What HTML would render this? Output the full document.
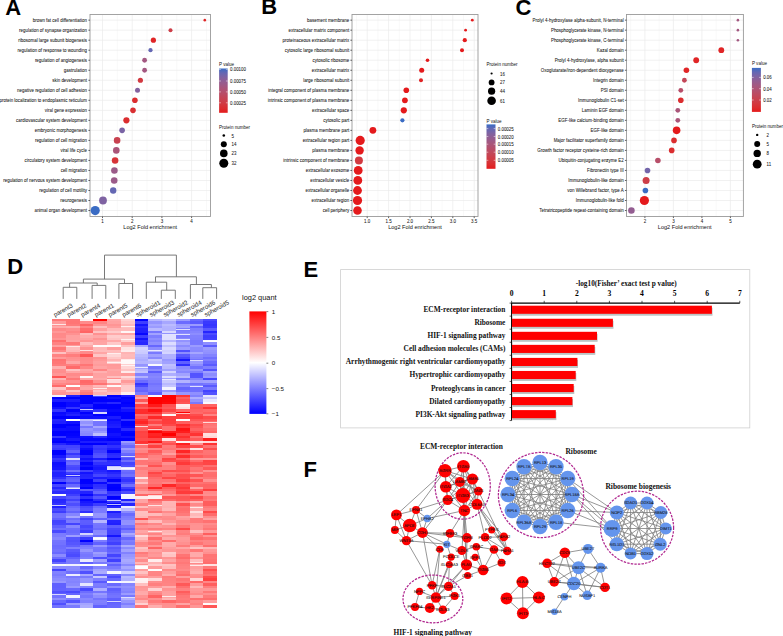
<!DOCTYPE html><html><head><meta charset="utf-8"><style>html,body{margin:0;padding:0;background:#fff;}svg{display:block;}</style></head><body>
<svg width="783" height="636" viewBox="0 0 783 636" font-family="Liberation Sans, sans-serif">
<defs>
<linearGradient id="gp" x1="0" y1="1" x2="0" y2="0"><stop offset="0.0" stop-color="#e41a1c"/><stop offset="0.1" stop-color="#db2d2f"/><stop offset="0.2" stop-color="#d23940"/><stop offset="0.3" stop-color="#c84250"/><stop offset="0.4" stop-color="#bd4a60"/><stop offset="0.5" stop-color="#b15171"/><stop offset="0.6" stop-color="#a35881"/><stop offset="0.7" stop-color="#935d91"/><stop offset="0.8" stop-color="#7f63a2"/><stop offset="0.9" stop-color="#6467b3"/><stop offset="1.0" stop-color="#3a6cc4"/></linearGradient>
<linearGradient id="gq" x1="0" y1="0" x2="0" y2="1"><stop offset="0" stop-color="#ff0000"/><stop offset="0.5" stop-color="#ffffff"/><stop offset="1" stop-color="#0000ff"/></linearGradient>
</defs>
<text x="5.2" y="14.6" font-size="22" font-weight="bold" fill="#000">A</text>
<line x1="117.35" y1="14.5" x2="117.35" y2="216.5" stroke="#f2f2f2" stroke-width="0.5"/>
<line x1="147.05" y1="14.5" x2="147.05" y2="216.5" stroke="#f2f2f2" stroke-width="0.5"/>
<line x1="176.75" y1="14.5" x2="176.75" y2="216.5" stroke="#f2f2f2" stroke-width="0.5"/>
<line x1="206.45" y1="14.5" x2="206.45" y2="216.5" stroke="#f2f2f2" stroke-width="0.5"/>
<line x1="90" y1="20.15" x2="210.5" y2="20.15" stroke="#ebebeb" stroke-width="0.7"/>
<line x1="90" y1="30.17" x2="210.5" y2="30.17" stroke="#ebebeb" stroke-width="0.7"/>
<line x1="90" y1="40.19" x2="210.5" y2="40.19" stroke="#ebebeb" stroke-width="0.7"/>
<line x1="90" y1="50.21" x2="210.5" y2="50.21" stroke="#ebebeb" stroke-width="0.7"/>
<line x1="90" y1="60.23" x2="210.5" y2="60.23" stroke="#ebebeb" stroke-width="0.7"/>
<line x1="90" y1="70.25" x2="210.5" y2="70.25" stroke="#ebebeb" stroke-width="0.7"/>
<line x1="90" y1="80.27" x2="210.5" y2="80.27" stroke="#ebebeb" stroke-width="0.7"/>
<line x1="90" y1="90.29" x2="210.5" y2="90.29" stroke="#ebebeb" stroke-width="0.7"/>
<line x1="90" y1="100.31" x2="210.5" y2="100.31" stroke="#ebebeb" stroke-width="0.7"/>
<line x1="90" y1="110.33" x2="210.5" y2="110.33" stroke="#ebebeb" stroke-width="0.7"/>
<line x1="90" y1="120.35" x2="210.5" y2="120.35" stroke="#ebebeb" stroke-width="0.7"/>
<line x1="90" y1="130.37" x2="210.5" y2="130.37" stroke="#ebebeb" stroke-width="0.7"/>
<line x1="90" y1="140.39" x2="210.5" y2="140.39" stroke="#ebebeb" stroke-width="0.7"/>
<line x1="90" y1="150.41" x2="210.5" y2="150.41" stroke="#ebebeb" stroke-width="0.7"/>
<line x1="90" y1="160.43" x2="210.5" y2="160.43" stroke="#ebebeb" stroke-width="0.7"/>
<line x1="90" y1="170.45" x2="210.5" y2="170.45" stroke="#ebebeb" stroke-width="0.7"/>
<line x1="90" y1="180.47" x2="210.5" y2="180.47" stroke="#ebebeb" stroke-width="0.7"/>
<line x1="90" y1="190.49" x2="210.5" y2="190.49" stroke="#ebebeb" stroke-width="0.7"/>
<line x1="90" y1="200.51" x2="210.5" y2="200.51" stroke="#ebebeb" stroke-width="0.7"/>
<line x1="90" y1="210.53" x2="210.5" y2="210.53" stroke="#ebebeb" stroke-width="0.7"/>
<line x1="102.5" y1="14.5" x2="102.5" y2="216.5" stroke="#ebebeb" stroke-width="0.7"/>
<line x1="132.2" y1="14.5" x2="132.2" y2="216.5" stroke="#ebebeb" stroke-width="0.7"/>
<line x1="161.9" y1="14.5" x2="161.9" y2="216.5" stroke="#ebebeb" stroke-width="0.7"/>
<line x1="191.6" y1="14.5" x2="191.6" y2="216.5" stroke="#ebebeb" stroke-width="0.7"/>
<rect x="90" y="14.5" width="120.5" height="202" fill="none" stroke="#9a9a9a" stroke-width="0.9"/>
<line x1="88.4" y1="20.15" x2="90" y2="20.15" stroke="#444" stroke-width="0.85"/>
<text x="86.9" y="22" font-size="4.46" text-anchor="end" fill="#151515" stroke="#151515" stroke-width="0.05">brown fat cell differentiation</text>
<line x1="88.4" y1="30.17" x2="90" y2="30.17" stroke="#444" stroke-width="0.85"/>
<text x="86.9" y="32.02" font-size="4.46" text-anchor="end" fill="#151515" stroke="#151515" stroke-width="0.05">regulation of synapse organization</text>
<line x1="88.4" y1="40.19" x2="90" y2="40.19" stroke="#444" stroke-width="0.85"/>
<text x="86.9" y="42.04" font-size="4.46" text-anchor="end" fill="#151515" stroke="#151515" stroke-width="0.05">ribosomal large subunit biogenesis</text>
<line x1="88.4" y1="50.21" x2="90" y2="50.21" stroke="#444" stroke-width="0.85"/>
<text x="86.9" y="52.06" font-size="4.46" text-anchor="end" fill="#151515" stroke="#151515" stroke-width="0.05">regulation of response to wounding</text>
<line x1="88.4" y1="60.23" x2="90" y2="60.23" stroke="#444" stroke-width="0.85"/>
<text x="86.9" y="62.08" font-size="4.46" text-anchor="end" fill="#151515" stroke="#151515" stroke-width="0.05">regulation of angiogenesis</text>
<line x1="88.4" y1="70.25" x2="90" y2="70.25" stroke="#444" stroke-width="0.85"/>
<text x="86.9" y="72.1" font-size="4.46" text-anchor="end" fill="#151515" stroke="#151515" stroke-width="0.05">gastrulation</text>
<line x1="88.4" y1="80.27" x2="90" y2="80.27" stroke="#444" stroke-width="0.85"/>
<text x="86.9" y="82.12" font-size="4.46" text-anchor="end" fill="#151515" stroke="#151515" stroke-width="0.05">skin development</text>
<line x1="88.4" y1="90.29" x2="90" y2="90.29" stroke="#444" stroke-width="0.85"/>
<text x="86.9" y="92.14" font-size="4.46" text-anchor="end" fill="#151515" stroke="#151515" stroke-width="0.05">negative regulation of cell adhesion</text>
<line x1="88.4" y1="100.31" x2="90" y2="100.31" stroke="#444" stroke-width="0.85"/>
<text x="86.9" y="102.16" font-size="4.46" text-anchor="end" fill="#151515" stroke="#151515" stroke-width="0.05">protein localization to endoplasmic reticulum</text>
<line x1="88.4" y1="110.33" x2="90" y2="110.33" stroke="#444" stroke-width="0.85"/>
<text x="86.9" y="112.18" font-size="4.46" text-anchor="end" fill="#151515" stroke="#151515" stroke-width="0.05">viral gene expression</text>
<line x1="88.4" y1="120.35" x2="90" y2="120.35" stroke="#444" stroke-width="0.85"/>
<text x="86.9" y="122.2" font-size="4.46" text-anchor="end" fill="#151515" stroke="#151515" stroke-width="0.05">cardiovascular system development</text>
<line x1="88.4" y1="130.37" x2="90" y2="130.37" stroke="#444" stroke-width="0.85"/>
<text x="86.9" y="132.22" font-size="4.46" text-anchor="end" fill="#151515" stroke="#151515" stroke-width="0.05">embryonic morphogenesis</text>
<line x1="88.4" y1="140.39" x2="90" y2="140.39" stroke="#444" stroke-width="0.85"/>
<text x="86.9" y="142.24" font-size="4.46" text-anchor="end" fill="#151515" stroke="#151515" stroke-width="0.05">regulation of cell migration</text>
<line x1="88.4" y1="150.41" x2="90" y2="150.41" stroke="#444" stroke-width="0.85"/>
<text x="86.9" y="152.26" font-size="4.46" text-anchor="end" fill="#151515" stroke="#151515" stroke-width="0.05">viral life cycle</text>
<line x1="88.4" y1="160.43" x2="90" y2="160.43" stroke="#444" stroke-width="0.85"/>
<text x="86.9" y="162.28" font-size="4.46" text-anchor="end" fill="#151515" stroke="#151515" stroke-width="0.05">circulatory system development</text>
<line x1="88.4" y1="170.45" x2="90" y2="170.45" stroke="#444" stroke-width="0.85"/>
<text x="86.9" y="172.3" font-size="4.46" text-anchor="end" fill="#151515" stroke="#151515" stroke-width="0.05">cell migration</text>
<line x1="88.4" y1="180.47" x2="90" y2="180.47" stroke="#444" stroke-width="0.85"/>
<text x="86.9" y="182.32" font-size="4.46" text-anchor="end" fill="#151515" stroke="#151515" stroke-width="0.05">regulation of nervous system development</text>
<line x1="88.4" y1="190.49" x2="90" y2="190.49" stroke="#444" stroke-width="0.85"/>
<text x="86.9" y="192.34" font-size="4.46" text-anchor="end" fill="#151515" stroke="#151515" stroke-width="0.05">regulation of cell motility</text>
<line x1="88.4" y1="200.51" x2="90" y2="200.51" stroke="#444" stroke-width="0.85"/>
<text x="86.9" y="202.36" font-size="4.46" text-anchor="end" fill="#151515" stroke="#151515" stroke-width="0.05">neurogenesis</text>
<line x1="88.4" y1="210.53" x2="90" y2="210.53" stroke="#444" stroke-width="0.85"/>
<text x="86.9" y="212.38" font-size="4.46" text-anchor="end" fill="#151515" stroke="#151515" stroke-width="0.05">animal organ development</text>
<line x1="102.5" y1="216.5" x2="102.5" y2="218.1" stroke="#444" stroke-width="0.85"/>
<text x="102.5" y="222.6" font-size="4.46" text-anchor="middle" fill="#151515" stroke="#151515" stroke-width="0.05">1</text>
<line x1="132.2" y1="216.5" x2="132.2" y2="218.1" stroke="#444" stroke-width="0.85"/>
<text x="132.2" y="222.6" font-size="4.46" text-anchor="middle" fill="#151515" stroke="#151515" stroke-width="0.05">2</text>
<line x1="161.9" y1="216.5" x2="161.9" y2="218.1" stroke="#444" stroke-width="0.85"/>
<text x="161.9" y="222.6" font-size="4.46" text-anchor="middle" fill="#151515" stroke="#151515" stroke-width="0.05">3</text>
<line x1="191.6" y1="216.5" x2="191.6" y2="218.1" stroke="#444" stroke-width="0.85"/>
<text x="191.6" y="222.6" font-size="4.46" text-anchor="middle" fill="#151515" stroke="#151515" stroke-width="0.05">4</text>
<text x="150.2" y="229.2" font-size="5.55" text-anchor="middle" fill="#111">Log2 Fold enrichment</text>
<circle cx="204.8" cy="20.15" r="1.3" fill="#e02526"/>
<circle cx="170.5" cy="30.17" r="2" fill="#cd3e48"/>
<circle cx="153.4" cy="40.19" r="2.6" fill="#e02526"/>
<circle cx="150.5" cy="50.21" r="2.1" fill="#6467b3"/>
<circle cx="144.6" cy="60.23" r="2.4" fill="#a35881"/>
<circle cx="144.6" cy="70.25" r="2.4" fill="#a35881"/>
<circle cx="140.4" cy="80.27" r="2.6" fill="#d23940"/>
<circle cx="137.5" cy="90.29" r="2.5" fill="#83629f"/>
<circle cx="134.9" cy="100.31" r="2.8" fill="#db2d2f"/>
<circle cx="133" cy="110.33" r="2.8" fill="#d92f32"/>
<circle cx="126.4" cy="120.35" r="3.1" fill="#db2d2f"/>
<circle cx="122.1" cy="130.37" r="2.8" fill="#7a64a5"/>
<circle cx="117.1" cy="140.39" r="3.3" fill="#c84250"/>
<circle cx="116.3" cy="150.41" r="3.3" fill="#aa5579"/>
<circle cx="115.1" cy="160.43" r="3.3" fill="#d73338"/>
<circle cx="114.4" cy="170.45" r="3.3" fill="#9b5b89"/>
<circle cx="114.2" cy="180.47" r="3.3" fill="#9b5b89"/>
<circle cx="113.2" cy="190.49" r="3.2" fill="#6467b3"/>
<circle cx="103" cy="200.51" r="3.9" fill="#7f63a2"/>
<circle cx="95.2" cy="210.53" r="4.6" fill="#3a6cc4"/>
<text x="219" y="66.4" font-size="4.55" fill="#111">P value</text>
<rect x="219.1" y="68.5" width="8.6" height="44.3" fill="url(#gp)"/>
<line x1="219.1" y1="69.4" x2="220.9" y2="69.4" stroke="#fff" stroke-width="0.5"/>
<line x1="225.9" y1="69.4" x2="227.7" y2="69.4" stroke="#fff" stroke-width="0.5"/>
<text x="230" y="71.4" font-size="4.42" fill="#151515" stroke="#151515" stroke-width="0.05">0.00100</text>
<line x1="219.1" y1="81" x2="220.9" y2="81" stroke="#fff" stroke-width="0.5"/>
<line x1="225.9" y1="81" x2="227.7" y2="81" stroke="#fff" stroke-width="0.5"/>
<text x="230" y="83" font-size="4.42" fill="#151515" stroke="#151515" stroke-width="0.05">0.00075</text>
<line x1="219.1" y1="91.9" x2="220.9" y2="91.9" stroke="#fff" stroke-width="0.5"/>
<line x1="225.9" y1="91.9" x2="227.7" y2="91.9" stroke="#fff" stroke-width="0.5"/>
<text x="230" y="93.9" font-size="4.42" fill="#151515" stroke="#151515" stroke-width="0.05">0.00050</text>
<line x1="219.1" y1="102.8" x2="220.9" y2="102.8" stroke="#fff" stroke-width="0.5"/>
<line x1="225.9" y1="102.8" x2="227.7" y2="102.8" stroke="#fff" stroke-width="0.5"/>
<text x="230" y="104.8" font-size="4.42" fill="#151515" stroke="#151515" stroke-width="0.05">0.00025</text>
<text x="219" y="129" font-size="4.55" fill="#111">Protein number</text>
<circle cx="223.8" cy="135.5" r="1.3" fill="#000"/>
<text x="231.5" y="137.5" font-size="4.42" fill="#151515" stroke="#151515" stroke-width="0.05">5</text>
<circle cx="223.8" cy="144.3" r="3" fill="#000"/>
<text x="231.5" y="146.3" font-size="4.42" fill="#151515" stroke="#151515" stroke-width="0.05">14</text>
<circle cx="223.8" cy="153.4" r="3.8" fill="#000"/>
<text x="231.5" y="155.4" font-size="4.42" fill="#151515" stroke="#151515" stroke-width="0.05">23</text>
<circle cx="223.8" cy="163.2" r="4.5" fill="#000"/>
<text x="231.5" y="165.2" font-size="4.42" fill="#151515" stroke="#151515" stroke-width="0.05">32</text>
<text x="261.2" y="14.4" font-size="22" font-weight="bold" fill="#000">B</text>
<line x1="356.5" y1="14.5" x2="356.5" y2="216.5" stroke="#f2f2f2" stroke-width="0.5"/>
<line x1="377.9" y1="14.5" x2="377.9" y2="216.5" stroke="#f2f2f2" stroke-width="0.5"/>
<line x1="399.3" y1="14.5" x2="399.3" y2="216.5" stroke="#f2f2f2" stroke-width="0.5"/>
<line x1="420.7" y1="14.5" x2="420.7" y2="216.5" stroke="#f2f2f2" stroke-width="0.5"/>
<line x1="442.1" y1="14.5" x2="442.1" y2="216.5" stroke="#f2f2f2" stroke-width="0.5"/>
<line x1="463.5" y1="14.5" x2="463.5" y2="216.5" stroke="#f2f2f2" stroke-width="0.5"/>
<line x1="352" y1="20.15" x2="478" y2="20.15" stroke="#ebebeb" stroke-width="0.7"/>
<line x1="352" y1="30.17" x2="478" y2="30.17" stroke="#ebebeb" stroke-width="0.7"/>
<line x1="352" y1="40.19" x2="478" y2="40.19" stroke="#ebebeb" stroke-width="0.7"/>
<line x1="352" y1="50.21" x2="478" y2="50.21" stroke="#ebebeb" stroke-width="0.7"/>
<line x1="352" y1="60.23" x2="478" y2="60.23" stroke="#ebebeb" stroke-width="0.7"/>
<line x1="352" y1="70.25" x2="478" y2="70.25" stroke="#ebebeb" stroke-width="0.7"/>
<line x1="352" y1="80.27" x2="478" y2="80.27" stroke="#ebebeb" stroke-width="0.7"/>
<line x1="352" y1="90.29" x2="478" y2="90.29" stroke="#ebebeb" stroke-width="0.7"/>
<line x1="352" y1="100.31" x2="478" y2="100.31" stroke="#ebebeb" stroke-width="0.7"/>
<line x1="352" y1="110.33" x2="478" y2="110.33" stroke="#ebebeb" stroke-width="0.7"/>
<line x1="352" y1="120.35" x2="478" y2="120.35" stroke="#ebebeb" stroke-width="0.7"/>
<line x1="352" y1="130.37" x2="478" y2="130.37" stroke="#ebebeb" stroke-width="0.7"/>
<line x1="352" y1="140.39" x2="478" y2="140.39" stroke="#ebebeb" stroke-width="0.7"/>
<line x1="352" y1="150.41" x2="478" y2="150.41" stroke="#ebebeb" stroke-width="0.7"/>
<line x1="352" y1="160.43" x2="478" y2="160.43" stroke="#ebebeb" stroke-width="0.7"/>
<line x1="352" y1="170.45" x2="478" y2="170.45" stroke="#ebebeb" stroke-width="0.7"/>
<line x1="352" y1="180.47" x2="478" y2="180.47" stroke="#ebebeb" stroke-width="0.7"/>
<line x1="352" y1="190.49" x2="478" y2="190.49" stroke="#ebebeb" stroke-width="0.7"/>
<line x1="352" y1="200.51" x2="478" y2="200.51" stroke="#ebebeb" stroke-width="0.7"/>
<line x1="352" y1="210.53" x2="478" y2="210.53" stroke="#ebebeb" stroke-width="0.7"/>
<line x1="367.2" y1="14.5" x2="367.2" y2="216.5" stroke="#ebebeb" stroke-width="0.7"/>
<line x1="388.6" y1="14.5" x2="388.6" y2="216.5" stroke="#ebebeb" stroke-width="0.7"/>
<line x1="410" y1="14.5" x2="410" y2="216.5" stroke="#ebebeb" stroke-width="0.7"/>
<line x1="431.4" y1="14.5" x2="431.4" y2="216.5" stroke="#ebebeb" stroke-width="0.7"/>
<line x1="452.8" y1="14.5" x2="452.8" y2="216.5" stroke="#ebebeb" stroke-width="0.7"/>
<line x1="474.2" y1="14.5" x2="474.2" y2="216.5" stroke="#ebebeb" stroke-width="0.7"/>
<rect x="352" y="14.5" width="126" height="202" fill="none" stroke="#9a9a9a" stroke-width="0.9"/>
<line x1="350.4" y1="20.15" x2="352" y2="20.15" stroke="#444" stroke-width="0.85"/>
<text x="349.2" y="22" font-size="4.46" text-anchor="end" fill="#151515" stroke="#151515" stroke-width="0.05">basement membrane</text>
<line x1="350.4" y1="30.17" x2="352" y2="30.17" stroke="#444" stroke-width="0.85"/>
<text x="349.2" y="32.02" font-size="4.46" text-anchor="end" fill="#151515" stroke="#151515" stroke-width="0.05">extracellular matrix component</text>
<line x1="350.4" y1="40.19" x2="352" y2="40.19" stroke="#444" stroke-width="0.85"/>
<text x="349.2" y="42.04" font-size="4.46" text-anchor="end" fill="#151515" stroke="#151515" stroke-width="0.05">proteinaceous extracellular matrix</text>
<line x1="350.4" y1="50.21" x2="352" y2="50.21" stroke="#444" stroke-width="0.85"/>
<text x="349.2" y="52.06" font-size="4.46" text-anchor="end" fill="#151515" stroke="#151515" stroke-width="0.05">cytosolic large ribosomal subunit</text>
<line x1="350.4" y1="60.23" x2="352" y2="60.23" stroke="#444" stroke-width="0.85"/>
<text x="349.2" y="62.08" font-size="4.46" text-anchor="end" fill="#151515" stroke="#151515" stroke-width="0.05">cytosolic ribosome</text>
<line x1="350.4" y1="70.25" x2="352" y2="70.25" stroke="#444" stroke-width="0.85"/>
<text x="349.2" y="72.1" font-size="4.46" text-anchor="end" fill="#151515" stroke="#151515" stroke-width="0.05">extracellular matrix</text>
<line x1="350.4" y1="80.27" x2="352" y2="80.27" stroke="#444" stroke-width="0.85"/>
<text x="349.2" y="82.12" font-size="4.46" text-anchor="end" fill="#151515" stroke="#151515" stroke-width="0.05">large ribosomal subunit</text>
<line x1="350.4" y1="90.29" x2="352" y2="90.29" stroke="#444" stroke-width="0.85"/>
<text x="349.2" y="92.14" font-size="4.46" text-anchor="end" fill="#151515" stroke="#151515" stroke-width="0.05">integral component of plasma membrane</text>
<line x1="350.4" y1="100.31" x2="352" y2="100.31" stroke="#444" stroke-width="0.85"/>
<text x="349.2" y="102.16" font-size="4.46" text-anchor="end" fill="#151515" stroke="#151515" stroke-width="0.05">intrinsic component of plasma membrane</text>
<line x1="350.4" y1="110.33" x2="352" y2="110.33" stroke="#444" stroke-width="0.85"/>
<text x="349.2" y="112.18" font-size="4.46" text-anchor="end" fill="#151515" stroke="#151515" stroke-width="0.05">extracellular space</text>
<line x1="350.4" y1="120.35" x2="352" y2="120.35" stroke="#444" stroke-width="0.85"/>
<text x="349.2" y="122.2" font-size="4.46" text-anchor="end" fill="#151515" stroke="#151515" stroke-width="0.05">cytosolic part</text>
<line x1="350.4" y1="130.37" x2="352" y2="130.37" stroke="#444" stroke-width="0.85"/>
<text x="349.2" y="132.22" font-size="4.46" text-anchor="end" fill="#151515" stroke="#151515" stroke-width="0.05">plasma membrane part</text>
<line x1="350.4" y1="140.39" x2="352" y2="140.39" stroke="#444" stroke-width="0.85"/>
<text x="349.2" y="142.24" font-size="4.46" text-anchor="end" fill="#151515" stroke="#151515" stroke-width="0.05">extracellular region part</text>
<line x1="350.4" y1="150.41" x2="352" y2="150.41" stroke="#444" stroke-width="0.85"/>
<text x="349.2" y="152.26" font-size="4.46" text-anchor="end" fill="#151515" stroke="#151515" stroke-width="0.05">plasma membrane</text>
<line x1="350.4" y1="160.43" x2="352" y2="160.43" stroke="#444" stroke-width="0.85"/>
<text x="349.2" y="162.28" font-size="4.46" text-anchor="end" fill="#151515" stroke="#151515" stroke-width="0.05">intrinsic component of membrane</text>
<line x1="350.4" y1="170.45" x2="352" y2="170.45" stroke="#444" stroke-width="0.85"/>
<text x="349.2" y="172.3" font-size="4.46" text-anchor="end" fill="#151515" stroke="#151515" stroke-width="0.05">extracellular exosome</text>
<line x1="350.4" y1="180.47" x2="352" y2="180.47" stroke="#444" stroke-width="0.85"/>
<text x="349.2" y="182.32" font-size="4.46" text-anchor="end" fill="#151515" stroke="#151515" stroke-width="0.05">extracellular vesicle</text>
<line x1="350.4" y1="190.49" x2="352" y2="190.49" stroke="#444" stroke-width="0.85"/>
<text x="349.2" y="192.34" font-size="4.46" text-anchor="end" fill="#151515" stroke="#151515" stroke-width="0.05">extracellular organelle</text>
<line x1="350.4" y1="200.51" x2="352" y2="200.51" stroke="#444" stroke-width="0.85"/>
<text x="349.2" y="202.36" font-size="4.46" text-anchor="end" fill="#151515" stroke="#151515" stroke-width="0.05">extracellular region</text>
<line x1="350.4" y1="210.53" x2="352" y2="210.53" stroke="#444" stroke-width="0.85"/>
<text x="349.2" y="212.38" font-size="4.46" text-anchor="end" fill="#151515" stroke="#151515" stroke-width="0.05">cell periphery</text>
<line x1="367.2" y1="216.5" x2="367.2" y2="218.1" stroke="#444" stroke-width="0.85"/>
<text x="367.2" y="222.6" font-size="4.46" text-anchor="middle" fill="#151515" stroke="#151515" stroke-width="0.05">1.0</text>
<line x1="388.6" y1="216.5" x2="388.6" y2="218.1" stroke="#444" stroke-width="0.85"/>
<text x="388.6" y="222.6" font-size="4.46" text-anchor="middle" fill="#151515" stroke="#151515" stroke-width="0.05">1.5</text>
<line x1="410" y1="216.5" x2="410" y2="218.1" stroke="#444" stroke-width="0.85"/>
<text x="410" y="222.6" font-size="4.46" text-anchor="middle" fill="#151515" stroke="#151515" stroke-width="0.05">2.0</text>
<line x1="431.4" y1="216.5" x2="431.4" y2="218.1" stroke="#444" stroke-width="0.85"/>
<text x="431.4" y="222.6" font-size="4.46" text-anchor="middle" fill="#151515" stroke="#151515" stroke-width="0.05">2.5</text>
<line x1="452.8" y1="216.5" x2="452.8" y2="218.1" stroke="#444" stroke-width="0.85"/>
<text x="452.8" y="222.6" font-size="4.46" text-anchor="middle" fill="#151515" stroke="#151515" stroke-width="0.05">3.0</text>
<line x1="474.2" y1="216.5" x2="474.2" y2="218.1" stroke="#444" stroke-width="0.85"/>
<text x="474.2" y="222.6" font-size="4.46" text-anchor="middle" fill="#151515" stroke="#151515" stroke-width="0.05">3.5</text>
<text x="415" y="229.2" font-size="5.55" text-anchor="middle" fill="#111">Log2 Fold enrichment</text>
<circle cx="472.3" cy="20.15" r="1.4" fill="#e41a1c"/>
<circle cx="465.6" cy="30.17" r="1.4" fill="#e41a1c"/>
<circle cx="464.8" cy="40.19" r="2.1" fill="#e41a1c"/>
<circle cx="462" cy="50.21" r="2" fill="#e41a1c"/>
<circle cx="427.5" cy="60.23" r="1.8" fill="#e41a1c"/>
<circle cx="421.7" cy="70.25" r="2.5" fill="#e41a1c"/>
<circle cx="421" cy="80.27" r="2" fill="#e02526"/>
<circle cx="406.3" cy="90.29" r="2.8" fill="#e41a1c"/>
<circle cx="404.9" cy="100.31" r="2.9" fill="#e41a1c"/>
<circle cx="403.8" cy="110.33" r="3.1" fill="#e41a1c"/>
<circle cx="402.4" cy="120.35" r="2.1" fill="#3a6cc4"/>
<circle cx="372.9" cy="130.37" r="3.4" fill="#e41a1c"/>
<circle cx="360.2" cy="140.39" r="4.6" fill="#e41a1c"/>
<circle cx="359.6" cy="150.41" r="4.2" fill="#e41a1c"/>
<circle cx="358.9" cy="160.43" r="4" fill="#d23940"/>
<circle cx="358.2" cy="170.45" r="4.4" fill="#e41a1c"/>
<circle cx="357.8" cy="180.47" r="4.4" fill="#e41a1c"/>
<circle cx="357.5" cy="190.49" r="4.4" fill="#e41a1c"/>
<circle cx="357.5" cy="200.51" r="4.6" fill="#e41a1c"/>
<circle cx="357.5" cy="210.53" r="4.3" fill="#e41a1c"/>
<text x="486.5" y="66.2" font-size="4.55" fill="#111">Protein number</text>
<circle cx="491.6" cy="73.5" r="1.1" fill="#000"/>
<text x="500" y="75.5" font-size="4.42" fill="#151515" stroke="#151515" stroke-width="0.05">16</text>
<circle cx="491.6" cy="82.4" r="2.9" fill="#000"/>
<text x="500" y="84.4" font-size="4.42" fill="#151515" stroke="#151515" stroke-width="0.05">27</text>
<circle cx="491.6" cy="91.2" r="3.6" fill="#000"/>
<text x="500" y="93.2" font-size="4.42" fill="#151515" stroke="#151515" stroke-width="0.05">44</text>
<circle cx="491.6" cy="100.8" r="4.3" fill="#000"/>
<text x="500" y="102.8" font-size="4.42" fill="#151515" stroke="#151515" stroke-width="0.05">61</text>
<text x="486.5" y="122.9" font-size="4.55" fill="#111">P value</text>
<rect x="486.5" y="124.4" width="9" height="44.4" fill="url(#gp)"/>
<line x1="486.5" y1="128.6" x2="488.3" y2="128.6" stroke="#fff" stroke-width="0.5"/>
<line x1="493.7" y1="128.6" x2="495.5" y2="128.6" stroke="#fff" stroke-width="0.5"/>
<text x="497.8" y="130.6" font-size="4.42" fill="#151515" stroke="#151515" stroke-width="0.05">0.00025</text>
<line x1="486.5" y1="136.5" x2="488.3" y2="136.5" stroke="#fff" stroke-width="0.5"/>
<line x1="493.7" y1="136.5" x2="495.5" y2="136.5" stroke="#fff" stroke-width="0.5"/>
<text x="497.8" y="138.5" font-size="4.42" fill="#151515" stroke="#151515" stroke-width="0.05">0.00020</text>
<line x1="486.5" y1="144.2" x2="488.3" y2="144.2" stroke="#fff" stroke-width="0.5"/>
<line x1="493.7" y1="144.2" x2="495.5" y2="144.2" stroke="#fff" stroke-width="0.5"/>
<text x="497.8" y="146.2" font-size="4.42" fill="#151515" stroke="#151515" stroke-width="0.05">0.00015</text>
<line x1="486.5" y1="152.2" x2="488.3" y2="152.2" stroke="#fff" stroke-width="0.5"/>
<line x1="493.7" y1="152.2" x2="495.5" y2="152.2" stroke="#fff" stroke-width="0.5"/>
<text x="497.8" y="154.2" font-size="4.42" fill="#151515" stroke="#151515" stroke-width="0.05">0.00010</text>
<line x1="486.5" y1="160.3" x2="488.3" y2="160.3" stroke="#fff" stroke-width="0.5"/>
<line x1="493.7" y1="160.3" x2="495.5" y2="160.3" stroke="#fff" stroke-width="0.5"/>
<text x="497.8" y="162.3" font-size="4.42" fill="#151515" stroke="#151515" stroke-width="0.05">0.00005</text>
<text x="515.5" y="14.6" font-size="22" font-weight="bold" fill="#000">C</text>
<line x1="630.65" y1="14.5" x2="630.65" y2="216.5" stroke="#f2f2f2" stroke-width="0.5"/>
<line x1="659.15" y1="14.5" x2="659.15" y2="216.5" stroke="#f2f2f2" stroke-width="0.5"/>
<line x1="687.65" y1="14.5" x2="687.65" y2="216.5" stroke="#f2f2f2" stroke-width="0.5"/>
<line x1="716.15" y1="14.5" x2="716.15" y2="216.5" stroke="#f2f2f2" stroke-width="0.5"/>
<line x1="626.5" y1="20.15" x2="743.4" y2="20.15" stroke="#ebebeb" stroke-width="0.7"/>
<line x1="626.5" y1="30.17" x2="743.4" y2="30.17" stroke="#ebebeb" stroke-width="0.7"/>
<line x1="626.5" y1="40.19" x2="743.4" y2="40.19" stroke="#ebebeb" stroke-width="0.7"/>
<line x1="626.5" y1="50.21" x2="743.4" y2="50.21" stroke="#ebebeb" stroke-width="0.7"/>
<line x1="626.5" y1="60.23" x2="743.4" y2="60.23" stroke="#ebebeb" stroke-width="0.7"/>
<line x1="626.5" y1="70.25" x2="743.4" y2="70.25" stroke="#ebebeb" stroke-width="0.7"/>
<line x1="626.5" y1="80.27" x2="743.4" y2="80.27" stroke="#ebebeb" stroke-width="0.7"/>
<line x1="626.5" y1="90.29" x2="743.4" y2="90.29" stroke="#ebebeb" stroke-width="0.7"/>
<line x1="626.5" y1="100.31" x2="743.4" y2="100.31" stroke="#ebebeb" stroke-width="0.7"/>
<line x1="626.5" y1="110.33" x2="743.4" y2="110.33" stroke="#ebebeb" stroke-width="0.7"/>
<line x1="626.5" y1="120.35" x2="743.4" y2="120.35" stroke="#ebebeb" stroke-width="0.7"/>
<line x1="626.5" y1="130.37" x2="743.4" y2="130.37" stroke="#ebebeb" stroke-width="0.7"/>
<line x1="626.5" y1="140.39" x2="743.4" y2="140.39" stroke="#ebebeb" stroke-width="0.7"/>
<line x1="626.5" y1="150.41" x2="743.4" y2="150.41" stroke="#ebebeb" stroke-width="0.7"/>
<line x1="626.5" y1="160.43" x2="743.4" y2="160.43" stroke="#ebebeb" stroke-width="0.7"/>
<line x1="626.5" y1="170.45" x2="743.4" y2="170.45" stroke="#ebebeb" stroke-width="0.7"/>
<line x1="626.5" y1="180.47" x2="743.4" y2="180.47" stroke="#ebebeb" stroke-width="0.7"/>
<line x1="626.5" y1="190.49" x2="743.4" y2="190.49" stroke="#ebebeb" stroke-width="0.7"/>
<line x1="626.5" y1="200.51" x2="743.4" y2="200.51" stroke="#ebebeb" stroke-width="0.7"/>
<line x1="626.5" y1="210.53" x2="743.4" y2="210.53" stroke="#ebebeb" stroke-width="0.7"/>
<line x1="644.9" y1="14.5" x2="644.9" y2="216.5" stroke="#ebebeb" stroke-width="0.7"/>
<line x1="673.4" y1="14.5" x2="673.4" y2="216.5" stroke="#ebebeb" stroke-width="0.7"/>
<line x1="701.9" y1="14.5" x2="701.9" y2="216.5" stroke="#ebebeb" stroke-width="0.7"/>
<line x1="730.4" y1="14.5" x2="730.4" y2="216.5" stroke="#ebebeb" stroke-width="0.7"/>
<rect x="626.5" y="14.5" width="116.9" height="202" fill="none" stroke="#9a9a9a" stroke-width="0.9"/>
<line x1="624.9" y1="20.15" x2="626.5" y2="20.15" stroke="#444" stroke-width="0.85"/>
<text x="623.7" y="22" font-size="4.46" text-anchor="end" fill="#151515" stroke="#151515" stroke-width="0.05">Prolyl 4-hydroxylase alpha-subunit, N-terminal</text>
<line x1="624.9" y1="30.17" x2="626.5" y2="30.17" stroke="#444" stroke-width="0.85"/>
<text x="623.7" y="32.02" font-size="4.46" text-anchor="end" fill="#151515" stroke="#151515" stroke-width="0.05">Phosphoglycerate kinase, N-terminal</text>
<line x1="624.9" y1="40.19" x2="626.5" y2="40.19" stroke="#444" stroke-width="0.85"/>
<text x="623.7" y="42.04" font-size="4.46" text-anchor="end" fill="#151515" stroke="#151515" stroke-width="0.05">Phosphoglycerate kinase, C-terminal</text>
<line x1="624.9" y1="50.21" x2="626.5" y2="50.21" stroke="#444" stroke-width="0.85"/>
<text x="623.7" y="52.06" font-size="4.46" text-anchor="end" fill="#151515" stroke="#151515" stroke-width="0.05">Kazal domain</text>
<line x1="624.9" y1="60.23" x2="626.5" y2="60.23" stroke="#444" stroke-width="0.85"/>
<text x="623.7" y="62.08" font-size="4.46" text-anchor="end" fill="#151515" stroke="#151515" stroke-width="0.05">Prolyl 4-hydroxylase, alpha subunit</text>
<line x1="624.9" y1="70.25" x2="626.5" y2="70.25" stroke="#444" stroke-width="0.85"/>
<text x="623.7" y="72.1" font-size="4.46" text-anchor="end" fill="#151515" stroke="#151515" stroke-width="0.05">Oxoglutarate/iron-dependent dioxygenase</text>
<line x1="624.9" y1="80.27" x2="626.5" y2="80.27" stroke="#444" stroke-width="0.85"/>
<text x="623.7" y="82.12" font-size="4.46" text-anchor="end" fill="#151515" stroke="#151515" stroke-width="0.05">Integrin domain</text>
<line x1="624.9" y1="90.29" x2="626.5" y2="90.29" stroke="#444" stroke-width="0.85"/>
<text x="623.7" y="92.14" font-size="4.46" text-anchor="end" fill="#151515" stroke="#151515" stroke-width="0.05">PSI domain</text>
<line x1="624.9" y1="100.31" x2="626.5" y2="100.31" stroke="#444" stroke-width="0.85"/>
<text x="623.7" y="102.16" font-size="4.46" text-anchor="end" fill="#151515" stroke="#151515" stroke-width="0.05">Immunoglobulin C1-set</text>
<line x1="624.9" y1="110.33" x2="626.5" y2="110.33" stroke="#444" stroke-width="0.85"/>
<text x="623.7" y="112.18" font-size="4.46" text-anchor="end" fill="#151515" stroke="#151515" stroke-width="0.05">Laminin EGF domain</text>
<line x1="624.9" y1="120.35" x2="626.5" y2="120.35" stroke="#444" stroke-width="0.85"/>
<text x="623.7" y="122.2" font-size="4.46" text-anchor="end" fill="#151515" stroke="#151515" stroke-width="0.05">EGF-like calcium-binding domain</text>
<line x1="624.9" y1="130.37" x2="626.5" y2="130.37" stroke="#444" stroke-width="0.85"/>
<text x="623.7" y="132.22" font-size="4.46" text-anchor="end" fill="#151515" stroke="#151515" stroke-width="0.05">EGF-like domain</text>
<line x1="624.9" y1="140.39" x2="626.5" y2="140.39" stroke="#444" stroke-width="0.85"/>
<text x="623.7" y="142.24" font-size="4.46" text-anchor="end" fill="#151515" stroke="#151515" stroke-width="0.05">Major facilitator superfamily domain</text>
<line x1="624.9" y1="150.41" x2="626.5" y2="150.41" stroke="#444" stroke-width="0.85"/>
<text x="623.7" y="152.26" font-size="4.46" text-anchor="end" fill="#151515" stroke="#151515" stroke-width="0.05">Growth factor receptor cysteine-rich domain</text>
<line x1="624.9" y1="160.43" x2="626.5" y2="160.43" stroke="#444" stroke-width="0.85"/>
<text x="623.7" y="162.28" font-size="4.46" text-anchor="end" fill="#151515" stroke="#151515" stroke-width="0.05">Ubiquitin-conjugating enzyme E2</text>
<line x1="624.9" y1="170.45" x2="626.5" y2="170.45" stroke="#444" stroke-width="0.85"/>
<text x="623.7" y="172.3" font-size="4.46" text-anchor="end" fill="#151515" stroke="#151515" stroke-width="0.05">Fibronectin type III</text>
<line x1="624.9" y1="180.47" x2="626.5" y2="180.47" stroke="#444" stroke-width="0.85"/>
<text x="623.7" y="182.32" font-size="4.46" text-anchor="end" fill="#151515" stroke="#151515" stroke-width="0.05">Immunoglobulin-like domain</text>
<line x1="624.9" y1="190.49" x2="626.5" y2="190.49" stroke="#444" stroke-width="0.85"/>
<text x="623.7" y="192.34" font-size="4.46" text-anchor="end" fill="#151515" stroke="#151515" stroke-width="0.05">von Willebrand factor, type A</text>
<line x1="624.9" y1="200.51" x2="626.5" y2="200.51" stroke="#444" stroke-width="0.85"/>
<text x="623.7" y="202.36" font-size="4.46" text-anchor="end" fill="#151515" stroke="#151515" stroke-width="0.05">Immunoglobulin-like fold</text>
<line x1="624.9" y1="210.53" x2="626.5" y2="210.53" stroke="#444" stroke-width="0.85"/>
<text x="623.7" y="212.38" font-size="4.46" text-anchor="end" fill="#151515" stroke="#151515" stroke-width="0.05">Tetratricopeptide repeat-containing domain</text>
<line x1="644.9" y1="216.5" x2="644.9" y2="218.1" stroke="#444" stroke-width="0.85"/>
<text x="644.9" y="222.6" font-size="4.46" text-anchor="middle" fill="#151515" stroke="#151515" stroke-width="0.05">2</text>
<line x1="673.4" y1="216.5" x2="673.4" y2="218.1" stroke="#444" stroke-width="0.85"/>
<text x="673.4" y="222.6" font-size="4.46" text-anchor="middle" fill="#151515" stroke="#151515" stroke-width="0.05">3</text>
<line x1="701.9" y1="216.5" x2="701.9" y2="218.1" stroke="#444" stroke-width="0.85"/>
<text x="701.9" y="222.6" font-size="4.46" text-anchor="middle" fill="#151515" stroke="#151515" stroke-width="0.05">4</text>
<line x1="730.4" y1="216.5" x2="730.4" y2="218.1" stroke="#444" stroke-width="0.85"/>
<text x="730.4" y="222.6" font-size="4.46" text-anchor="middle" fill="#151515" stroke="#151515" stroke-width="0.05">5</text>
<text x="684.7" y="229.2" font-size="5.55" text-anchor="middle" fill="#111">Log2 Fold enrichment</text>
<circle cx="737.9" cy="20.15" r="1.3" fill="#a35881"/>
<circle cx="737.9" cy="30.17" r="1.3" fill="#a35881"/>
<circle cx="737.9" cy="40.19" r="1.3" fill="#a35881"/>
<circle cx="721.3" cy="50.21" r="2.9" fill="#e02526"/>
<circle cx="696.2" cy="60.23" r="2.9" fill="#e02526"/>
<circle cx="686.4" cy="70.25" r="2.8" fill="#e02526"/>
<circle cx="684.4" cy="80.27" r="2.4" fill="#c34758"/>
<circle cx="680.8" cy="90.29" r="2.4" fill="#b74e69"/>
<circle cx="680.8" cy="100.31" r="2.8" fill="#db2d2f"/>
<circle cx="677.8" cy="110.33" r="2.4" fill="#aa5579"/>
<circle cx="677.8" cy="120.35" r="2.4" fill="#aa5579"/>
<circle cx="676.6" cy="130.37" r="3.8" fill="#e41a1c"/>
<circle cx="674" cy="140.39" r="2.8" fill="#db2d2f"/>
<circle cx="671.7" cy="150.41" r="2.8" fill="#db2d2f"/>
<circle cx="657.9" cy="160.43" r="2.8" fill="#b74e69"/>
<circle cx="647.5" cy="170.45" r="2.8" fill="#7365aa"/>
<circle cx="646.1" cy="180.47" r="3.5" fill="#cd3e48"/>
<circle cx="645.4" cy="190.49" r="2.8" fill="#3a6cc4"/>
<circle cx="644.4" cy="200.51" r="4.6" fill="#e41a1c"/>
<circle cx="631.4" cy="210.53" r="3.3" fill="#935d91"/>
<text x="751.9" y="65.4" font-size="4.55" fill="#111">P value</text>
<rect x="751.9" y="67.9" width="9" height="44" fill="url(#gp)"/>
<line x1="751.9" y1="77.4" x2="753.7" y2="77.4" stroke="#fff" stroke-width="0.5"/>
<line x1="759.1" y1="77.4" x2="760.9" y2="77.4" stroke="#fff" stroke-width="0.5"/>
<text x="763.2" y="79.4" font-size="4.42" fill="#151515" stroke="#151515" stroke-width="0.05">0.06</text>
<line x1="751.9" y1="88.7" x2="753.7" y2="88.7" stroke="#fff" stroke-width="0.5"/>
<line x1="759.1" y1="88.7" x2="760.9" y2="88.7" stroke="#fff" stroke-width="0.5"/>
<text x="763.2" y="90.7" font-size="4.42" fill="#151515" stroke="#151515" stroke-width="0.05">0.04</text>
<line x1="751.9" y1="100" x2="753.7" y2="100" stroke="#fff" stroke-width="0.5"/>
<line x1="759.1" y1="100" x2="760.9" y2="100" stroke="#fff" stroke-width="0.5"/>
<text x="763.2" y="102" font-size="4.42" fill="#151515" stroke="#151515" stroke-width="0.05">0.02</text>
<text x="751.9" y="128.2" font-size="4.55" fill="#111">Protein number</text>
<circle cx="757.2" cy="134.9" r="1.2" fill="#000"/>
<text x="766.6" y="136.9" font-size="4.42" fill="#151515" stroke="#151515" stroke-width="0.05">2</text>
<circle cx="757.2" cy="144" r="3" fill="#000"/>
<text x="766.6" y="146" font-size="4.42" fill="#151515" stroke="#151515" stroke-width="0.05">5</text>
<circle cx="757.2" cy="153.4" r="3.7" fill="#000"/>
<text x="766.6" y="155.4" font-size="4.42" fill="#151515" stroke="#151515" stroke-width="0.05">8</text>
<circle cx="757.2" cy="164.2" r="4.4" fill="#000"/>
<text x="766.6" y="166.2" font-size="4.42" fill="#151515" stroke="#151515" stroke-width="0.05">11</text>
<text x="7.2" y="273.9" font-size="22" font-weight="bold" fill="#000">D</text>
<g shape-rendering="crispEdges">
<rect x="52.3" y="318.8" width="14.02" height="2.67" fill="#ff7777"/>
<rect x="66.02" y="318.8" width="14.02" height="2.67" fill="#ff7676"/>
<rect x="79.74" y="318.8" width="14.02" height="2.67" fill="#fff2f2"/>
<rect x="93.46" y="318.8" width="14.02" height="2.67" fill="#ff0000"/>
<rect x="107.18" y="318.8" width="14.02" height="2.67" fill="#ffa7a7"/>
<rect x="120.9" y="318.8" width="14.02" height="2.67" fill="#ffd3d3"/>
<rect x="134.62" y="318.8" width="14.02" height="2.67" fill="#0000ff"/>
<rect x="148.34" y="318.8" width="14.02" height="2.67" fill="#b6b6ff"/>
<rect x="162.06" y="318.8" width="14.02" height="2.67" fill="#c3c3ff"/>
<rect x="175.78" y="318.8" width="14.02" height="2.67" fill="#9b9bff"/>
<rect x="189.5" y="318.8" width="14.02" height="2.67" fill="#6969ff"/>
<rect x="203.22" y="318.8" width="14.02" height="2.67" fill="#4a4aff"/>
<rect x="52.3" y="321.17" width="14.02" height="2.67" fill="#ff9a9a"/>
<rect x="66.02" y="321.17" width="14.02" height="2.67" fill="#ff7575"/>
<rect x="79.74" y="321.17" width="14.02" height="2.67" fill="#ff8b8b"/>
<rect x="93.46" y="321.17" width="14.02" height="2.67" fill="#ff8484"/>
<rect x="107.18" y="321.17" width="14.02" height="2.67" fill="#ffa1a1"/>
<rect x="120.9" y="321.17" width="14.02" height="2.67" fill="#ffc8c8"/>
<rect x="134.62" y="321.17" width="14.02" height="2.67" fill="#3e3eff"/>
<rect x="148.34" y="321.17" width="14.02" height="2.67" fill="#9595ff"/>
<rect x="162.06" y="321.17" width="14.02" height="2.67" fill="#a7a7ff"/>
<rect x="175.78" y="321.17" width="14.02" height="2.67" fill="#6c6cff"/>
<rect x="189.5" y="321.17" width="14.02" height="2.67" fill="#5a5aff"/>
<rect x="203.22" y="321.17" width="14.02" height="2.67" fill="#3939ff"/>
<rect x="52.3" y="323.54" width="14.02" height="2.67" fill="#ff9292"/>
<rect x="66.02" y="323.54" width="14.02" height="2.67" fill="#ff7b7b"/>
<rect x="79.74" y="323.54" width="14.02" height="2.67" fill="#ff6464"/>
<rect x="93.46" y="323.54" width="14.02" height="2.67" fill="#ff9696"/>
<rect x="107.18" y="323.54" width="14.02" height="2.67" fill="#ff9595"/>
<rect x="120.9" y="323.54" width="14.02" height="2.67" fill="#ffb9b9"/>
<rect x="134.62" y="323.54" width="14.02" height="2.67" fill="#1515ff"/>
<rect x="148.34" y="323.54" width="14.02" height="2.67" fill="#a6a6ff"/>
<rect x="162.06" y="323.54" width="14.02" height="2.67" fill="#bbbbff"/>
<rect x="175.78" y="323.54" width="14.02" height="2.67" fill="#9d9dff"/>
<rect x="189.5" y="323.54" width="14.02" height="2.67" fill="#9a9aff"/>
<rect x="203.22" y="323.54" width="14.02" height="2.67" fill="#3434ff"/>
<rect x="52.3" y="325.91" width="14.02" height="2.67" fill="#ffa9a9"/>
<rect x="66.02" y="325.91" width="14.02" height="2.67" fill="#ffaeae"/>
<rect x="79.74" y="325.91" width="14.02" height="2.67" fill="#ff8585"/>
<rect x="93.46" y="325.91" width="14.02" height="2.67" fill="#ffbebe"/>
<rect x="107.18" y="325.91" width="14.02" height="2.67" fill="#ff9d9d"/>
<rect x="120.9" y="325.91" width="14.02" height="2.67" fill="#ffc0c0"/>
<rect x="134.62" y="325.91" width="14.02" height="2.67" fill="#2d2dff"/>
<rect x="148.34" y="325.91" width="14.02" height="2.67" fill="#9b9bff"/>
<rect x="162.06" y="325.91" width="14.02" height="2.67" fill="#b2b2ff"/>
<rect x="175.78" y="325.91" width="14.02" height="2.67" fill="#a4a4ff"/>
<rect x="189.5" y="325.91" width="14.02" height="2.67" fill="#6363ff"/>
<rect x="203.22" y="325.91" width="14.02" height="2.67" fill="#3939ff"/>
<rect x="52.3" y="328.28" width="14.02" height="2.67" fill="#ff8989"/>
<rect x="66.02" y="328.28" width="14.02" height="2.67" fill="#ff8f8f"/>
<rect x="79.74" y="328.28" width="14.02" height="2.67" fill="#ff6d6d"/>
<rect x="93.46" y="328.28" width="14.02" height="2.67" fill="#ffa0a0"/>
<rect x="107.18" y="328.28" width="14.02" height="2.67" fill="#ffb8b8"/>
<rect x="120.9" y="328.28" width="14.02" height="2.67" fill="#ffbbbb"/>
<rect x="134.62" y="328.28" width="14.02" height="2.67" fill="#2121ff"/>
<rect x="148.34" y="328.28" width="14.02" height="2.67" fill="#babaff"/>
<rect x="162.06" y="328.28" width="14.02" height="2.67" fill="#b1b1ff"/>
<rect x="175.78" y="328.28" width="14.02" height="2.67" fill="#7a7aff"/>
<rect x="189.5" y="328.28" width="14.02" height="2.67" fill="#7d7dff"/>
<rect x="203.22" y="328.28" width="14.02" height="2.67" fill="#5a5aff"/>
<rect x="52.3" y="330.64" width="14.02" height="2.67" fill="#ff9898"/>
<rect x="66.02" y="330.64" width="14.02" height="2.67" fill="#ff8686"/>
<rect x="79.74" y="330.64" width="14.02" height="2.67" fill="#ff6565"/>
<rect x="93.46" y="330.64" width="14.02" height="2.67" fill="#ffc2c2"/>
<rect x="107.18" y="330.64" width="14.02" height="2.67" fill="#ffcbcb"/>
<rect x="120.9" y="330.64" width="14.02" height="2.67" fill="#fff6f6"/>
<rect x="134.62" y="330.64" width="14.02" height="2.67" fill="#1f1fff"/>
<rect x="148.34" y="330.64" width="14.02" height="2.67" fill="#7676ff"/>
<rect x="162.06" y="330.64" width="14.02" height="2.67" fill="#d9d9ff"/>
<rect x="175.78" y="330.64" width="14.02" height="2.67" fill="#7f7fff"/>
<rect x="189.5" y="330.64" width="14.02" height="2.67" fill="#8484ff"/>
<rect x="203.22" y="330.64" width="14.02" height="2.67" fill="#2626ff"/>
<rect x="52.3" y="333.01" width="14.02" height="2.67" fill="#ff8989"/>
<rect x="66.02" y="333.01" width="14.02" height="2.67" fill="#ff9191"/>
<rect x="79.74" y="333.01" width="14.02" height="2.67" fill="#ffbcbc"/>
<rect x="93.46" y="333.01" width="14.02" height="2.67" fill="#ff9191"/>
<rect x="107.18" y="333.01" width="14.02" height="2.67" fill="#ffabab"/>
<rect x="120.9" y="333.01" width="14.02" height="2.67" fill="#ffa5a5"/>
<rect x="134.62" y="333.01" width="14.02" height="2.67" fill="#0808ff"/>
<rect x="148.34" y="333.01" width="14.02" height="2.67" fill="#a3a3ff"/>
<rect x="162.06" y="333.01" width="14.02" height="2.67" fill="#9393ff"/>
<rect x="175.78" y="333.01" width="14.02" height="2.67" fill="#8c8cff"/>
<rect x="189.5" y="333.01" width="14.02" height="2.67" fill="#8d8dff"/>
<rect x="203.22" y="333.01" width="14.02" height="2.67" fill="#4d4dff"/>
<rect x="52.3" y="335.38" width="14.02" height="2.67" fill="#ff8a8a"/>
<rect x="66.02" y="335.38" width="14.02" height="2.67" fill="#ffa0a0"/>
<rect x="79.74" y="335.38" width="14.02" height="2.67" fill="#ffadad"/>
<rect x="93.46" y="335.38" width="14.02" height="2.67" fill="#ffa7a7"/>
<rect x="107.18" y="335.38" width="14.02" height="2.67" fill="#ffcccc"/>
<rect x="120.9" y="335.38" width="14.02" height="2.67" fill="#ffc8c8"/>
<rect x="134.62" y="335.38" width="14.02" height="2.67" fill="#3e3eff"/>
<rect x="148.34" y="335.38" width="14.02" height="2.67" fill="#7e7eff"/>
<rect x="162.06" y="335.38" width="14.02" height="2.67" fill="#e0e0ff"/>
<rect x="175.78" y="335.38" width="14.02" height="2.67" fill="#7b7bff"/>
<rect x="189.5" y="335.38" width="14.02" height="2.67" fill="#8080ff"/>
<rect x="203.22" y="335.38" width="14.02" height="2.67" fill="#3d3dff"/>
<rect x="52.3" y="337.75" width="14.02" height="2.67" fill="#ff9494"/>
<rect x="66.02" y="337.75" width="14.02" height="2.67" fill="#ffa0a0"/>
<rect x="79.74" y="337.75" width="14.02" height="2.67" fill="#ffa4a4"/>
<rect x="93.46" y="337.75" width="14.02" height="2.67" fill="#ff9494"/>
<rect x="107.18" y="337.75" width="14.02" height="2.67" fill="#ffc4c4"/>
<rect x="120.9" y="337.75" width="14.02" height="2.67" fill="#ffc9c9"/>
<rect x="134.62" y="337.75" width="14.02" height="2.67" fill="#1515ff"/>
<rect x="148.34" y="337.75" width="14.02" height="2.67" fill="#8e8eff"/>
<rect x="162.06" y="337.75" width="14.02" height="2.67" fill="#dfdfff"/>
<rect x="175.78" y="337.75" width="14.02" height="2.67" fill="#8888ff"/>
<rect x="189.5" y="337.75" width="14.02" height="2.67" fill="#7e7eff"/>
<rect x="203.22" y="337.75" width="14.02" height="2.67" fill="#4040ff"/>
<rect x="52.3" y="340.12" width="14.02" height="2.67" fill="#ff6f6f"/>
<rect x="66.02" y="340.12" width="14.02" height="2.67" fill="#ffa4a4"/>
<rect x="79.74" y="340.12" width="14.02" height="2.67" fill="#ff9595"/>
<rect x="93.46" y="340.12" width="14.02" height="2.67" fill="#ffa1a1"/>
<rect x="107.18" y="340.12" width="14.02" height="2.67" fill="#ffa8a8"/>
<rect x="120.9" y="340.12" width="14.02" height="2.67" fill="#ffcece"/>
<rect x="134.62" y="340.12" width="14.02" height="2.67" fill="#2c2cff"/>
<rect x="148.34" y="340.12" width="14.02" height="2.67" fill="#8383ff"/>
<rect x="162.06" y="340.12" width="14.02" height="2.67" fill="#b7b7ff"/>
<rect x="175.78" y="340.12" width="14.02" height="2.67" fill="#9393ff"/>
<rect x="189.5" y="340.12" width="14.02" height="2.67" fill="#7878ff"/>
<rect x="203.22" y="340.12" width="14.02" height="2.67" fill="#f9f9ff"/>
<rect x="52.3" y="342.49" width="14.02" height="2.67" fill="#ff8282"/>
<rect x="66.02" y="342.49" width="14.02" height="2.67" fill="#ff7979"/>
<rect x="79.74" y="342.49" width="14.02" height="2.67" fill="#ffbdbd"/>
<rect x="93.46" y="342.49" width="14.02" height="2.67" fill="#ffa4a4"/>
<rect x="107.18" y="342.49" width="14.02" height="2.67" fill="#ffc8c8"/>
<rect x="120.9" y="342.49" width="14.02" height="2.67" fill="#ff9f9f"/>
<rect x="134.62" y="342.49" width="14.02" height="2.67" fill="#2626ff"/>
<rect x="148.34" y="342.49" width="14.02" height="2.67" fill="#9191ff"/>
<rect x="162.06" y="342.49" width="14.02" height="2.67" fill="#ddddff"/>
<rect x="175.78" y="342.49" width="14.02" height="2.67" fill="#a5a5ff"/>
<rect x="189.5" y="342.49" width="14.02" height="2.67" fill="#7878ff"/>
<rect x="203.22" y="342.49" width="14.02" height="2.67" fill="#8e8eff"/>
<rect x="52.3" y="344.86" width="14.02" height="2.67" fill="#ff9f9f"/>
<rect x="66.02" y="344.86" width="14.02" height="2.67" fill="#ff9999"/>
<rect x="79.74" y="344.86" width="14.02" height="2.67" fill="#ffaaaa"/>
<rect x="93.46" y="344.86" width="14.02" height="2.67" fill="#fffafa"/>
<rect x="107.18" y="344.86" width="14.02" height="2.67" fill="#fffafa"/>
<rect x="120.9" y="344.86" width="14.02" height="2.67" fill="#ffc3c3"/>
<rect x="134.62" y="344.86" width="14.02" height="2.67" fill="#a6a6ff"/>
<rect x="148.34" y="344.86" width="14.02" height="2.67" fill="#6767ff"/>
<rect x="162.06" y="344.86" width="14.02" height="2.67" fill="#c1c1ff"/>
<rect x="175.78" y="344.86" width="14.02" height="2.67" fill="#8b8bff"/>
<rect x="189.5" y="344.86" width="14.02" height="2.67" fill="#9b9bff"/>
<rect x="203.22" y="344.86" width="14.02" height="2.67" fill="#5c5cff"/>
<rect x="52.3" y="347.23" width="14.02" height="2.67" fill="#ff7575"/>
<rect x="66.02" y="347.23" width="14.02" height="2.67" fill="#ffbcbc"/>
<rect x="79.74" y="347.23" width="14.02" height="2.67" fill="#ff9393"/>
<rect x="93.46" y="347.23" width="14.02" height="2.67" fill="#ffb7b7"/>
<rect x="107.18" y="347.23" width="14.02" height="2.67" fill="#ff9d9d"/>
<rect x="120.9" y="347.23" width="14.02" height="2.67" fill="#ffe3e3"/>
<rect x="134.62" y="347.23" width="14.02" height="2.67" fill="#d3d3ff"/>
<rect x="148.34" y="347.23" width="14.02" height="2.67" fill="#8d8dff"/>
<rect x="162.06" y="347.23" width="14.02" height="2.67" fill="#d9d9ff"/>
<rect x="175.78" y="347.23" width="14.02" height="2.67" fill="#9d9dff"/>
<rect x="189.5" y="347.23" width="14.02" height="2.67" fill="#8b8bff"/>
<rect x="203.22" y="347.23" width="14.02" height="2.67" fill="#9b9bff"/>
<rect x="52.3" y="349.59" width="14.02" height="2.67" fill="#ff8888"/>
<rect x="66.02" y="349.59" width="14.02" height="2.67" fill="#ffb7b7"/>
<rect x="79.74" y="349.59" width="14.02" height="2.67" fill="#ff8d8d"/>
<rect x="93.46" y="349.59" width="14.02" height="2.67" fill="#ffbbbb"/>
<rect x="107.18" y="349.59" width="14.02" height="2.67" fill="#ffbbbb"/>
<rect x="120.9" y="349.59" width="14.02" height="2.67" fill="#ffebeb"/>
<rect x="134.62" y="349.59" width="14.02" height="2.67" fill="#cdcdff"/>
<rect x="148.34" y="349.59" width="14.02" height="2.67" fill="#b1b1ff"/>
<rect x="162.06" y="349.59" width="14.02" height="2.67" fill="#cfcfff"/>
<rect x="175.78" y="349.59" width="14.02" height="2.67" fill="#5050ff"/>
<rect x="189.5" y="349.59" width="14.02" height="2.67" fill="#8888ff"/>
<rect x="203.22" y="349.59" width="14.02" height="2.67" fill="#9393ff"/>
<rect x="52.3" y="351.96" width="14.02" height="2.67" fill="#ffc1c1"/>
<rect x="66.02" y="351.96" width="14.02" height="2.67" fill="#ff9797"/>
<rect x="79.74" y="351.96" width="14.02" height="2.67" fill="#ff8a8a"/>
<rect x="93.46" y="351.96" width="14.02" height="2.67" fill="#ffa5a5"/>
<rect x="107.18" y="351.96" width="14.02" height="2.67" fill="#ffbaba"/>
<rect x="120.9" y="351.96" width="14.02" height="2.67" fill="#ffb4b4"/>
<rect x="134.62" y="351.96" width="14.02" height="2.67" fill="#cacaff"/>
<rect x="148.34" y="351.96" width="14.02" height="2.67" fill="#7a7aff"/>
<rect x="162.06" y="351.96" width="14.02" height="2.67" fill="#d5d5ff"/>
<rect x="175.78" y="351.96" width="14.02" height="2.67" fill="#8c8cff"/>
<rect x="189.5" y="351.96" width="14.02" height="2.67" fill="#a6a6ff"/>
<rect x="203.22" y="351.96" width="14.02" height="2.67" fill="#9090ff"/>
<rect x="52.3" y="354.33" width="14.02" height="2.67" fill="#ff8383"/>
<rect x="66.02" y="354.33" width="14.02" height="2.67" fill="#ff7d7d"/>
<rect x="79.74" y="354.33" width="14.02" height="2.67" fill="#ff5858"/>
<rect x="93.46" y="354.33" width="14.02" height="2.67" fill="#ffc5c5"/>
<rect x="107.18" y="354.33" width="14.02" height="2.67" fill="#ffd6d6"/>
<rect x="120.9" y="354.33" width="14.02" height="2.67" fill="#ffbaba"/>
<rect x="134.62" y="354.33" width="14.02" height="2.67" fill="#babaff"/>
<rect x="148.34" y="354.33" width="14.02" height="2.67" fill="#a1a1ff"/>
<rect x="162.06" y="354.33" width="14.02" height="2.67" fill="#b0b0ff"/>
<rect x="175.78" y="354.33" width="14.02" height="2.67" fill="#5858ff"/>
<rect x="189.5" y="354.33" width="14.02" height="2.67" fill="#8989ff"/>
<rect x="203.22" y="354.33" width="14.02" height="2.67" fill="#8282ff"/>
<rect x="52.3" y="356.7" width="14.02" height="2.67" fill="#ff9a9a"/>
<rect x="66.02" y="356.7" width="14.02" height="2.67" fill="#ff9090"/>
<rect x="79.74" y="356.7" width="14.02" height="2.67" fill="#ff8b8b"/>
<rect x="93.46" y="356.7" width="14.02" height="2.67" fill="#ff9292"/>
<rect x="107.18" y="356.7" width="14.02" height="2.67" fill="#ffc8c8"/>
<rect x="120.9" y="356.7" width="14.02" height="2.67" fill="#ffb7b7"/>
<rect x="134.62" y="356.7" width="14.02" height="2.67" fill="#b3b3ff"/>
<rect x="148.34" y="356.7" width="14.02" height="2.67" fill="#8a8aff"/>
<rect x="162.06" y="356.7" width="14.02" height="2.67" fill="#b0b0ff"/>
<rect x="175.78" y="356.7" width="14.02" height="2.67" fill="#4646ff"/>
<rect x="189.5" y="356.7" width="14.02" height="2.67" fill="#8383ff"/>
<rect x="203.22" y="356.7" width="14.02" height="2.67" fill="#6f6fff"/>
<rect x="52.3" y="359.07" width="14.02" height="2.67" fill="#ff7373"/>
<rect x="66.02" y="359.07" width="14.02" height="2.67" fill="#ff9494"/>
<rect x="79.74" y="359.07" width="14.02" height="2.67" fill="#ff8c8c"/>
<rect x="93.46" y="359.07" width="14.02" height="2.67" fill="#ff9999"/>
<rect x="107.18" y="359.07" width="14.02" height="2.67" fill="#ffb4b4"/>
<rect x="120.9" y="359.07" width="14.02" height="2.67" fill="#ffebeb"/>
<rect x="134.62" y="359.07" width="14.02" height="2.67" fill="#acacff"/>
<rect x="148.34" y="359.07" width="14.02" height="2.67" fill="#c5c5ff"/>
<rect x="162.06" y="359.07" width="14.02" height="2.67" fill="#9999ff"/>
<rect x="175.78" y="359.07" width="14.02" height="2.67" fill="#1515ff"/>
<rect x="189.5" y="359.07" width="14.02" height="2.67" fill="#7272ff"/>
<rect x="203.22" y="359.07" width="14.02" height="2.67" fill="#7e7eff"/>
<rect x="52.3" y="361.44" width="14.02" height="2.67" fill="#ff7777"/>
<rect x="66.02" y="361.44" width="14.02" height="2.67" fill="#ffa7a7"/>
<rect x="79.74" y="361.44" width="14.02" height="2.67" fill="#ff8e8e"/>
<rect x="93.46" y="361.44" width="14.02" height="2.67" fill="#ffa1a1"/>
<rect x="107.18" y="361.44" width="14.02" height="2.67" fill="#ffcaca"/>
<rect x="120.9" y="361.44" width="14.02" height="2.67" fill="#fff9f9"/>
<rect x="134.62" y="361.44" width="14.02" height="2.67" fill="#b4b4ff"/>
<rect x="148.34" y="361.44" width="14.02" height="2.67" fill="#b7b7ff"/>
<rect x="162.06" y="361.44" width="14.02" height="2.67" fill="#a1a1ff"/>
<rect x="175.78" y="361.44" width="14.02" height="2.67" fill="#5f5fff"/>
<rect x="189.5" y="361.44" width="14.02" height="2.67" fill="#9c9cff"/>
<rect x="203.22" y="361.44" width="14.02" height="2.67" fill="#6a6aff"/>
<rect x="52.3" y="363.81" width="14.02" height="2.67" fill="#ff7d7d"/>
<rect x="66.02" y="363.81" width="14.02" height="2.67" fill="#ff8080"/>
<rect x="79.74" y="363.81" width="14.02" height="2.67" fill="#ff7575"/>
<rect x="93.46" y="363.81" width="14.02" height="2.67" fill="#ff9c9c"/>
<rect x="107.18" y="363.81" width="14.02" height="2.67" fill="#ff9999"/>
<rect x="120.9" y="363.81" width="14.02" height="2.67" fill="#ffd0d0"/>
<rect x="134.62" y="363.81" width="14.02" height="2.67" fill="#9494ff"/>
<rect x="148.34" y="363.81" width="14.02" height="2.67" fill="#fafaff"/>
<rect x="162.06" y="363.81" width="14.02" height="2.67" fill="#bfbfff"/>
<rect x="175.78" y="363.81" width="14.02" height="2.67" fill="#2f2fff"/>
<rect x="189.5" y="363.81" width="14.02" height="2.67" fill="#8b8bff"/>
<rect x="203.22" y="363.81" width="14.02" height="2.67" fill="#5a5aff"/>
<rect x="52.3" y="366.18" width="14.02" height="2.67" fill="#ffb0b0"/>
<rect x="66.02" y="366.18" width="14.02" height="2.67" fill="#ff6b6b"/>
<rect x="79.74" y="366.18" width="14.02" height="2.67" fill="#ff8686"/>
<rect x="93.46" y="366.18" width="14.02" height="2.67" fill="#ffa4a4"/>
<rect x="107.18" y="366.18" width="14.02" height="2.67" fill="#ff9b9b"/>
<rect x="120.9" y="366.18" width="14.02" height="2.67" fill="#ffd5d5"/>
<rect x="134.62" y="366.18" width="14.02" height="2.67" fill="#a1a1ff"/>
<rect x="148.34" y="366.18" width="14.02" height="2.67" fill="#7676ff"/>
<rect x="162.06" y="366.18" width="14.02" height="2.67" fill="#b8b8ff"/>
<rect x="175.78" y="366.18" width="14.02" height="2.67" fill="#8a8aff"/>
<rect x="189.5" y="366.18" width="14.02" height="2.67" fill="#7171ff"/>
<rect x="203.22" y="366.18" width="14.02" height="2.67" fill="#7f7fff"/>
<rect x="52.3" y="368.54" width="14.02" height="2.67" fill="#ff9090"/>
<rect x="66.02" y="368.54" width="14.02" height="2.67" fill="#ffc3c3"/>
<rect x="79.74" y="368.54" width="14.02" height="2.67" fill="#ffa9a9"/>
<rect x="93.46" y="368.54" width="14.02" height="2.67" fill="#ff8484"/>
<rect x="107.18" y="368.54" width="14.02" height="2.67" fill="#ffa7a7"/>
<rect x="120.9" y="368.54" width="14.02" height="2.67" fill="#ffc4c4"/>
<rect x="134.62" y="368.54" width="14.02" height="2.67" fill="#babaff"/>
<rect x="148.34" y="368.54" width="14.02" height="2.67" fill="#8b8bff"/>
<rect x="162.06" y="368.54" width="14.02" height="2.67" fill="#a1a1ff"/>
<rect x="175.78" y="368.54" width="14.02" height="2.67" fill="#9292ff"/>
<rect x="189.5" y="368.54" width="14.02" height="2.67" fill="#9595ff"/>
<rect x="203.22" y="368.54" width="14.02" height="2.67" fill="#5454ff"/>
<rect x="52.3" y="370.91" width="14.02" height="2.67" fill="#ff8e8e"/>
<rect x="66.02" y="370.91" width="14.02" height="2.67" fill="#ffa5a5"/>
<rect x="79.74" y="370.91" width="14.02" height="2.67" fill="#ffa0a0"/>
<rect x="93.46" y="370.91" width="14.02" height="2.67" fill="#ffb0b0"/>
<rect x="107.18" y="370.91" width="14.02" height="2.67" fill="#ffa0a0"/>
<rect x="120.9" y="370.91" width="14.02" height="2.67" fill="#ffeaea"/>
<rect x="134.62" y="370.91" width="14.02" height="2.67" fill="#c4c4ff"/>
<rect x="148.34" y="370.91" width="14.02" height="2.67" fill="#5d5dff"/>
<rect x="162.06" y="370.91" width="14.02" height="2.67" fill="#d4d4ff"/>
<rect x="175.78" y="370.91" width="14.02" height="2.67" fill="#8787ff"/>
<rect x="189.5" y="370.91" width="14.02" height="2.67" fill="#7d7dff"/>
<rect x="203.22" y="370.91" width="14.02" height="2.67" fill="#9f9fff"/>
<rect x="52.3" y="373.28" width="14.02" height="2.67" fill="#ff9696"/>
<rect x="66.02" y="373.28" width="14.02" height="2.67" fill="#ff8a8a"/>
<rect x="79.74" y="373.28" width="14.02" height="2.67" fill="#ff8b8b"/>
<rect x="93.46" y="373.28" width="14.02" height="2.67" fill="#ffa2a2"/>
<rect x="107.18" y="373.28" width="14.02" height="2.67" fill="#ffa0a0"/>
<rect x="120.9" y="373.28" width="14.02" height="2.67" fill="#ff9b9b"/>
<rect x="134.62" y="373.28" width="14.02" height="2.67" fill="#8383ff"/>
<rect x="148.34" y="373.28" width="14.02" height="2.67" fill="#8181ff"/>
<rect x="162.06" y="373.28" width="14.02" height="2.67" fill="#aeaeff"/>
<rect x="175.78" y="373.28" width="14.02" height="2.67" fill="#a2a2ff"/>
<rect x="189.5" y="373.28" width="14.02" height="2.67" fill="#5353ff"/>
<rect x="203.22" y="373.28" width="14.02" height="2.67" fill="#8c8cff"/>
<rect x="52.3" y="375.65" width="14.02" height="2.67" fill="#ff5555"/>
<rect x="66.02" y="375.65" width="14.02" height="2.67" fill="#ff9292"/>
<rect x="79.74" y="375.65" width="14.02" height="2.67" fill="#fff4f4"/>
<rect x="93.46" y="375.65" width="14.02" height="2.67" fill="#ffa2a2"/>
<rect x="107.18" y="375.65" width="14.02" height="2.67" fill="#ffbfbf"/>
<rect x="120.9" y="375.65" width="14.02" height="2.67" fill="#ffd8d8"/>
<rect x="134.62" y="375.65" width="14.02" height="2.67" fill="#b1b1ff"/>
<rect x="148.34" y="375.65" width="14.02" height="2.67" fill="#8787ff"/>
<rect x="162.06" y="375.65" width="14.02" height="2.67" fill="#ddddff"/>
<rect x="175.78" y="375.65" width="14.02" height="2.67" fill="#b8b8ff"/>
<rect x="189.5" y="375.65" width="14.02" height="2.67" fill="#5555ff"/>
<rect x="203.22" y="375.65" width="14.02" height="2.67" fill="#9797ff"/>
<rect x="52.3" y="378.02" width="14.02" height="2.67" fill="#ffb5b5"/>
<rect x="66.02" y="378.02" width="14.02" height="2.67" fill="#ff7878"/>
<rect x="79.74" y="378.02" width="14.02" height="2.67" fill="#ffa5a5"/>
<rect x="93.46" y="378.02" width="14.02" height="2.67" fill="#ffa9a9"/>
<rect x="107.18" y="378.02" width="14.02" height="2.67" fill="#ff8e8e"/>
<rect x="120.9" y="378.02" width="14.02" height="2.67" fill="#ffbfbf"/>
<rect x="134.62" y="378.02" width="14.02" height="2.67" fill="#8484ff"/>
<rect x="148.34" y="378.02" width="14.02" height="2.67" fill="#8181ff"/>
<rect x="162.06" y="378.02" width="14.02" height="2.67" fill="#a3a3ff"/>
<rect x="175.78" y="378.02" width="14.02" height="2.67" fill="#7575ff"/>
<rect x="189.5" y="378.02" width="14.02" height="2.67" fill="#8383ff"/>
<rect x="203.22" y="378.02" width="14.02" height="2.67" fill="#4747ff"/>
<rect x="52.3" y="380.39" width="14.02" height="2.67" fill="#ff9696"/>
<rect x="66.02" y="380.39" width="14.02" height="2.67" fill="#ff8f8f"/>
<rect x="79.74" y="380.39" width="14.02" height="2.67" fill="#ff6868"/>
<rect x="93.46" y="380.39" width="14.02" height="2.67" fill="#ff9191"/>
<rect x="107.18" y="380.39" width="14.02" height="2.67" fill="#ffdada"/>
<rect x="120.9" y="380.39" width="14.02" height="2.67" fill="#ff9b9b"/>
<rect x="134.62" y="380.39" width="14.02" height="2.67" fill="#6d6dff"/>
<rect x="148.34" y="380.39" width="14.02" height="2.67" fill="#7d7dff"/>
<rect x="162.06" y="380.39" width="14.02" height="2.67" fill="#c9c9ff"/>
<rect x="175.78" y="380.39" width="14.02" height="2.67" fill="#b3b3ff"/>
<rect x="189.5" y="380.39" width="14.02" height="2.67" fill="#9d9dff"/>
<rect x="203.22" y="380.39" width="14.02" height="2.67" fill="#a0a0ff"/>
<rect x="52.3" y="382.76" width="14.02" height="2.67" fill="#ff8787"/>
<rect x="66.02" y="382.76" width="14.02" height="2.67" fill="#ff8181"/>
<rect x="79.74" y="382.76" width="14.02" height="2.67" fill="#ff6d6d"/>
<rect x="93.46" y="382.76" width="14.02" height="2.67" fill="#ff7373"/>
<rect x="107.18" y="382.76" width="14.02" height="2.67" fill="#ff9696"/>
<rect x="120.9" y="382.76" width="14.02" height="2.67" fill="#ffb2b2"/>
<rect x="134.62" y="382.76" width="14.02" height="2.67" fill="#3838ff"/>
<rect x="148.34" y="382.76" width="14.02" height="2.67" fill="#7373ff"/>
<rect x="162.06" y="382.76" width="14.02" height="2.67" fill="#b8b8ff"/>
<rect x="175.78" y="382.76" width="14.02" height="2.67" fill="#7979ff"/>
<rect x="189.5" y="382.76" width="14.02" height="2.67" fill="#7171ff"/>
<rect x="203.22" y="382.76" width="14.02" height="2.67" fill="#7878ff"/>
<rect x="52.3" y="385.12" width="14.02" height="2.67" fill="#ff6b6b"/>
<rect x="66.02" y="385.12" width="14.02" height="2.67" fill="#fffefe"/>
<rect x="79.74" y="385.12" width="14.02" height="2.67" fill="#ffa0a0"/>
<rect x="93.46" y="385.12" width="14.02" height="2.67" fill="#ffb8b8"/>
<rect x="107.18" y="385.12" width="14.02" height="2.67" fill="#fff9f9"/>
<rect x="120.9" y="385.12" width="14.02" height="2.67" fill="#ffcbcb"/>
<rect x="134.62" y="385.12" width="14.02" height="2.67" fill="#4949ff"/>
<rect x="148.34" y="385.12" width="14.02" height="2.67" fill="#7b7bff"/>
<rect x="162.06" y="385.12" width="14.02" height="2.67" fill="#c4c4ff"/>
<rect x="175.78" y="385.12" width="14.02" height="2.67" fill="#8585ff"/>
<rect x="189.5" y="385.12" width="14.02" height="2.67" fill="#8585ff"/>
<rect x="203.22" y="385.12" width="14.02" height="2.67" fill="#5959ff"/>
<rect x="52.3" y="387.49" width="14.02" height="2.67" fill="#ffc5c5"/>
<rect x="66.02" y="387.49" width="14.02" height="2.67" fill="#ff7f7f"/>
<rect x="79.74" y="387.49" width="14.02" height="2.67" fill="#ffa6a6"/>
<rect x="93.46" y="387.49" width="14.02" height="2.67" fill="#ffabab"/>
<rect x="107.18" y="387.49" width="14.02" height="2.67" fill="#ffa0a0"/>
<rect x="120.9" y="387.49" width="14.02" height="2.67" fill="#ffcccc"/>
<rect x="134.62" y="387.49" width="14.02" height="2.67" fill="#6c6cff"/>
<rect x="148.34" y="387.49" width="14.02" height="2.67" fill="#7e7eff"/>
<rect x="162.06" y="387.49" width="14.02" height="2.67" fill="#f3f3ff"/>
<rect x="175.78" y="387.49" width="14.02" height="2.67" fill="#6565ff"/>
<rect x="189.5" y="387.49" width="14.02" height="2.67" fill="#6e6eff"/>
<rect x="203.22" y="387.49" width="14.02" height="2.67" fill="#7878ff"/>
<rect x="52.3" y="389.86" width="14.02" height="2.67" fill="#ff9d9d"/>
<rect x="66.02" y="389.86" width="14.02" height="2.67" fill="#ffc2c2"/>
<rect x="79.74" y="389.86" width="14.02" height="2.67" fill="#ff8585"/>
<rect x="93.46" y="389.86" width="14.02" height="2.67" fill="#ffc4c4"/>
<rect x="107.18" y="389.86" width="14.02" height="2.67" fill="#ffaaaa"/>
<rect x="120.9" y="389.86" width="14.02" height="2.67" fill="#ffcaca"/>
<rect x="134.62" y="389.86" width="14.02" height="2.67" fill="#6565ff"/>
<rect x="148.34" y="389.86" width="14.02" height="2.67" fill="#7676ff"/>
<rect x="162.06" y="389.86" width="14.02" height="2.67" fill="#9898ff"/>
<rect x="175.78" y="389.86" width="14.02" height="2.67" fill="#7070ff"/>
<rect x="189.5" y="389.86" width="14.02" height="2.67" fill="#6f6fff"/>
<rect x="203.22" y="389.86" width="14.02" height="2.67" fill="#4343ff"/>
<rect x="52.3" y="392.23" width="14.02" height="2.67" fill="#ff9494"/>
<rect x="66.02" y="392.23" width="14.02" height="2.67" fill="#ff9b9b"/>
<rect x="79.74" y="392.23" width="14.02" height="2.67" fill="#ff7777"/>
<rect x="93.46" y="392.23" width="14.02" height="2.67" fill="#ffb0b0"/>
<rect x="107.18" y="392.23" width="14.02" height="2.67" fill="#ffbbbb"/>
<rect x="120.9" y="392.23" width="14.02" height="2.67" fill="#ffeeee"/>
<rect x="134.62" y="392.23" width="14.02" height="2.67" fill="#7d7dff"/>
<rect x="148.34" y="392.23" width="14.02" height="2.67" fill="#5c5cff"/>
<rect x="162.06" y="392.23" width="14.02" height="2.67" fill="#c0c0ff"/>
<rect x="175.78" y="392.23" width="14.02" height="2.67" fill="#9797ff"/>
<rect x="189.5" y="392.23" width="14.02" height="2.67" fill="#9090ff"/>
<rect x="203.22" y="392.23" width="14.02" height="2.67" fill="#5353ff"/>
<rect x="52.3" y="394.6" width="14.02" height="2.72" fill="#f2f2ff"/>
<rect x="66.02" y="394.6" width="14.02" height="2.72" fill="#2020ff"/>
<rect x="79.74" y="394.6" width="14.02" height="2.72" fill="#0000ff"/>
<rect x="93.46" y="394.6" width="14.02" height="2.72" fill="#4343ff"/>
<rect x="107.18" y="394.6" width="14.02" height="2.72" fill="#0000ff"/>
<rect x="120.9" y="394.6" width="14.02" height="2.72" fill="#1919ff"/>
<rect x="134.62" y="394.6" width="14.02" height="2.72" fill="#ff8585"/>
<rect x="148.34" y="394.6" width="14.02" height="2.72" fill="#fff5f5"/>
<rect x="162.06" y="394.6" width="14.02" height="2.72" fill="#ff0000"/>
<rect x="175.78" y="394.6" width="14.02" height="2.72" fill="#ff3333"/>
<rect x="189.5" y="394.6" width="14.02" height="2.72" fill="#8181ff"/>
<rect x="203.22" y="394.6" width="14.02" height="2.72" fill="#e6e6ff"/>
<rect x="52.3" y="397.02" width="14.02" height="2.72" fill="#0000ff"/>
<rect x="66.02" y="397.02" width="14.02" height="2.72" fill="#0000ff"/>
<rect x="79.74" y="397.02" width="14.02" height="2.72" fill="#0000ff"/>
<rect x="93.46" y="397.02" width="14.02" height="2.72" fill="#0000ff"/>
<rect x="107.18" y="397.02" width="14.02" height="2.72" fill="#1010ff"/>
<rect x="120.9" y="397.02" width="14.02" height="2.72" fill="#0101ff"/>
<rect x="134.62" y="397.02" width="14.02" height="2.72" fill="#ffa5a5"/>
<rect x="148.34" y="397.02" width="14.02" height="2.72" fill="#ff0000"/>
<rect x="162.06" y="397.02" width="14.02" height="2.72" fill="#ff0000"/>
<rect x="175.78" y="397.02" width="14.02" height="2.72" fill="#ff5e5e"/>
<rect x="189.5" y="397.02" width="14.02" height="2.72" fill="#aeaeff"/>
<rect x="203.22" y="397.02" width="14.02" height="2.72" fill="#c6c6ff"/>
<rect x="52.3" y="399.44" width="14.02" height="2.72" fill="#1c1cff"/>
<rect x="66.02" y="399.44" width="14.02" height="2.72" fill="#1c1cff"/>
<rect x="79.74" y="399.44" width="14.02" height="2.72" fill="#0000ff"/>
<rect x="93.46" y="399.44" width="14.02" height="2.72" fill="#0000ff"/>
<rect x="107.18" y="399.44" width="14.02" height="2.72" fill="#0000ff"/>
<rect x="120.9" y="399.44" width="14.02" height="2.72" fill="#0606ff"/>
<rect x="134.62" y="399.44" width="14.02" height="2.72" fill="#ff5858"/>
<rect x="148.34" y="399.44" width="14.02" height="2.72" fill="#ff0000"/>
<rect x="162.06" y="399.44" width="14.02" height="2.72" fill="#ff0303"/>
<rect x="175.78" y="399.44" width="14.02" height="2.72" fill="#ff4e4e"/>
<rect x="189.5" y="399.44" width="14.02" height="2.72" fill="#9494ff"/>
<rect x="203.22" y="399.44" width="14.02" height="2.72" fill="#eaeaff"/>
<rect x="52.3" y="401.86" width="14.02" height="2.72" fill="#0000ff"/>
<rect x="66.02" y="401.86" width="14.02" height="2.72" fill="#0b0bff"/>
<rect x="79.74" y="401.86" width="14.02" height="2.72" fill="#0000ff"/>
<rect x="93.46" y="401.86" width="14.02" height="2.72" fill="#1616ff"/>
<rect x="107.18" y="401.86" width="14.02" height="2.72" fill="#2828ff"/>
<rect x="120.9" y="401.86" width="14.02" height="2.72" fill="#0000ff"/>
<rect x="134.62" y="401.86" width="14.02" height="2.72" fill="#ffa1a1"/>
<rect x="148.34" y="401.86" width="14.02" height="2.72" fill="#ff0000"/>
<rect x="162.06" y="401.86" width="14.02" height="2.72" fill="#ff0808"/>
<rect x="175.78" y="401.86" width="14.02" height="2.72" fill="#ff5656"/>
<rect x="189.5" y="401.86" width="14.02" height="2.72" fill="#7979ff"/>
<rect x="203.22" y="401.86" width="14.02" height="2.72" fill="#fafaff"/>
<rect x="52.3" y="404.28" width="14.02" height="2.72" fill="#0000ff"/>
<rect x="66.02" y="404.28" width="14.02" height="2.72" fill="#0c0cff"/>
<rect x="79.74" y="404.28" width="14.02" height="2.72" fill="#2424ff"/>
<rect x="93.46" y="404.28" width="14.02" height="2.72" fill="#0000ff"/>
<rect x="107.18" y="404.28" width="14.02" height="2.72" fill="#0000ff"/>
<rect x="120.9" y="404.28" width="14.02" height="2.72" fill="#0505ff"/>
<rect x="134.62" y="404.28" width="14.02" height="2.72" fill="#ff4343"/>
<rect x="148.34" y="404.28" width="14.02" height="2.72" fill="#ff1a1a"/>
<rect x="162.06" y="404.28" width="14.02" height="2.72" fill="#ff5252"/>
<rect x="175.78" y="404.28" width="14.02" height="2.72" fill="#ffeeee"/>
<rect x="189.5" y="404.28" width="14.02" height="2.72" fill="#ff6161"/>
<rect x="203.22" y="404.28" width="14.02" height="2.72" fill="#ff6363"/>
<rect x="52.3" y="406.7" width="14.02" height="2.72" fill="#1111ff"/>
<rect x="66.02" y="406.7" width="14.02" height="2.72" fill="#3535ff"/>
<rect x="79.74" y="406.7" width="14.02" height="2.72" fill="#1515ff"/>
<rect x="93.46" y="406.7" width="14.02" height="2.72" fill="#0000ff"/>
<rect x="107.18" y="406.7" width="14.02" height="2.72" fill="#0000ff"/>
<rect x="120.9" y="406.7" width="14.02" height="2.72" fill="#2525ff"/>
<rect x="134.62" y="406.7" width="14.02" height="2.72" fill="#ff5959"/>
<rect x="148.34" y="406.7" width="14.02" height="2.72" fill="#ff4444"/>
<rect x="162.06" y="406.7" width="14.02" height="2.72" fill="#ff5a5a"/>
<rect x="175.78" y="406.7" width="14.02" height="2.72" fill="#ffe1e1"/>
<rect x="189.5" y="406.7" width="14.02" height="2.72" fill="#ff5959"/>
<rect x="203.22" y="406.7" width="14.02" height="2.72" fill="#ff3737"/>
<rect x="52.3" y="409.12" width="14.02" height="2.72" fill="#3535ff"/>
<rect x="66.02" y="409.12" width="14.02" height="2.72" fill="#0000ff"/>
<rect x="79.74" y="409.12" width="14.02" height="2.72" fill="#2626ff"/>
<rect x="93.46" y="409.12" width="14.02" height="2.72" fill="#2d2dff"/>
<rect x="107.18" y="409.12" width="14.02" height="2.72" fill="#0808ff"/>
<rect x="120.9" y="409.12" width="14.02" height="2.72" fill="#1313ff"/>
<rect x="134.62" y="409.12" width="14.02" height="2.72" fill="#ff2d2d"/>
<rect x="148.34" y="409.12" width="14.02" height="2.72" fill="#ff1313"/>
<rect x="162.06" y="409.12" width="14.02" height="2.72" fill="#ff4545"/>
<rect x="175.78" y="409.12" width="14.02" height="2.72" fill="#ff6565"/>
<rect x="189.5" y="409.12" width="14.02" height="2.72" fill="#ff6464"/>
<rect x="203.22" y="409.12" width="14.02" height="2.72" fill="#ff6a6a"/>
<rect x="52.3" y="411.54" width="14.02" height="2.72" fill="#0909ff"/>
<rect x="66.02" y="411.54" width="14.02" height="2.72" fill="#1616ff"/>
<rect x="79.74" y="411.54" width="14.02" height="2.72" fill="#0000ff"/>
<rect x="93.46" y="411.54" width="14.02" height="2.72" fill="#d6d6ff"/>
<rect x="107.18" y="411.54" width="14.02" height="2.72" fill="#0000ff"/>
<rect x="120.9" y="411.54" width="14.02" height="2.72" fill="#0000ff"/>
<rect x="134.62" y="411.54" width="14.02" height="2.72" fill="#ff2c2c"/>
<rect x="148.34" y="411.54" width="14.02" height="2.72" fill="#ff2f2f"/>
<rect x="162.06" y="411.54" width="14.02" height="2.72" fill="#ff6f6f"/>
<rect x="175.78" y="411.54" width="14.02" height="2.72" fill="#ff0101"/>
<rect x="189.5" y="411.54" width="14.02" height="2.72" fill="#ff6a6a"/>
<rect x="203.22" y="411.54" width="14.02" height="2.72" fill="#ff5d5d"/>
<rect x="52.3" y="413.95" width="14.02" height="2.72" fill="#0e0eff"/>
<rect x="66.02" y="413.95" width="14.02" height="2.72" fill="#2222ff"/>
<rect x="79.74" y="413.95" width="14.02" height="2.72" fill="#1414ff"/>
<rect x="93.46" y="413.95" width="14.02" height="2.72" fill="#0000ff"/>
<rect x="107.18" y="413.95" width="14.02" height="2.72" fill="#0000ff"/>
<rect x="120.9" y="413.95" width="14.02" height="2.72" fill="#0000ff"/>
<rect x="134.62" y="413.95" width="14.02" height="2.72" fill="#ff6a6a"/>
<rect x="148.34" y="413.95" width="14.02" height="2.72" fill="#ff6161"/>
<rect x="162.06" y="413.95" width="14.02" height="2.72" fill="#fff7f7"/>
<rect x="175.78" y="413.95" width="14.02" height="2.72" fill="#ff3939"/>
<rect x="189.5" y="413.95" width="14.02" height="2.72" fill="#ff4c4c"/>
<rect x="203.22" y="413.95" width="14.02" height="2.72" fill="#ff8383"/>
<rect x="52.3" y="416.37" width="14.02" height="2.72" fill="#0000ff"/>
<rect x="66.02" y="416.37" width="14.02" height="2.72" fill="#0000ff"/>
<rect x="79.74" y="416.37" width="14.02" height="2.72" fill="#0b0bff"/>
<rect x="93.46" y="416.37" width="14.02" height="2.72" fill="#0e0eff"/>
<rect x="107.18" y="416.37" width="14.02" height="2.72" fill="#1b1bff"/>
<rect x="120.9" y="416.37" width="14.02" height="2.72" fill="#0000ff"/>
<rect x="134.62" y="416.37" width="14.02" height="2.72" fill="#ff5858"/>
<rect x="148.34" y="416.37" width="14.02" height="2.72" fill="#ff2727"/>
<rect x="162.06" y="416.37" width="14.02" height="2.72" fill="#ff4040"/>
<rect x="175.78" y="416.37" width="14.02" height="2.72" fill="#ff3d3d"/>
<rect x="189.5" y="416.37" width="14.02" height="2.72" fill="#ff4040"/>
<rect x="203.22" y="416.37" width="14.02" height="2.72" fill="#ff4a4a"/>
<rect x="52.3" y="418.79" width="14.02" height="2.72" fill="#2525ff"/>
<rect x="66.02" y="418.79" width="14.02" height="2.72" fill="#ffffff"/>
<rect x="79.74" y="418.79" width="14.02" height="2.72" fill="#bcbcff"/>
<rect x="93.46" y="418.79" width="14.02" height="2.72" fill="#babaff"/>
<rect x="107.18" y="418.79" width="14.02" height="2.72" fill="#0a0aff"/>
<rect x="120.9" y="418.79" width="14.02" height="2.72" fill="#3131ff"/>
<rect x="134.62" y="418.79" width="14.02" height="2.72" fill="#ff3333"/>
<rect x="148.34" y="418.79" width="14.02" height="2.72" fill="#ff6060"/>
<rect x="162.06" y="418.79" width="14.02" height="2.72" fill="#ff3b3b"/>
<rect x="175.78" y="418.79" width="14.02" height="2.72" fill="#fffefe"/>
<rect x="189.5" y="418.79" width="14.02" height="2.72" fill="#ff5555"/>
<rect x="203.22" y="418.79" width="14.02" height="2.72" fill="#ff5656"/>
<rect x="52.3" y="421.21" width="14.02" height="2.72" fill="#1e1eff"/>
<rect x="66.02" y="421.21" width="14.02" height="2.72" fill="#1111ff"/>
<rect x="79.74" y="421.21" width="14.02" height="2.72" fill="#9393ff"/>
<rect x="93.46" y="421.21" width="14.02" height="2.72" fill="#7575ff"/>
<rect x="107.18" y="421.21" width="14.02" height="2.72" fill="#1616ff"/>
<rect x="120.9" y="421.21" width="14.02" height="2.72" fill="#0000ff"/>
<rect x="134.62" y="421.21" width="14.02" height="2.72" fill="#ff2525"/>
<rect x="148.34" y="421.21" width="14.02" height="2.72" fill="#ff4646"/>
<rect x="162.06" y="421.21" width="14.02" height="2.72" fill="#ff3c3c"/>
<rect x="175.78" y="421.21" width="14.02" height="2.72" fill="#ff5e5e"/>
<rect x="189.5" y="421.21" width="14.02" height="2.72" fill="#ff6767"/>
<rect x="203.22" y="421.21" width="14.02" height="2.72" fill="#ff6c6c"/>
<rect x="52.3" y="423.63" width="14.02" height="2.72" fill="#0000ff"/>
<rect x="66.02" y="423.63" width="14.02" height="2.72" fill="#0000ff"/>
<rect x="79.74" y="423.63" width="14.02" height="2.72" fill="#a3a3ff"/>
<rect x="93.46" y="423.63" width="14.02" height="2.72" fill="#7474ff"/>
<rect x="107.18" y="423.63" width="14.02" height="2.72" fill="#1c1cff"/>
<rect x="120.9" y="423.63" width="14.02" height="2.72" fill="#0000ff"/>
<rect x="134.62" y="423.63" width="14.02" height="2.72" fill="#ff4c4c"/>
<rect x="148.34" y="423.63" width="14.02" height="2.72" fill="#ff7b7b"/>
<rect x="162.06" y="423.63" width="14.02" height="2.72" fill="#ff4747"/>
<rect x="175.78" y="423.63" width="14.02" height="2.72" fill="#ff2d2d"/>
<rect x="189.5" y="423.63" width="14.02" height="2.72" fill="#ff4a4a"/>
<rect x="203.22" y="423.63" width="14.02" height="2.72" fill="#ff7676"/>
<rect x="52.3" y="426.05" width="14.02" height="2.72" fill="#0000ff"/>
<rect x="66.02" y="426.05" width="14.02" height="2.72" fill="#0d0dff"/>
<rect x="79.74" y="426.05" width="14.02" height="2.72" fill="#7777ff"/>
<rect x="93.46" y="426.05" width="14.02" height="2.72" fill="#a5a5ff"/>
<rect x="107.18" y="426.05" width="14.02" height="2.72" fill="#2020ff"/>
<rect x="120.9" y="426.05" width="14.02" height="2.72" fill="#0707ff"/>
<rect x="134.62" y="426.05" width="14.02" height="2.72" fill="#ff6060"/>
<rect x="148.34" y="426.05" width="14.02" height="2.72" fill="#ff4d4d"/>
<rect x="162.06" y="426.05" width="14.02" height="2.72" fill="#ff6d6d"/>
<rect x="175.78" y="426.05" width="14.02" height="2.72" fill="#ff3d3d"/>
<rect x="189.5" y="426.05" width="14.02" height="2.72" fill="#ff5454"/>
<rect x="203.22" y="426.05" width="14.02" height="2.72" fill="#ff7b7b"/>
<rect x="52.3" y="428.47" width="14.02" height="2.72" fill="#0f0fff"/>
<rect x="66.02" y="428.47" width="14.02" height="2.72" fill="#0c0cff"/>
<rect x="79.74" y="428.47" width="14.02" height="2.72" fill="#9494ff"/>
<rect x="93.46" y="428.47" width="14.02" height="2.72" fill="#8787ff"/>
<rect x="107.18" y="428.47" width="14.02" height="2.72" fill="#0606ff"/>
<rect x="120.9" y="428.47" width="14.02" height="2.72" fill="#2828ff"/>
<rect x="134.62" y="428.47" width="14.02" height="2.72" fill="#ff5b5b"/>
<rect x="148.34" y="428.47" width="14.02" height="2.72" fill="#ff3b3b"/>
<rect x="162.06" y="428.47" width="14.02" height="2.72" fill="#ff6d6d"/>
<rect x="175.78" y="428.47" width="14.02" height="2.72" fill="#ff1414"/>
<rect x="189.5" y="428.47" width="14.02" height="2.72" fill="#ff6262"/>
<rect x="203.22" y="428.47" width="14.02" height="2.72" fill="#ff7070"/>
<rect x="52.3" y="430.89" width="14.02" height="2.72" fill="#0000ff"/>
<rect x="66.02" y="430.89" width="14.02" height="2.72" fill="#0000ff"/>
<rect x="79.74" y="430.89" width="14.02" height="2.72" fill="#8c8cff"/>
<rect x="93.46" y="430.89" width="14.02" height="2.72" fill="#9999ff"/>
<rect x="107.18" y="430.89" width="14.02" height="2.72" fill="#0606ff"/>
<rect x="120.9" y="430.89" width="14.02" height="2.72" fill="#0404ff"/>
<rect x="134.62" y="430.89" width="14.02" height="2.72" fill="#ff4242"/>
<rect x="148.34" y="430.89" width="14.02" height="2.72" fill="#ff0505"/>
<rect x="162.06" y="430.89" width="14.02" height="2.72" fill="#ff1c1c"/>
<rect x="175.78" y="430.89" width="14.02" height="2.72" fill="#ff1e1e"/>
<rect x="189.5" y="430.89" width="14.02" height="2.72" fill="#ff4c4c"/>
<rect x="203.22" y="430.89" width="14.02" height="2.72" fill="#ff6767"/>
<rect x="52.3" y="433.31" width="14.02" height="2.72" fill="#0000ff"/>
<rect x="66.02" y="433.31" width="14.02" height="2.72" fill="#0303ff"/>
<rect x="79.74" y="433.31" width="14.02" height="2.72" fill="#8686ff"/>
<rect x="93.46" y="433.31" width="14.02" height="2.72" fill="#bdbdff"/>
<rect x="107.18" y="433.31" width="14.02" height="2.72" fill="#1212ff"/>
<rect x="120.9" y="433.31" width="14.02" height="2.72" fill="#0000ff"/>
<rect x="134.62" y="433.31" width="14.02" height="2.72" fill="#ff4545"/>
<rect x="148.34" y="433.31" width="14.02" height="2.72" fill="#ff2424"/>
<rect x="162.06" y="433.31" width="14.02" height="2.72" fill="#ff0000"/>
<rect x="175.78" y="433.31" width="14.02" height="2.72" fill="#ff4545"/>
<rect x="189.5" y="433.31" width="14.02" height="2.72" fill="#ff3333"/>
<rect x="203.22" y="433.31" width="14.02" height="2.72" fill="#ffe0e0"/>
<rect x="52.3" y="435.73" width="14.02" height="2.72" fill="#3838ff"/>
<rect x="66.02" y="435.73" width="14.02" height="2.72" fill="#0808ff"/>
<rect x="79.74" y="435.73" width="14.02" height="2.72" fill="#0e0eff"/>
<rect x="93.46" y="435.73" width="14.02" height="2.72" fill="#2828ff"/>
<rect x="107.18" y="435.73" width="14.02" height="2.72" fill="#0b0bff"/>
<rect x="120.9" y="435.73" width="14.02" height="2.72" fill="#1111ff"/>
<rect x="134.62" y="435.73" width="14.02" height="2.72" fill="#ff4343"/>
<rect x="148.34" y="435.73" width="14.02" height="2.72" fill="#ff1e1e"/>
<rect x="162.06" y="435.73" width="14.02" height="2.72" fill="#ff2727"/>
<rect x="175.78" y="435.73" width="14.02" height="2.72" fill="#ff2f2f"/>
<rect x="189.5" y="435.73" width="14.02" height="2.72" fill="#ff7272"/>
<rect x="203.22" y="435.73" width="14.02" height="2.72" fill="#ffd7d7"/>
<rect x="52.3" y="438.15" width="14.02" height="2.72" fill="#0606ff"/>
<rect x="66.02" y="438.15" width="14.02" height="2.72" fill="#1818ff"/>
<rect x="79.74" y="438.15" width="14.02" height="2.72" fill="#0606ff"/>
<rect x="93.46" y="438.15" width="14.02" height="2.72" fill="#0606ff"/>
<rect x="107.18" y="438.15" width="14.02" height="2.72" fill="#0000ff"/>
<rect x="120.9" y="438.15" width="14.02" height="2.72" fill="#0000ff"/>
<rect x="134.62" y="438.15" width="14.02" height="2.72" fill="#ff4c4c"/>
<rect x="148.34" y="438.15" width="14.02" height="2.72" fill="#ff4949"/>
<rect x="162.06" y="438.15" width="14.02" height="2.72" fill="#ffe2e2"/>
<rect x="175.78" y="438.15" width="14.02" height="2.72" fill="#ff4646"/>
<rect x="189.5" y="438.15" width="14.02" height="2.72" fill="#ff5959"/>
<rect x="203.22" y="438.15" width="14.02" height="2.72" fill="#ff1d1d"/>
<rect x="52.3" y="440.57" width="14.02" height="2.72" fill="#0000ff"/>
<rect x="66.02" y="440.57" width="14.02" height="2.72" fill="#0202ff"/>
<rect x="79.74" y="440.57" width="14.02" height="2.72" fill="#1d1dff"/>
<rect x="93.46" y="440.57" width="14.02" height="2.72" fill="#1c1cff"/>
<rect x="107.18" y="440.57" width="14.02" height="2.72" fill="#1e1eff"/>
<rect x="120.9" y="440.57" width="14.02" height="2.72" fill="#9999ff"/>
<rect x="134.62" y="440.57" width="14.02" height="2.72" fill="#ff3434"/>
<rect x="148.34" y="440.57" width="14.02" height="2.72" fill="#ff1717"/>
<rect x="162.06" y="440.57" width="14.02" height="2.72" fill="#ff6666"/>
<rect x="175.78" y="440.57" width="14.02" height="2.72" fill="#fff2f2"/>
<rect x="189.5" y="440.57" width="14.02" height="2.72" fill="#ffe1e1"/>
<rect x="203.22" y="440.57" width="14.02" height="2.72" fill="#ffdada"/>
<rect x="52.3" y="442.99" width="14.02" height="2.72" fill="#2525ff"/>
<rect x="66.02" y="442.99" width="14.02" height="2.72" fill="#1212ff"/>
<rect x="79.74" y="442.99" width="14.02" height="2.72" fill="#0000ff"/>
<rect x="93.46" y="442.99" width="14.02" height="2.72" fill="#0000ff"/>
<rect x="107.18" y="442.99" width="14.02" height="2.72" fill="#1616ff"/>
<rect x="120.9" y="442.99" width="14.02" height="2.72" fill="#8181ff"/>
<rect x="134.62" y="442.99" width="14.02" height="2.72" fill="#ff3939"/>
<rect x="148.34" y="442.99" width="14.02" height="2.72" fill="#ff7171"/>
<rect x="162.06" y="442.99" width="14.02" height="2.72" fill="#ff5151"/>
<rect x="175.78" y="442.99" width="14.02" height="2.72" fill="#ff2020"/>
<rect x="189.5" y="442.99" width="14.02" height="2.72" fill="#ff9292"/>
<rect x="203.22" y="442.99" width="14.02" height="2.72" fill="#ff3333"/>
<rect x="52.3" y="445.41" width="14.02" height="2.72" fill="#4444ff"/>
<rect x="66.02" y="445.41" width="14.02" height="2.72" fill="#4444ff"/>
<rect x="79.74" y="445.41" width="14.02" height="2.72" fill="#1e1eff"/>
<rect x="93.46" y="445.41" width="14.02" height="2.72" fill="#3d3dff"/>
<rect x="107.18" y="445.41" width="14.02" height="2.72" fill="#3030ff"/>
<rect x="120.9" y="445.41" width="14.02" height="2.72" fill="#6a6aff"/>
<rect x="134.62" y="445.41" width="14.02" height="2.72" fill="#ff7373"/>
<rect x="148.34" y="445.41" width="14.02" height="2.72" fill="#ff4040"/>
<rect x="162.06" y="445.41" width="14.02" height="2.72" fill="#ff7a7a"/>
<rect x="175.78" y="445.41" width="14.02" height="2.72" fill="#ff4040"/>
<rect x="189.5" y="445.41" width="14.02" height="2.72" fill="#ff4e4e"/>
<rect x="203.22" y="445.41" width="14.02" height="2.72" fill="#ff7171"/>
<rect x="52.3" y="447.83" width="14.02" height="2.72" fill="#3c3cff"/>
<rect x="66.02" y="447.83" width="14.02" height="2.72" fill="#4b4bff"/>
<rect x="79.74" y="447.83" width="14.02" height="2.72" fill="#0c0cff"/>
<rect x="93.46" y="447.83" width="14.02" height="2.72" fill="#3636ff"/>
<rect x="107.18" y="447.83" width="14.02" height="2.72" fill="#1e1eff"/>
<rect x="120.9" y="447.83" width="14.02" height="2.72" fill="#9999ff"/>
<rect x="134.62" y="447.83" width="14.02" height="2.72" fill="#ff8f8f"/>
<rect x="148.34" y="447.83" width="14.02" height="2.72" fill="#ff8585"/>
<rect x="162.06" y="447.83" width="14.02" height="2.72" fill="#ff7575"/>
<rect x="175.78" y="447.83" width="14.02" height="2.72" fill="#ff7d7d"/>
<rect x="189.5" y="447.83" width="14.02" height="2.72" fill="#ffe2e2"/>
<rect x="203.22" y="447.83" width="14.02" height="2.72" fill="#ff4e4e"/>
<rect x="52.3" y="450.24" width="14.02" height="2.72" fill="#0000ff"/>
<rect x="66.02" y="450.24" width="14.02" height="2.72" fill="#6363ff"/>
<rect x="79.74" y="450.24" width="14.02" height="2.72" fill="#0000ff"/>
<rect x="93.46" y="450.24" width="14.02" height="2.72" fill="#3e3eff"/>
<rect x="107.18" y="450.24" width="14.02" height="2.72" fill="#0101ff"/>
<rect x="120.9" y="450.24" width="14.02" height="2.72" fill="#8282ff"/>
<rect x="134.62" y="450.24" width="14.02" height="2.72" fill="#ff8484"/>
<rect x="148.34" y="450.24" width="14.02" height="2.72" fill="#ff5959"/>
<rect x="162.06" y="450.24" width="14.02" height="2.72" fill="#ff8989"/>
<rect x="175.78" y="450.24" width="14.02" height="2.72" fill="#ff2626"/>
<rect x="189.5" y="450.24" width="14.02" height="2.72" fill="#ff6363"/>
<rect x="203.22" y="450.24" width="14.02" height="2.72" fill="#ff7575"/>
<rect x="52.3" y="452.66" width="14.02" height="2.72" fill="#0000ff"/>
<rect x="66.02" y="452.66" width="14.02" height="2.72" fill="#3737ff"/>
<rect x="79.74" y="452.66" width="14.02" height="2.72" fill="#0000ff"/>
<rect x="93.46" y="452.66" width="14.02" height="2.72" fill="#4e4eff"/>
<rect x="107.18" y="452.66" width="14.02" height="2.72" fill="#2828ff"/>
<rect x="120.9" y="452.66" width="14.02" height="2.72" fill="#6868ff"/>
<rect x="134.62" y="452.66" width="14.02" height="2.72" fill="#ff6363"/>
<rect x="148.34" y="452.66" width="14.02" height="2.72" fill="#ff6d6d"/>
<rect x="162.06" y="452.66" width="14.02" height="2.72" fill="#ffa1a1"/>
<rect x="175.78" y="452.66" width="14.02" height="2.72" fill="#ff5a5a"/>
<rect x="189.5" y="452.66" width="14.02" height="2.72" fill="#ff7272"/>
<rect x="203.22" y="452.66" width="14.02" height="2.72" fill="#ff7474"/>
<rect x="52.3" y="455.08" width="14.02" height="2.72" fill="#1919ff"/>
<rect x="66.02" y="455.08" width="14.02" height="2.72" fill="#5454ff"/>
<rect x="79.74" y="455.08" width="14.02" height="2.72" fill="#2323ff"/>
<rect x="93.46" y="455.08" width="14.02" height="2.72" fill="#5454ff"/>
<rect x="107.18" y="455.08" width="14.02" height="2.72" fill="#2e2eff"/>
<rect x="120.9" y="455.08" width="14.02" height="2.72" fill="#6060ff"/>
<rect x="134.62" y="455.08" width="14.02" height="2.72" fill="#ff6d6d"/>
<rect x="148.34" y="455.08" width="14.02" height="2.72" fill="#ff8282"/>
<rect x="162.06" y="455.08" width="14.02" height="2.72" fill="#ff7676"/>
<rect x="175.78" y="455.08" width="14.02" height="2.72" fill="#ff2d2d"/>
<rect x="189.5" y="455.08" width="14.02" height="2.72" fill="#ff5b5b"/>
<rect x="203.22" y="455.08" width="14.02" height="2.72" fill="#ff6868"/>
<rect x="52.3" y="457.5" width="14.02" height="2.72" fill="#3636ff"/>
<rect x="66.02" y="457.5" width="14.02" height="2.72" fill="#dfdfff"/>
<rect x="79.74" y="457.5" width="14.02" height="2.72" fill="#0f0fff"/>
<rect x="93.46" y="457.5" width="14.02" height="2.72" fill="#1c1cff"/>
<rect x="107.18" y="457.5" width="14.02" height="2.72" fill="#0000ff"/>
<rect x="120.9" y="457.5" width="14.02" height="2.72" fill="#4e4eff"/>
<rect x="134.62" y="457.5" width="14.02" height="2.72" fill="#ffb8b8"/>
<rect x="148.34" y="457.5" width="14.02" height="2.72" fill="#ff8686"/>
<rect x="162.06" y="457.5" width="14.02" height="2.72" fill="#ff4545"/>
<rect x="175.78" y="457.5" width="14.02" height="2.72" fill="#ff6767"/>
<rect x="189.5" y="457.5" width="14.02" height="2.72" fill="#ff9a9a"/>
<rect x="203.22" y="457.5" width="14.02" height="2.72" fill="#ff9a9a"/>
<rect x="52.3" y="459.92" width="14.02" height="2.72" fill="#2a2aff"/>
<rect x="66.02" y="459.92" width="14.02" height="2.72" fill="#6262ff"/>
<rect x="79.74" y="459.92" width="14.02" height="2.72" fill="#2020ff"/>
<rect x="93.46" y="459.92" width="14.02" height="2.72" fill="#4848ff"/>
<rect x="107.18" y="459.92" width="14.02" height="2.72" fill="#2c2cff"/>
<rect x="120.9" y="459.92" width="14.02" height="2.72" fill="#6e6eff"/>
<rect x="134.62" y="459.92" width="14.02" height="2.72" fill="#ff7575"/>
<rect x="148.34" y="459.92" width="14.02" height="2.72" fill="#ff7b7b"/>
<rect x="162.06" y="459.92" width="14.02" height="2.72" fill="#ff4e4e"/>
<rect x="175.78" y="459.92" width="14.02" height="2.72" fill="#ff4949"/>
<rect x="189.5" y="459.92" width="14.02" height="2.72" fill="#ff6c6c"/>
<rect x="203.22" y="459.92" width="14.02" height="2.72" fill="#ff4343"/>
<rect x="52.3" y="462.34" width="14.02" height="2.72" fill="#0e0eff"/>
<rect x="66.02" y="462.34" width="14.02" height="2.72" fill="#6d6dff"/>
<rect x="79.74" y="462.34" width="14.02" height="2.72" fill="#0202ff"/>
<rect x="93.46" y="462.34" width="14.02" height="2.72" fill="#3232ff"/>
<rect x="107.18" y="462.34" width="14.02" height="2.72" fill="#3030ff"/>
<rect x="120.9" y="462.34" width="14.02" height="2.72" fill="#4545ff"/>
<rect x="134.62" y="462.34" width="14.02" height="2.72" fill="#ff7676"/>
<rect x="148.34" y="462.34" width="14.02" height="2.72" fill="#ff6f6f"/>
<rect x="162.06" y="462.34" width="14.02" height="2.72" fill="#ff8f8f"/>
<rect x="175.78" y="462.34" width="14.02" height="2.72" fill="#ff3939"/>
<rect x="189.5" y="462.34" width="14.02" height="2.72" fill="#ff5050"/>
<rect x="203.22" y="462.34" width="14.02" height="2.72" fill="#ff4646"/>
<rect x="52.3" y="464.76" width="14.02" height="2.72" fill="#1111ff"/>
<rect x="66.02" y="464.76" width="14.02" height="2.72" fill="#4c4cff"/>
<rect x="79.74" y="464.76" width="14.02" height="2.72" fill="#1010ff"/>
<rect x="93.46" y="464.76" width="14.02" height="2.72" fill="#1f1fff"/>
<rect x="107.18" y="464.76" width="14.02" height="2.72" fill="#1d1dff"/>
<rect x="120.9" y="464.76" width="14.02" height="2.72" fill="#4f4fff"/>
<rect x="134.62" y="464.76" width="14.02" height="2.72" fill="#ff9f9f"/>
<rect x="148.34" y="464.76" width="14.02" height="2.72" fill="#ff5252"/>
<rect x="162.06" y="464.76" width="14.02" height="2.72" fill="#ff7e7e"/>
<rect x="175.78" y="464.76" width="14.02" height="2.72" fill="#ff5d5d"/>
<rect x="189.5" y="464.76" width="14.02" height="2.72" fill="#ff5f5f"/>
<rect x="203.22" y="464.76" width="14.02" height="2.72" fill="#ff7171"/>
<rect x="52.3" y="467.18" width="14.02" height="2.72" fill="#1515ff"/>
<rect x="66.02" y="467.18" width="14.02" height="2.72" fill="#4545ff"/>
<rect x="79.74" y="467.18" width="14.02" height="2.72" fill="#0000ff"/>
<rect x="93.46" y="467.18" width="14.02" height="2.72" fill="#1818ff"/>
<rect x="107.18" y="467.18" width="14.02" height="2.72" fill="#e2e2ff"/>
<rect x="120.9" y="467.18" width="14.02" height="2.72" fill="#e5e5ff"/>
<rect x="134.62" y="467.18" width="14.02" height="2.72" fill="#ff7c7c"/>
<rect x="148.34" y="467.18" width="14.02" height="2.72" fill="#ff7d7d"/>
<rect x="162.06" y="467.18" width="14.02" height="2.72" fill="#ff8080"/>
<rect x="175.78" y="467.18" width="14.02" height="2.72" fill="#ff5e5e"/>
<rect x="189.5" y="467.18" width="14.02" height="2.72" fill="#ff7676"/>
<rect x="203.22" y="467.18" width="14.02" height="2.72" fill="#ff5959"/>
<rect x="52.3" y="469.6" width="14.02" height="2.72" fill="#3131ff"/>
<rect x="66.02" y="469.6" width="14.02" height="2.72" fill="#7171ff"/>
<rect x="79.74" y="469.6" width="14.02" height="2.72" fill="#4242ff"/>
<rect x="93.46" y="469.6" width="14.02" height="2.72" fill="#2525ff"/>
<rect x="107.18" y="469.6" width="14.02" height="2.72" fill="#1616ff"/>
<rect x="120.9" y="469.6" width="14.02" height="2.72" fill="#6d6dff"/>
<rect x="134.62" y="469.6" width="14.02" height="2.72" fill="#ff8989"/>
<rect x="148.34" y="469.6" width="14.02" height="2.72" fill="#ff7070"/>
<rect x="162.06" y="469.6" width="14.02" height="2.72" fill="#ff4c4c"/>
<rect x="175.78" y="469.6" width="14.02" height="2.72" fill="#ff5050"/>
<rect x="189.5" y="469.6" width="14.02" height="2.72" fill="#ff6f6f"/>
<rect x="203.22" y="469.6" width="14.02" height="2.72" fill="#ff9393"/>
<rect x="52.3" y="472.02" width="14.02" height="2.72" fill="#2020ff"/>
<rect x="66.02" y="472.02" width="14.02" height="2.72" fill="#3f3fff"/>
<rect x="79.74" y="472.02" width="14.02" height="2.72" fill="#1313ff"/>
<rect x="93.46" y="472.02" width="14.02" height="2.72" fill="#2f2fff"/>
<rect x="107.18" y="472.02" width="14.02" height="2.72" fill="#2525ff"/>
<rect x="120.9" y="472.02" width="14.02" height="2.72" fill="#6767ff"/>
<rect x="134.62" y="472.02" width="14.02" height="2.72" fill="#ff8888"/>
<rect x="148.34" y="472.02" width="14.02" height="2.72" fill="#ff4646"/>
<rect x="162.06" y="472.02" width="14.02" height="2.72" fill="#ff7373"/>
<rect x="175.78" y="472.02" width="14.02" height="2.72" fill="#ff6868"/>
<rect x="189.5" y="472.02" width="14.02" height="2.72" fill="#ff9393"/>
<rect x="203.22" y="472.02" width="14.02" height="2.72" fill="#ff6f6f"/>
<rect x="52.3" y="474.44" width="14.02" height="2.72" fill="#2121ff"/>
<rect x="66.02" y="474.44" width="14.02" height="2.72" fill="#2525ff"/>
<rect x="79.74" y="474.44" width="14.02" height="2.72" fill="#2323ff"/>
<rect x="93.46" y="474.44" width="14.02" height="2.72" fill="#4646ff"/>
<rect x="107.18" y="474.44" width="14.02" height="2.72" fill="#3535ff"/>
<rect x="120.9" y="474.44" width="14.02" height="2.72" fill="#7272ff"/>
<rect x="134.62" y="474.44" width="14.02" height="2.72" fill="#ff8b8b"/>
<rect x="148.34" y="474.44" width="14.02" height="2.72" fill="#ff5858"/>
<rect x="162.06" y="474.44" width="14.02" height="2.72" fill="#ff6767"/>
<rect x="175.78" y="474.44" width="14.02" height="2.72" fill="#ff4d4d"/>
<rect x="189.5" y="474.44" width="14.02" height="2.72" fill="#ff5555"/>
<rect x="203.22" y="474.44" width="14.02" height="2.72" fill="#ff6d6d"/>
<rect x="52.3" y="476.86" width="14.02" height="2.72" fill="#3232ff"/>
<rect x="66.02" y="476.86" width="14.02" height="2.72" fill="#5b5bff"/>
<rect x="79.74" y="476.86" width="14.02" height="2.72" fill="#2626ff"/>
<rect x="93.46" y="476.86" width="14.02" height="2.72" fill="#1c1cff"/>
<rect x="107.18" y="476.86" width="14.02" height="2.72" fill="#2424ff"/>
<rect x="120.9" y="476.86" width="14.02" height="2.72" fill="#3f3fff"/>
<rect x="134.62" y="476.86" width="14.02" height="2.72" fill="#ffe5e5"/>
<rect x="148.34" y="476.86" width="14.02" height="2.72" fill="#ff6c6c"/>
<rect x="162.06" y="476.86" width="14.02" height="2.72" fill="#ff4545"/>
<rect x="175.78" y="476.86" width="14.02" height="2.72" fill="#ff5050"/>
<rect x="189.5" y="476.86" width="14.02" height="2.72" fill="#ff8181"/>
<rect x="203.22" y="476.86" width="14.02" height="2.72" fill="#ff7676"/>
<rect x="52.3" y="479.28" width="14.02" height="2.72" fill="#4f4fff"/>
<rect x="66.02" y="479.28" width="14.02" height="2.72" fill="#6363ff"/>
<rect x="79.74" y="479.28" width="14.02" height="2.72" fill="#0000ff"/>
<rect x="93.46" y="479.28" width="14.02" height="2.72" fill="#3f3fff"/>
<rect x="107.18" y="479.28" width="14.02" height="2.72" fill="#0000ff"/>
<rect x="120.9" y="479.28" width="14.02" height="2.72" fill="#3434ff"/>
<rect x="134.62" y="479.28" width="14.02" height="2.72" fill="#ff9c9c"/>
<rect x="148.34" y="479.28" width="14.02" height="2.72" fill="#ff7575"/>
<rect x="162.06" y="479.28" width="14.02" height="2.72" fill="#ff7474"/>
<rect x="175.78" y="479.28" width="14.02" height="2.72" fill="#ff3f3f"/>
<rect x="189.5" y="479.28" width="14.02" height="2.72" fill="#ff5353"/>
<rect x="203.22" y="479.28" width="14.02" height="2.72" fill="#ff9292"/>
<rect x="52.3" y="481.7" width="14.02" height="2.72" fill="#0000ff"/>
<rect x="66.02" y="481.7" width="14.02" height="2.72" fill="#4242ff"/>
<rect x="79.74" y="481.7" width="14.02" height="2.72" fill="#0101ff"/>
<rect x="93.46" y="481.7" width="14.02" height="2.72" fill="#0a0aff"/>
<rect x="107.18" y="481.7" width="14.02" height="2.72" fill="#3636ff"/>
<rect x="120.9" y="481.7" width="14.02" height="2.72" fill="#4e4eff"/>
<rect x="134.62" y="481.7" width="14.02" height="2.72" fill="#ffc0c0"/>
<rect x="148.34" y="481.7" width="14.02" height="2.72" fill="#ff7878"/>
<rect x="162.06" y="481.7" width="14.02" height="2.72" fill="#ff8686"/>
<rect x="175.78" y="481.7" width="14.02" height="2.72" fill="#ff6363"/>
<rect x="189.5" y="481.7" width="14.02" height="2.72" fill="#ff7373"/>
<rect x="203.22" y="481.7" width="14.02" height="2.72" fill="#ff7070"/>
<rect x="52.3" y="484.11" width="14.02" height="2.72" fill="#4545ff"/>
<rect x="66.02" y="484.11" width="14.02" height="2.72" fill="#6868ff"/>
<rect x="79.74" y="484.11" width="14.02" height="2.72" fill="#1414ff"/>
<rect x="93.46" y="484.11" width="14.02" height="2.72" fill="#2f2fff"/>
<rect x="107.18" y="484.11" width="14.02" height="2.72" fill="#0202ff"/>
<rect x="120.9" y="484.11" width="14.02" height="2.72" fill="#7070ff"/>
<rect x="134.62" y="484.11" width="14.02" height="2.72" fill="#ff8585"/>
<rect x="148.34" y="484.11" width="14.02" height="2.72" fill="#ff6a6a"/>
<rect x="162.06" y="484.11" width="14.02" height="2.72" fill="#ff2727"/>
<rect x="175.78" y="484.11" width="14.02" height="2.72" fill="#ff4747"/>
<rect x="189.5" y="484.11" width="14.02" height="2.72" fill="#ff6767"/>
<rect x="203.22" y="484.11" width="14.02" height="2.72" fill="#ff6464"/>
<rect x="52.3" y="486.53" width="14.02" height="2.72" fill="#2626ff"/>
<rect x="66.02" y="486.53" width="14.02" height="2.72" fill="#a4a4ff"/>
<rect x="79.74" y="486.53" width="14.02" height="2.72" fill="#0000ff"/>
<rect x="93.46" y="486.53" width="14.02" height="2.72" fill="#3535ff"/>
<rect x="107.18" y="486.53" width="14.02" height="2.72" fill="#0000ff"/>
<rect x="120.9" y="486.53" width="14.02" height="2.72" fill="#3e3eff"/>
<rect x="134.62" y="486.53" width="14.02" height="2.72" fill="#ff7777"/>
<rect x="148.34" y="486.53" width="14.02" height="2.72" fill="#ff2626"/>
<rect x="162.06" y="486.53" width="14.02" height="2.72" fill="#ff5a5a"/>
<rect x="175.78" y="486.53" width="14.02" height="2.72" fill="#ff3737"/>
<rect x="189.5" y="486.53" width="14.02" height="2.72" fill="#ffa1a1"/>
<rect x="203.22" y="486.53" width="14.02" height="2.72" fill="#ff6767"/>
<rect x="52.3" y="488.95" width="14.02" height="2.72" fill="#3f3fff"/>
<rect x="66.02" y="488.95" width="14.02" height="2.72" fill="#3434ff"/>
<rect x="79.74" y="488.95" width="14.02" height="2.72" fill="#5d5dff"/>
<rect x="93.46" y="488.95" width="14.02" height="2.72" fill="#5252ff"/>
<rect x="107.18" y="488.95" width="14.02" height="2.72" fill="#0202ff"/>
<rect x="120.9" y="488.95" width="14.02" height="2.72" fill="#2424ff"/>
<rect x="134.62" y="488.95" width="14.02" height="2.72" fill="#ff8a8a"/>
<rect x="148.34" y="488.95" width="14.02" height="2.72" fill="#ff6b6b"/>
<rect x="162.06" y="488.95" width="14.02" height="2.72" fill="#ff6d6d"/>
<rect x="175.78" y="488.95" width="14.02" height="2.72" fill="#ff4a4a"/>
<rect x="189.5" y="488.95" width="14.02" height="2.72" fill="#ff6464"/>
<rect x="203.22" y="488.95" width="14.02" height="2.72" fill="#ff3f3f"/>
<rect x="52.3" y="491.37" width="14.02" height="2.72" fill="#2c2cff"/>
<rect x="66.02" y="491.37" width="14.02" height="2.72" fill="#2f2fff"/>
<rect x="79.74" y="491.37" width="14.02" height="2.72" fill="#2323ff"/>
<rect x="93.46" y="491.37" width="14.02" height="2.72" fill="#6666ff"/>
<rect x="107.18" y="491.37" width="14.02" height="2.72" fill="#3333ff"/>
<rect x="120.9" y="491.37" width="14.02" height="2.72" fill="#4b4bff"/>
<rect x="134.62" y="491.37" width="14.02" height="2.72" fill="#ffa3a3"/>
<rect x="148.34" y="491.37" width="14.02" height="2.72" fill="#ff9e9e"/>
<rect x="162.06" y="491.37" width="14.02" height="2.72" fill="#ff7b7b"/>
<rect x="175.78" y="491.37" width="14.02" height="2.72" fill="#ff3b3b"/>
<rect x="189.5" y="491.37" width="14.02" height="2.72" fill="#ff3b3b"/>
<rect x="203.22" y="491.37" width="14.02" height="2.72" fill="#ff8a8a"/>
<rect x="52.3" y="493.79" width="14.02" height="2.72" fill="#fdfdff"/>
<rect x="66.02" y="493.79" width="14.02" height="2.72" fill="#3f3fff"/>
<rect x="79.74" y="493.79" width="14.02" height="2.72" fill="#0909ff"/>
<rect x="93.46" y="493.79" width="14.02" height="2.72" fill="#3333ff"/>
<rect x="107.18" y="493.79" width="14.02" height="2.72" fill="#3e3eff"/>
<rect x="120.9" y="493.79" width="14.02" height="2.72" fill="#f7f7ff"/>
<rect x="134.62" y="493.79" width="14.02" height="2.72" fill="#ff6969"/>
<rect x="148.34" y="493.79" width="14.02" height="2.72" fill="#ff6464"/>
<rect x="162.06" y="493.79" width="14.02" height="2.72" fill="#ff9696"/>
<rect x="175.78" y="493.79" width="14.02" height="2.72" fill="#ff6f6f"/>
<rect x="189.5" y="493.79" width="14.02" height="2.72" fill="#ff8787"/>
<rect x="203.22" y="493.79" width="14.02" height="2.72" fill="#ff8f8f"/>
<rect x="52.3" y="496.21" width="14.02" height="2.72" fill="#4747ff"/>
<rect x="66.02" y="496.21" width="14.02" height="2.72" fill="#5959ff"/>
<rect x="79.74" y="496.21" width="14.02" height="2.72" fill="#3030ff"/>
<rect x="93.46" y="496.21" width="14.02" height="2.72" fill="#5555ff"/>
<rect x="107.18" y="496.21" width="14.02" height="2.72" fill="#0000ff"/>
<rect x="120.9" y="496.21" width="14.02" height="2.72" fill="#f3f3ff"/>
<rect x="134.62" y="496.21" width="14.02" height="2.72" fill="#ffecec"/>
<rect x="148.34" y="496.21" width="14.02" height="2.72" fill="#fff3f3"/>
<rect x="162.06" y="496.21" width="14.02" height="2.72" fill="#ff5757"/>
<rect x="175.78" y="496.21" width="14.02" height="2.72" fill="#ff5656"/>
<rect x="189.5" y="496.21" width="14.02" height="2.72" fill="#ff4949"/>
<rect x="203.22" y="496.21" width="14.02" height="2.72" fill="#ff7171"/>
<rect x="52.3" y="498.63" width="14.02" height="2.72" fill="#2727ff"/>
<rect x="66.02" y="498.63" width="14.02" height="2.72" fill="#4141ff"/>
<rect x="79.74" y="498.63" width="14.02" height="2.72" fill="#0505ff"/>
<rect x="93.46" y="498.63" width="14.02" height="2.72" fill="#2e2eff"/>
<rect x="107.18" y="498.63" width="14.02" height="2.72" fill="#1010ff"/>
<rect x="120.9" y="498.63" width="14.02" height="2.72" fill="#2020ff"/>
<rect x="134.62" y="498.63" width="14.02" height="2.72" fill="#ffa4a4"/>
<rect x="148.34" y="498.63" width="14.02" height="2.72" fill="#ff6666"/>
<rect x="162.06" y="498.63" width="14.02" height="2.72" fill="#ff6969"/>
<rect x="175.78" y="498.63" width="14.02" height="2.72" fill="#ff5959"/>
<rect x="189.5" y="498.63" width="14.02" height="2.72" fill="#ff6060"/>
<rect x="203.22" y="498.63" width="14.02" height="2.72" fill="#ff7a7a"/>
<rect x="52.3" y="501.05" width="14.02" height="2.72" fill="#2929ff"/>
<rect x="66.02" y="501.05" width="14.02" height="2.72" fill="#6060ff"/>
<rect x="79.74" y="501.05" width="14.02" height="2.72" fill="#1717ff"/>
<rect x="93.46" y="501.05" width="14.02" height="2.72" fill="#0e0eff"/>
<rect x="107.18" y="501.05" width="14.02" height="2.72" fill="#3131ff"/>
<rect x="120.9" y="501.05" width="14.02" height="2.72" fill="#8484ff"/>
<rect x="134.62" y="501.05" width="14.02" height="2.72" fill="#ffa3a3"/>
<rect x="148.34" y="501.05" width="14.02" height="2.72" fill="#ff7d7d"/>
<rect x="162.06" y="501.05" width="14.02" height="2.72" fill="#ffb5b5"/>
<rect x="175.78" y="501.05" width="14.02" height="2.72" fill="#ff9090"/>
<rect x="189.5" y="501.05" width="14.02" height="2.72" fill="#ffb5b5"/>
<rect x="203.22" y="501.05" width="14.02" height="2.72" fill="#ff5d5d"/>
<rect x="52.3" y="503.47" width="14.02" height="2.72" fill="#3333ff"/>
<rect x="66.02" y="503.47" width="14.02" height="2.72" fill="#4e4eff"/>
<rect x="79.74" y="503.47" width="14.02" height="2.72" fill="#2121ff"/>
<rect x="93.46" y="503.47" width="14.02" height="2.72" fill="#3c3cff"/>
<rect x="107.18" y="503.47" width="14.02" height="2.72" fill="#0909ff"/>
<rect x="120.9" y="503.47" width="14.02" height="2.72" fill="#2626ff"/>
<rect x="134.62" y="503.47" width="14.02" height="2.72" fill="#ff8181"/>
<rect x="148.34" y="503.47" width="14.02" height="2.72" fill="#ff8d8d"/>
<rect x="162.06" y="503.47" width="14.02" height="2.72" fill="#ffb3b3"/>
<rect x="175.78" y="503.47" width="14.02" height="2.72" fill="#ff5050"/>
<rect x="189.5" y="503.47" width="14.02" height="2.72" fill="#ff8888"/>
<rect x="203.22" y="503.47" width="14.02" height="2.72" fill="#ff5d5d"/>
<rect x="52.3" y="505.89" width="14.02" height="2.72" fill="#2020ff"/>
<rect x="66.02" y="505.89" width="14.02" height="2.72" fill="#6767ff"/>
<rect x="79.74" y="505.89" width="14.02" height="2.72" fill="#4a4aff"/>
<rect x="93.46" y="505.89" width="14.02" height="2.72" fill="#6b6bff"/>
<rect x="107.18" y="505.89" width="14.02" height="2.72" fill="#2626ff"/>
<rect x="120.9" y="505.89" width="14.02" height="2.72" fill="#ededff"/>
<rect x="134.62" y="505.89" width="14.02" height="2.72" fill="#ffbdbd"/>
<rect x="148.34" y="505.89" width="14.02" height="2.72" fill="#ff9d9d"/>
<rect x="162.06" y="505.89" width="14.02" height="2.72" fill="#ffb0b0"/>
<rect x="175.78" y="505.89" width="14.02" height="2.72" fill="#ff7272"/>
<rect x="189.5" y="505.89" width="14.02" height="2.72" fill="#ffa5a5"/>
<rect x="203.22" y="505.89" width="14.02" height="2.72" fill="#ff7878"/>
<rect x="52.3" y="508.31" width="14.02" height="2.72" fill="#4c4cff"/>
<rect x="66.02" y="508.31" width="14.02" height="2.72" fill="#7373ff"/>
<rect x="79.74" y="508.31" width="14.02" height="2.72" fill="#5353ff"/>
<rect x="93.46" y="508.31" width="14.02" height="2.72" fill="#7b7bff"/>
<rect x="107.18" y="508.31" width="14.02" height="2.72" fill="#dedeff"/>
<rect x="120.9" y="508.31" width="14.02" height="2.72" fill="#bebeff"/>
<rect x="134.62" y="508.31" width="14.02" height="2.72" fill="#ff8b8b"/>
<rect x="148.34" y="508.31" width="14.02" height="2.72" fill="#ff9595"/>
<rect x="162.06" y="508.31" width="14.02" height="2.72" fill="#ffb7b7"/>
<rect x="175.78" y="508.31" width="14.02" height="2.72" fill="#ff6c6c"/>
<rect x="189.5" y="508.31" width="14.02" height="2.72" fill="#ffaaaa"/>
<rect x="203.22" y="508.31" width="14.02" height="2.72" fill="#ff8484"/>
<rect x="52.3" y="510.73" width="14.02" height="2.72" fill="#3d3dff"/>
<rect x="66.02" y="510.73" width="14.02" height="2.72" fill="#6262ff"/>
<rect x="79.74" y="510.73" width="14.02" height="2.72" fill="#2e2eff"/>
<rect x="93.46" y="510.73" width="14.02" height="2.72" fill="#7b7bff"/>
<rect x="107.18" y="510.73" width="14.02" height="2.72" fill="#1c1cff"/>
<rect x="120.9" y="510.73" width="14.02" height="2.72" fill="#8989ff"/>
<rect x="134.62" y="510.73" width="14.02" height="2.72" fill="#ffc1c1"/>
<rect x="148.34" y="510.73" width="14.02" height="2.72" fill="#ff7373"/>
<rect x="162.06" y="510.73" width="14.02" height="2.72" fill="#ff8b8b"/>
<rect x="175.78" y="510.73" width="14.02" height="2.72" fill="#ff7171"/>
<rect x="189.5" y="510.73" width="14.02" height="2.72" fill="#ffdede"/>
<rect x="203.22" y="510.73" width="14.02" height="2.72" fill="#ff4b4b"/>
<rect x="52.3" y="513.15" width="14.02" height="2.72" fill="#7070ff"/>
<rect x="66.02" y="513.15" width="14.02" height="2.72" fill="#8585ff"/>
<rect x="79.74" y="513.15" width="14.02" height="2.72" fill="#f7f7ff"/>
<rect x="93.46" y="513.15" width="14.02" height="2.72" fill="#9595ff"/>
<rect x="107.18" y="513.15" width="14.02" height="2.72" fill="#3c3cff"/>
<rect x="120.9" y="513.15" width="14.02" height="2.72" fill="#6b6bff"/>
<rect x="134.62" y="513.15" width="14.02" height="2.72" fill="#ffbfbf"/>
<rect x="148.34" y="513.15" width="14.02" height="2.72" fill="#ffbaba"/>
<rect x="162.06" y="513.15" width="14.02" height="2.72" fill="#ffa3a3"/>
<rect x="175.78" y="513.15" width="14.02" height="2.72" fill="#ff7a7a"/>
<rect x="189.5" y="513.15" width="14.02" height="2.72" fill="#ffb8b8"/>
<rect x="203.22" y="513.15" width="14.02" height="2.72" fill="#ff6b6b"/>
<rect x="52.3" y="515.57" width="14.02" height="2.72" fill="#7272ff"/>
<rect x="66.02" y="515.57" width="14.02" height="2.72" fill="#a5a5ff"/>
<rect x="79.74" y="515.57" width="14.02" height="2.72" fill="#7373ff"/>
<rect x="93.46" y="515.57" width="14.02" height="2.72" fill="#9292ff"/>
<rect x="107.18" y="515.57" width="14.02" height="2.72" fill="#4040ff"/>
<rect x="120.9" y="515.57" width="14.02" height="2.72" fill="#7a7aff"/>
<rect x="134.62" y="515.57" width="14.02" height="2.72" fill="#ffb7b7"/>
<rect x="148.34" y="515.57" width="14.02" height="2.72" fill="#ff8585"/>
<rect x="162.06" y="515.57" width="14.02" height="2.72" fill="#ff8d8d"/>
<rect x="175.78" y="515.57" width="14.02" height="2.72" fill="#ffa1a1"/>
<rect x="189.5" y="515.57" width="14.02" height="2.72" fill="#ffc2c2"/>
<rect x="203.22" y="515.57" width="14.02" height="2.72" fill="#ff8e8e"/>
<rect x="52.3" y="517.99" width="14.02" height="2.72" fill="#6262ff"/>
<rect x="66.02" y="517.99" width="14.02" height="2.72" fill="#6d6dff"/>
<rect x="79.74" y="517.99" width="14.02" height="2.72" fill="#4545ff"/>
<rect x="93.46" y="517.99" width="14.02" height="2.72" fill="#6363ff"/>
<rect x="107.18" y="517.99" width="14.02" height="2.72" fill="#6f6fff"/>
<rect x="120.9" y="517.99" width="14.02" height="2.72" fill="#7f7fff"/>
<rect x="134.62" y="517.99" width="14.02" height="2.72" fill="#ff5252"/>
<rect x="148.34" y="517.99" width="14.02" height="2.72" fill="#ff9191"/>
<rect x="162.06" y="517.99" width="14.02" height="2.72" fill="#ff8a8a"/>
<rect x="175.78" y="517.99" width="14.02" height="2.72" fill="#ff9999"/>
<rect x="189.5" y="517.99" width="14.02" height="2.72" fill="#ff7a7a"/>
<rect x="203.22" y="517.99" width="14.02" height="2.72" fill="#ffa2a2"/>
<rect x="52.3" y="520.4" width="14.02" height="2.72" fill="#4545ff"/>
<rect x="66.02" y="520.4" width="14.02" height="2.72" fill="#7a7aff"/>
<rect x="79.74" y="520.4" width="14.02" height="2.72" fill="#5e5eff"/>
<rect x="93.46" y="520.4" width="14.02" height="2.72" fill="#b6b6ff"/>
<rect x="107.18" y="520.4" width="14.02" height="2.72" fill="#2424ff"/>
<rect x="120.9" y="520.4" width="14.02" height="2.72" fill="#9191ff"/>
<rect x="134.62" y="520.4" width="14.02" height="2.72" fill="#ffa9a9"/>
<rect x="148.34" y="520.4" width="14.02" height="2.72" fill="#ffc0c0"/>
<rect x="162.06" y="520.4" width="14.02" height="2.72" fill="#ff9898"/>
<rect x="175.78" y="520.4" width="14.02" height="2.72" fill="#ff8686"/>
<rect x="189.5" y="520.4" width="14.02" height="2.72" fill="#ff7a7a"/>
<rect x="203.22" y="520.4" width="14.02" height="2.72" fill="#ff7171"/>
<rect x="52.3" y="522.82" width="14.02" height="2.72" fill="#4848ff"/>
<rect x="66.02" y="522.82" width="14.02" height="2.72" fill="#4444ff"/>
<rect x="79.74" y="522.82" width="14.02" height="2.72" fill="#5c5cff"/>
<rect x="93.46" y="522.82" width="14.02" height="2.72" fill="#7777ff"/>
<rect x="107.18" y="522.82" width="14.02" height="2.72" fill="#2020ff"/>
<rect x="120.9" y="522.82" width="14.02" height="2.72" fill="#9393ff"/>
<rect x="134.62" y="522.82" width="14.02" height="2.72" fill="#ff7979"/>
<rect x="148.34" y="522.82" width="14.02" height="2.72" fill="#ff8686"/>
<rect x="162.06" y="522.82" width="14.02" height="2.72" fill="#ffb2b2"/>
<rect x="175.78" y="522.82" width="14.02" height="2.72" fill="#ff8b8b"/>
<rect x="189.5" y="522.82" width="14.02" height="2.72" fill="#ff9191"/>
<rect x="203.22" y="522.82" width="14.02" height="2.72" fill="#ff8c8c"/>
<rect x="52.3" y="525.24" width="14.02" height="2.72" fill="#5f5fff"/>
<rect x="66.02" y="525.24" width="14.02" height="2.72" fill="#8686ff"/>
<rect x="79.74" y="525.24" width="14.02" height="2.72" fill="#4747ff"/>
<rect x="93.46" y="525.24" width="14.02" height="2.72" fill="#7474ff"/>
<rect x="107.18" y="525.24" width="14.02" height="2.72" fill="#5d5dff"/>
<rect x="120.9" y="525.24" width="14.02" height="2.72" fill="#7474ff"/>
<rect x="134.62" y="525.24" width="14.02" height="2.72" fill="#ff9494"/>
<rect x="148.34" y="525.24" width="14.02" height="2.72" fill="#ff9999"/>
<rect x="162.06" y="525.24" width="14.02" height="2.72" fill="#ff9292"/>
<rect x="175.78" y="525.24" width="14.02" height="2.72" fill="#ff7878"/>
<rect x="189.5" y="525.24" width="14.02" height="2.72" fill="#ff9393"/>
<rect x="203.22" y="525.24" width="14.02" height="2.72" fill="#ff8282"/>
<rect x="52.3" y="527.66" width="14.02" height="2.72" fill="#6f6fff"/>
<rect x="66.02" y="527.66" width="14.02" height="2.72" fill="#6d6dff"/>
<rect x="79.74" y="527.66" width="14.02" height="2.72" fill="#5252ff"/>
<rect x="93.46" y="527.66" width="14.02" height="2.72" fill="#6b6bff"/>
<rect x="107.18" y="527.66" width="14.02" height="2.72" fill="#4848ff"/>
<rect x="120.9" y="527.66" width="14.02" height="2.72" fill="#5e5eff"/>
<rect x="134.62" y="527.66" width="14.02" height="2.72" fill="#ff8787"/>
<rect x="148.34" y="527.66" width="14.02" height="2.72" fill="#ff7b7b"/>
<rect x="162.06" y="527.66" width="14.02" height="2.72" fill="#ff8181"/>
<rect x="175.78" y="527.66" width="14.02" height="2.72" fill="#ff4a4a"/>
<rect x="189.5" y="527.66" width="14.02" height="2.72" fill="#ff9292"/>
<rect x="203.22" y="527.66" width="14.02" height="2.72" fill="#ff7676"/>
<rect x="52.3" y="530.08" width="14.02" height="2.72" fill="#4a4aff"/>
<rect x="66.02" y="530.08" width="14.02" height="2.72" fill="#6969ff"/>
<rect x="79.74" y="530.08" width="14.02" height="2.72" fill="#3e3eff"/>
<rect x="93.46" y="530.08" width="14.02" height="2.72" fill="#8989ff"/>
<rect x="107.18" y="530.08" width="14.02" height="2.72" fill="#4343ff"/>
<rect x="120.9" y="530.08" width="14.02" height="2.72" fill="#7d7dff"/>
<rect x="134.62" y="530.08" width="14.02" height="2.72" fill="#ffa5a5"/>
<rect x="148.34" y="530.08" width="14.02" height="2.72" fill="#ffa5a5"/>
<rect x="162.06" y="530.08" width="14.02" height="2.72" fill="#ffb3b3"/>
<rect x="175.78" y="530.08" width="14.02" height="2.72" fill="#ff8282"/>
<rect x="189.5" y="530.08" width="14.02" height="2.72" fill="#ffbebe"/>
<rect x="203.22" y="530.08" width="14.02" height="2.72" fill="#ff9999"/>
<rect x="52.3" y="532.5" width="14.02" height="2.72" fill="#7b7bff"/>
<rect x="66.02" y="532.5" width="14.02" height="2.72" fill="#6f6fff"/>
<rect x="79.74" y="532.5" width="14.02" height="2.72" fill="#d3d3ff"/>
<rect x="93.46" y="532.5" width="14.02" height="2.72" fill="#8d8dff"/>
<rect x="107.18" y="532.5" width="14.02" height="2.72" fill="#4141ff"/>
<rect x="120.9" y="532.5" width="14.02" height="2.72" fill="#a9a9ff"/>
<rect x="134.62" y="532.5" width="14.02" height="2.72" fill="#ff9898"/>
<rect x="148.34" y="532.5" width="14.02" height="2.72" fill="#ff8383"/>
<rect x="162.06" y="532.5" width="14.02" height="2.72" fill="#ffbcbc"/>
<rect x="175.78" y="532.5" width="14.02" height="2.72" fill="#ff7c7c"/>
<rect x="189.5" y="532.5" width="14.02" height="2.72" fill="#ff8e8e"/>
<rect x="203.22" y="532.5" width="14.02" height="2.72" fill="#ff5e5e"/>
<rect x="52.3" y="534.92" width="14.02" height="2.72" fill="#7c7cff"/>
<rect x="66.02" y="534.92" width="14.02" height="2.72" fill="#9e9eff"/>
<rect x="79.74" y="534.92" width="14.02" height="2.72" fill="#8080ff"/>
<rect x="93.46" y="534.92" width="14.02" height="2.72" fill="#6a6aff"/>
<rect x="107.18" y="534.92" width="14.02" height="2.72" fill="#1414ff"/>
<rect x="120.9" y="534.92" width="14.02" height="2.72" fill="#9292ff"/>
<rect x="134.62" y="534.92" width="14.02" height="2.72" fill="#ffdada"/>
<rect x="148.34" y="534.92" width="14.02" height="2.72" fill="#ffa0a0"/>
<rect x="162.06" y="534.92" width="14.02" height="2.72" fill="#ff9494"/>
<rect x="175.78" y="534.92" width="14.02" height="2.72" fill="#ff8f8f"/>
<rect x="189.5" y="534.92" width="14.02" height="2.72" fill="#ff7979"/>
<rect x="203.22" y="534.92" width="14.02" height="2.72" fill="#ff9595"/>
<rect x="52.3" y="537.34" width="14.02" height="2.72" fill="#8686ff"/>
<rect x="66.02" y="537.34" width="14.02" height="2.72" fill="#5555ff"/>
<rect x="79.74" y="537.34" width="14.02" height="2.72" fill="#3a3aff"/>
<rect x="93.46" y="537.34" width="14.02" height="2.72" fill="#f5f5ff"/>
<rect x="107.18" y="537.34" width="14.02" height="2.72" fill="#4a4aff"/>
<rect x="120.9" y="537.34" width="14.02" height="2.72" fill="#6767ff"/>
<rect x="134.62" y="537.34" width="14.02" height="2.72" fill="#ffbcbc"/>
<rect x="148.34" y="537.34" width="14.02" height="2.72" fill="#ff6d6d"/>
<rect x="162.06" y="537.34" width="14.02" height="2.72" fill="#ffa6a6"/>
<rect x="175.78" y="537.34" width="14.02" height="2.72" fill="#ff9a9a"/>
<rect x="189.5" y="537.34" width="14.02" height="2.72" fill="#ff6b6b"/>
<rect x="203.22" y="537.34" width="14.02" height="2.72" fill="#ff7373"/>
<rect x="52.3" y="539.76" width="14.02" height="2.72" fill="#7474ff"/>
<rect x="66.02" y="539.76" width="14.02" height="2.72" fill="#5050ff"/>
<rect x="79.74" y="539.76" width="14.02" height="2.72" fill="#0000ff"/>
<rect x="93.46" y="539.76" width="14.02" height="2.72" fill="#7c7cff"/>
<rect x="107.18" y="539.76" width="14.02" height="2.72" fill="#5050ff"/>
<rect x="120.9" y="539.76" width="14.02" height="2.72" fill="#8080ff"/>
<rect x="134.62" y="539.76" width="14.02" height="2.72" fill="#ffa5a5"/>
<rect x="148.34" y="539.76" width="14.02" height="2.72" fill="#ff8a8a"/>
<rect x="162.06" y="539.76" width="14.02" height="2.72" fill="#ff6d6d"/>
<rect x="175.78" y="539.76" width="14.02" height="2.72" fill="#ff9797"/>
<rect x="189.5" y="539.76" width="14.02" height="2.72" fill="#ff8282"/>
<rect x="203.22" y="539.76" width="14.02" height="2.72" fill="#ff8686"/>
<rect x="52.3" y="542.18" width="14.02" height="2.72" fill="#7272ff"/>
<rect x="66.02" y="542.18" width="14.02" height="2.72" fill="#5656ff"/>
<rect x="79.74" y="542.18" width="14.02" height="2.72" fill="#3f3fff"/>
<rect x="93.46" y="542.18" width="14.02" height="2.72" fill="#6262ff"/>
<rect x="107.18" y="542.18" width="14.02" height="2.72" fill="#4040ff"/>
<rect x="120.9" y="542.18" width="14.02" height="2.72" fill="#7979ff"/>
<rect x="134.62" y="542.18" width="14.02" height="2.72" fill="#ff8989"/>
<rect x="148.34" y="542.18" width="14.02" height="2.72" fill="#ff7979"/>
<rect x="162.06" y="542.18" width="14.02" height="2.72" fill="#ffabab"/>
<rect x="175.78" y="542.18" width="14.02" height="2.72" fill="#ff9090"/>
<rect x="189.5" y="542.18" width="14.02" height="2.72" fill="#ff7474"/>
<rect x="203.22" y="542.18" width="14.02" height="2.72" fill="#ff8585"/>
<rect x="52.3" y="544.6" width="14.02" height="2.72" fill="#6b6bff"/>
<rect x="66.02" y="544.6" width="14.02" height="2.72" fill="#6060ff"/>
<rect x="79.74" y="544.6" width="14.02" height="2.72" fill="#7777ff"/>
<rect x="93.46" y="544.6" width="14.02" height="2.72" fill="#9898ff"/>
<rect x="107.18" y="544.6" width="14.02" height="2.72" fill="#7171ff"/>
<rect x="120.9" y="544.6" width="14.02" height="2.72" fill="#acacff"/>
<rect x="134.62" y="544.6" width="14.02" height="2.72" fill="#ff8e8e"/>
<rect x="148.34" y="544.6" width="14.02" height="2.72" fill="#ff9898"/>
<rect x="162.06" y="544.6" width="14.02" height="2.72" fill="#ffa9a9"/>
<rect x="175.78" y="544.6" width="14.02" height="2.72" fill="#ff7b7b"/>
<rect x="189.5" y="544.6" width="14.02" height="2.72" fill="#ff9b9b"/>
<rect x="203.22" y="544.6" width="14.02" height="2.72" fill="#ff6e6e"/>
<rect x="52.3" y="547.02" width="14.02" height="2.72" fill="#6d6dff"/>
<rect x="66.02" y="547.02" width="14.02" height="2.72" fill="#8080ff"/>
<rect x="79.74" y="547.02" width="14.02" height="2.72" fill="#8080ff"/>
<rect x="93.46" y="547.02" width="14.02" height="2.72" fill="#7878ff"/>
<rect x="107.18" y="547.02" width="14.02" height="2.72" fill="#5858ff"/>
<rect x="120.9" y="547.02" width="14.02" height="2.72" fill="#8b8bff"/>
<rect x="134.62" y="547.02" width="14.02" height="2.72" fill="#ffc3c3"/>
<rect x="148.34" y="547.02" width="14.02" height="2.72" fill="#ff6464"/>
<rect x="162.06" y="547.02" width="14.02" height="2.72" fill="#ff9d9d"/>
<rect x="175.78" y="547.02" width="14.02" height="2.72" fill="#ffa6a6"/>
<rect x="189.5" y="547.02" width="14.02" height="2.72" fill="#ffc2c2"/>
<rect x="203.22" y="547.02" width="14.02" height="2.72" fill="#ffb4b4"/>
<rect x="52.3" y="549.44" width="14.02" height="2.72" fill="#7272ff"/>
<rect x="66.02" y="549.44" width="14.02" height="2.72" fill="#5b5bff"/>
<rect x="79.74" y="549.44" width="14.02" height="2.72" fill="#9595ff"/>
<rect x="93.46" y="549.44" width="14.02" height="2.72" fill="#7676ff"/>
<rect x="107.18" y="549.44" width="14.02" height="2.72" fill="#6161ff"/>
<rect x="120.9" y="549.44" width="14.02" height="2.72" fill="#a1a1ff"/>
<rect x="134.62" y="549.44" width="14.02" height="2.72" fill="#ffb5b5"/>
<rect x="148.34" y="549.44" width="14.02" height="2.72" fill="#ffa0a0"/>
<rect x="162.06" y="549.44" width="14.02" height="2.72" fill="#ff9696"/>
<rect x="175.78" y="549.44" width="14.02" height="2.72" fill="#ff8c8c"/>
<rect x="189.5" y="549.44" width="14.02" height="2.72" fill="#ff7777"/>
<rect x="203.22" y="549.44" width="14.02" height="2.72" fill="#ff9898"/>
<rect x="52.3" y="551.86" width="14.02" height="2.72" fill="#6969ff"/>
<rect x="66.02" y="551.86" width="14.02" height="2.72" fill="#5151ff"/>
<rect x="79.74" y="551.86" width="14.02" height="2.72" fill="#7d7dff"/>
<rect x="93.46" y="551.86" width="14.02" height="2.72" fill="#9e9eff"/>
<rect x="107.18" y="551.86" width="14.02" height="2.72" fill="#6e6eff"/>
<rect x="120.9" y="551.86" width="14.02" height="2.72" fill="#8282ff"/>
<rect x="134.62" y="551.86" width="14.02" height="2.72" fill="#ff7a7a"/>
<rect x="148.34" y="551.86" width="14.02" height="2.72" fill="#ff9393"/>
<rect x="162.06" y="551.86" width="14.02" height="2.72" fill="#ffcaca"/>
<rect x="175.78" y="551.86" width="14.02" height="2.72" fill="#ff8f8f"/>
<rect x="189.5" y="551.86" width="14.02" height="2.72" fill="#ffa9a9"/>
<rect x="203.22" y="551.86" width="14.02" height="2.72" fill="#ff9090"/>
<rect x="52.3" y="554.27" width="14.02" height="2.72" fill="#8b8bff"/>
<rect x="66.02" y="554.27" width="14.02" height="2.72" fill="#4b4bff"/>
<rect x="79.74" y="554.27" width="14.02" height="2.72" fill="#7777ff"/>
<rect x="93.46" y="554.27" width="14.02" height="2.72" fill="#9090ff"/>
<rect x="107.18" y="554.27" width="14.02" height="2.72" fill="#4444ff"/>
<rect x="120.9" y="554.27" width="14.02" height="2.72" fill="#9696ff"/>
<rect x="134.62" y="554.27" width="14.02" height="2.72" fill="#ff8888"/>
<rect x="148.34" y="554.27" width="14.02" height="2.72" fill="#ff9999"/>
<rect x="162.06" y="554.27" width="14.02" height="2.72" fill="#ffc3c3"/>
<rect x="175.78" y="554.27" width="14.02" height="2.72" fill="#ff7474"/>
<rect x="189.5" y="554.27" width="14.02" height="2.72" fill="#ffaaaa"/>
<rect x="203.22" y="554.27" width="14.02" height="2.72" fill="#ff7474"/>
<rect x="52.3" y="556.69" width="14.02" height="2.72" fill="#6e6eff"/>
<rect x="66.02" y="556.69" width="14.02" height="2.72" fill="#6363ff"/>
<rect x="79.74" y="556.69" width="14.02" height="2.72" fill="#7f7fff"/>
<rect x="93.46" y="556.69" width="14.02" height="2.72" fill="#4e4eff"/>
<rect x="107.18" y="556.69" width="14.02" height="2.72" fill="#6767ff"/>
<rect x="120.9" y="556.69" width="14.02" height="2.72" fill="#9d9dff"/>
<rect x="134.62" y="556.69" width="14.02" height="2.72" fill="#ffa7a7"/>
<rect x="148.34" y="556.69" width="14.02" height="2.72" fill="#ff8888"/>
<rect x="162.06" y="556.69" width="14.02" height="2.72" fill="#ff9393"/>
<rect x="175.78" y="556.69" width="14.02" height="2.72" fill="#ff6a6a"/>
<rect x="189.5" y="556.69" width="14.02" height="2.72" fill="#ff8d8d"/>
<rect x="203.22" y="556.69" width="14.02" height="2.72" fill="#ff7676"/>
<rect x="52.3" y="559.11" width="14.02" height="2.72" fill="#4444ff"/>
<rect x="66.02" y="559.11" width="14.02" height="2.72" fill="#7a7aff"/>
<rect x="79.74" y="559.11" width="14.02" height="2.72" fill="#e9e9ff"/>
<rect x="93.46" y="559.11" width="14.02" height="2.72" fill="#9f9fff"/>
<rect x="107.18" y="559.11" width="14.02" height="2.72" fill="#4040ff"/>
<rect x="120.9" y="559.11" width="14.02" height="2.72" fill="#a9a9ff"/>
<rect x="134.62" y="559.11" width="14.02" height="2.72" fill="#ff8c8c"/>
<rect x="148.34" y="559.11" width="14.02" height="2.72" fill="#ffeded"/>
<rect x="162.06" y="559.11" width="14.02" height="2.72" fill="#ffa5a5"/>
<rect x="175.78" y="559.11" width="14.02" height="2.72" fill="#ff7e7e"/>
<rect x="189.5" y="559.11" width="14.02" height="2.72" fill="#ffbfbf"/>
<rect x="203.22" y="559.11" width="14.02" height="2.72" fill="#ff7272"/>
<rect x="52.3" y="561.53" width="14.02" height="2.72" fill="#6a6aff"/>
<rect x="66.02" y="561.53" width="14.02" height="2.72" fill="#7b7bff"/>
<rect x="79.74" y="561.53" width="14.02" height="2.72" fill="#6060ff"/>
<rect x="93.46" y="561.53" width="14.02" height="2.72" fill="#7a7aff"/>
<rect x="107.18" y="561.53" width="14.02" height="2.72" fill="#8181ff"/>
<rect x="120.9" y="561.53" width="14.02" height="2.72" fill="#a3a3ff"/>
<rect x="134.62" y="561.53" width="14.02" height="2.72" fill="#ffb5b5"/>
<rect x="148.34" y="561.53" width="14.02" height="2.72" fill="#ffb3b3"/>
<rect x="162.06" y="561.53" width="14.02" height="2.72" fill="#ff8d8d"/>
<rect x="175.78" y="561.53" width="14.02" height="2.72" fill="#ff7878"/>
<rect x="189.5" y="561.53" width="14.02" height="2.72" fill="#ff8989"/>
<rect x="203.22" y="561.53" width="14.02" height="2.72" fill="#ff6d6d"/>
<rect x="52.3" y="563.95" width="14.02" height="2.72" fill="#f9f9ff"/>
<rect x="66.02" y="563.95" width="14.02" height="2.72" fill="#f0f0ff"/>
<rect x="79.74" y="563.95" width="14.02" height="2.72" fill="#fcfcff"/>
<rect x="93.46" y="563.95" width="14.02" height="2.72" fill="#fcfcff"/>
<rect x="107.18" y="563.95" width="14.02" height="2.72" fill="#6262ff"/>
<rect x="120.9" y="563.95" width="14.02" height="2.72" fill="#8989ff"/>
<rect x="134.62" y="563.95" width="14.02" height="2.72" fill="#ff9292"/>
<rect x="148.34" y="563.95" width="14.02" height="2.72" fill="#ffc8c8"/>
<rect x="162.06" y="563.95" width="14.02" height="2.72" fill="#ffc2c2"/>
<rect x="175.78" y="563.95" width="14.02" height="2.72" fill="#ff8080"/>
<rect x="189.5" y="563.95" width="14.02" height="2.72" fill="#ffadad"/>
<rect x="203.22" y="563.95" width="14.02" height="2.72" fill="#ffe2e2"/>
<rect x="52.3" y="566.37" width="14.02" height="2.72" fill="#8d8dff"/>
<rect x="66.02" y="566.37" width="14.02" height="2.72" fill="#8c8cff"/>
<rect x="79.74" y="566.37" width="14.02" height="2.72" fill="#6969ff"/>
<rect x="93.46" y="566.37" width="14.02" height="2.72" fill="#8585ff"/>
<rect x="107.18" y="566.37" width="14.02" height="2.72" fill="#7a7aff"/>
<rect x="120.9" y="566.37" width="14.02" height="2.72" fill="#a8a8ff"/>
<rect x="134.62" y="566.37" width="14.02" height="2.72" fill="#fffdfd"/>
<rect x="148.34" y="566.37" width="14.02" height="2.72" fill="#ff9a9a"/>
<rect x="162.06" y="566.37" width="14.02" height="2.72" fill="#ffbaba"/>
<rect x="175.78" y="566.37" width="14.02" height="2.72" fill="#ff8383"/>
<rect x="189.5" y="566.37" width="14.02" height="2.72" fill="#ff9e9e"/>
<rect x="203.22" y="566.37" width="14.02" height="2.72" fill="#ff7a7a"/>
<rect x="52.3" y="568.79" width="14.02" height="2.72" fill="#4343ff"/>
<rect x="66.02" y="568.79" width="14.02" height="2.72" fill="#8989ff"/>
<rect x="79.74" y="568.79" width="14.02" height="2.72" fill="#7f7fff"/>
<rect x="93.46" y="568.79" width="14.02" height="2.72" fill="#a2a2ff"/>
<rect x="107.18" y="568.79" width="14.02" height="2.72" fill="#8b8bff"/>
<rect x="120.9" y="568.79" width="14.02" height="2.72" fill="#9595ff"/>
<rect x="134.62" y="568.79" width="14.02" height="2.72" fill="#ff9e9e"/>
<rect x="148.34" y="568.79" width="14.02" height="2.72" fill="#fffbfb"/>
<rect x="162.06" y="568.79" width="14.02" height="2.72" fill="#ff8a8a"/>
<rect x="175.78" y="568.79" width="14.02" height="2.72" fill="#ff8a8a"/>
<rect x="189.5" y="568.79" width="14.02" height="2.72" fill="#ffa5a5"/>
<rect x="203.22" y="568.79" width="14.02" height="2.72" fill="#ff4f4f"/>
<rect x="52.3" y="571.21" width="14.02" height="2.72" fill="#8282ff"/>
<rect x="66.02" y="571.21" width="14.02" height="2.72" fill="#7070ff"/>
<rect x="79.74" y="571.21" width="14.02" height="2.72" fill="#5050ff"/>
<rect x="93.46" y="571.21" width="14.02" height="2.72" fill="#ababff"/>
<rect x="107.18" y="571.21" width="14.02" height="2.72" fill="#f6f6ff"/>
<rect x="120.9" y="571.21" width="14.02" height="2.72" fill="#cfcfff"/>
<rect x="134.62" y="571.21" width="14.02" height="2.72" fill="#ffc2c2"/>
<rect x="148.34" y="571.21" width="14.02" height="2.72" fill="#ff8585"/>
<rect x="162.06" y="571.21" width="14.02" height="2.72" fill="#ff9e9e"/>
<rect x="175.78" y="571.21" width="14.02" height="2.72" fill="#ff7979"/>
<rect x="189.5" y="571.21" width="14.02" height="2.72" fill="#ffaeae"/>
<rect x="203.22" y="571.21" width="14.02" height="2.72" fill="#ff6767"/>
<rect x="52.3" y="573.63" width="14.02" height="2.72" fill="#7c7cff"/>
<rect x="66.02" y="573.63" width="14.02" height="2.72" fill="#ededff"/>
<rect x="79.74" y="573.63" width="14.02" height="2.72" fill="#a9a9ff"/>
<rect x="93.46" y="573.63" width="14.02" height="2.72" fill="#6464ff"/>
<rect x="107.18" y="573.63" width="14.02" height="2.72" fill="#6161ff"/>
<rect x="120.9" y="573.63" width="14.02" height="2.72" fill="#8a8aff"/>
<rect x="134.62" y="573.63" width="14.02" height="2.72" fill="#ffa6a6"/>
<rect x="148.34" y="573.63" width="14.02" height="2.72" fill="#ff8484"/>
<rect x="162.06" y="573.63" width="14.02" height="2.72" fill="#ffacac"/>
<rect x="175.78" y="573.63" width="14.02" height="2.72" fill="#ff6d6d"/>
<rect x="189.5" y="573.63" width="14.02" height="2.72" fill="#ff9191"/>
<rect x="203.22" y="573.63" width="14.02" height="2.72" fill="#ff7171"/>
<rect x="52.3" y="576.05" width="14.02" height="2.72" fill="#8585ff"/>
<rect x="66.02" y="576.05" width="14.02" height="2.72" fill="#7a7aff"/>
<rect x="79.74" y="576.05" width="14.02" height="2.72" fill="#7979ff"/>
<rect x="93.46" y="576.05" width="14.02" height="2.72" fill="#c7c7ff"/>
<rect x="107.18" y="576.05" width="14.02" height="2.72" fill="#4a4aff"/>
<rect x="120.9" y="576.05" width="14.02" height="2.72" fill="#b8b8ff"/>
<rect x="134.62" y="576.05" width="14.02" height="2.72" fill="#ff9191"/>
<rect x="148.34" y="576.05" width="14.02" height="2.72" fill="#ff9c9c"/>
<rect x="162.06" y="576.05" width="14.02" height="2.72" fill="#ff7d7d"/>
<rect x="175.78" y="576.05" width="14.02" height="2.72" fill="#ff9c9c"/>
<rect x="189.5" y="576.05" width="14.02" height="2.72" fill="#ff8d8d"/>
<rect x="203.22" y="576.05" width="14.02" height="2.72" fill="#ff4c4c"/>
<rect x="52.3" y="578.47" width="14.02" height="2.72" fill="#8c8cff"/>
<rect x="66.02" y="578.47" width="14.02" height="2.72" fill="#8787ff"/>
<rect x="79.74" y="578.47" width="14.02" height="2.72" fill="#9696ff"/>
<rect x="93.46" y="578.47" width="14.02" height="2.72" fill="#7e7eff"/>
<rect x="107.18" y="578.47" width="14.02" height="2.72" fill="#6868ff"/>
<rect x="120.9" y="578.47" width="14.02" height="2.72" fill="#b0b0ff"/>
<rect x="134.62" y="578.47" width="14.02" height="2.72" fill="#fff2f2"/>
<rect x="148.34" y="578.47" width="14.02" height="2.72" fill="#ffdada"/>
<rect x="162.06" y="578.47" width="14.02" height="2.72" fill="#ff8181"/>
<rect x="175.78" y="578.47" width="14.02" height="2.72" fill="#ff7575"/>
<rect x="189.5" y="578.47" width="14.02" height="2.72" fill="#ffd5d5"/>
<rect x="203.22" y="578.47" width="14.02" height="2.72" fill="#ff4040"/>
<rect x="52.3" y="580.89" width="14.02" height="2.72" fill="#9797ff"/>
<rect x="66.02" y="580.89" width="14.02" height="2.72" fill="#8383ff"/>
<rect x="79.74" y="580.89" width="14.02" height="2.72" fill="#9494ff"/>
<rect x="93.46" y="580.89" width="14.02" height="2.72" fill="#5959ff"/>
<rect x="107.18" y="580.89" width="14.02" height="2.72" fill="#fbfbff"/>
<rect x="120.9" y="580.89" width="14.02" height="2.72" fill="#f4f4ff"/>
<rect x="134.62" y="580.89" width="14.02" height="2.72" fill="#ffefef"/>
<rect x="148.34" y="580.89" width="14.02" height="2.72" fill="#ff8d8d"/>
<rect x="162.06" y="580.89" width="14.02" height="2.72" fill="#ff8282"/>
<rect x="175.78" y="580.89" width="14.02" height="2.72" fill="#ff7d7d"/>
<rect x="189.5" y="580.89" width="14.02" height="2.72" fill="#ff6969"/>
<rect x="203.22" y="580.89" width="14.02" height="2.72" fill="#ff8787"/>
<rect x="52.3" y="583.31" width="14.02" height="2.72" fill="#6060ff"/>
<rect x="66.02" y="583.31" width="14.02" height="2.72" fill="#8989ff"/>
<rect x="79.74" y="583.31" width="14.02" height="2.72" fill="#e6e6ff"/>
<rect x="93.46" y="583.31" width="14.02" height="2.72" fill="#7d7dff"/>
<rect x="107.18" y="583.31" width="14.02" height="2.72" fill="#6a6aff"/>
<rect x="120.9" y="583.31" width="14.02" height="2.72" fill="#8585ff"/>
<rect x="134.62" y="583.31" width="14.02" height="2.72" fill="#ffc0c0"/>
<rect x="148.34" y="583.31" width="14.02" height="2.72" fill="#ff7f7f"/>
<rect x="162.06" y="583.31" width="14.02" height="2.72" fill="#ff8484"/>
<rect x="175.78" y="583.31" width="14.02" height="2.72" fill="#ff5959"/>
<rect x="189.5" y="583.31" width="14.02" height="2.72" fill="#ff9b9b"/>
<rect x="203.22" y="583.31" width="14.02" height="2.72" fill="#ff5f5f"/>
<rect x="52.3" y="585.73" width="14.02" height="2.72" fill="#6060ff"/>
<rect x="66.02" y="585.73" width="14.02" height="2.72" fill="#9999ff"/>
<rect x="79.74" y="585.73" width="14.02" height="2.72" fill="#8484ff"/>
<rect x="93.46" y="585.73" width="14.02" height="2.72" fill="#7979ff"/>
<rect x="107.18" y="585.73" width="14.02" height="2.72" fill="#8d8dff"/>
<rect x="120.9" y="585.73" width="14.02" height="2.72" fill="#9191ff"/>
<rect x="134.62" y="585.73" width="14.02" height="2.72" fill="#ff9696"/>
<rect x="148.34" y="585.73" width="14.02" height="2.72" fill="#ff9999"/>
<rect x="162.06" y="585.73" width="14.02" height="2.72" fill="#ffaeae"/>
<rect x="175.78" y="585.73" width="14.02" height="2.72" fill="#ff7070"/>
<rect x="189.5" y="585.73" width="14.02" height="2.72" fill="#ffb8b8"/>
<rect x="203.22" y="585.73" width="14.02" height="2.72" fill="#ff7f7f"/>
<rect x="52.3" y="588.15" width="14.02" height="2.72" fill="#6262ff"/>
<rect x="66.02" y="588.15" width="14.02" height="2.72" fill="#6868ff"/>
<rect x="79.74" y="588.15" width="14.02" height="2.72" fill="#4949ff"/>
<rect x="93.46" y="588.15" width="14.02" height="2.72" fill="#aeaeff"/>
<rect x="107.18" y="588.15" width="14.02" height="2.72" fill="#5f5fff"/>
<rect x="120.9" y="588.15" width="14.02" height="2.72" fill="#8989ff"/>
<rect x="134.62" y="588.15" width="14.02" height="2.72" fill="#ff9a9a"/>
<rect x="148.34" y="588.15" width="14.02" height="2.72" fill="#ffd3d3"/>
<rect x="162.06" y="588.15" width="14.02" height="2.72" fill="#ff9393"/>
<rect x="175.78" y="588.15" width="14.02" height="2.72" fill="#ff8181"/>
<rect x="189.5" y="588.15" width="14.02" height="2.72" fill="#ff9999"/>
<rect x="203.22" y="588.15" width="14.02" height="2.72" fill="#ff9898"/>
<rect x="52.3" y="590.56" width="14.02" height="2.72" fill="#5151ff"/>
<rect x="66.02" y="590.56" width="14.02" height="2.72" fill="#4a4aff"/>
<rect x="79.74" y="590.56" width="14.02" height="2.72" fill="#6e6eff"/>
<rect x="93.46" y="590.56" width="14.02" height="2.72" fill="#7575ff"/>
<rect x="107.18" y="590.56" width="14.02" height="2.72" fill="#6767ff"/>
<rect x="120.9" y="590.56" width="14.02" height="2.72" fill="#8383ff"/>
<rect x="134.62" y="590.56" width="14.02" height="2.72" fill="#ffa8a8"/>
<rect x="148.34" y="590.56" width="14.02" height="2.72" fill="#ff8c8c"/>
<rect x="162.06" y="590.56" width="14.02" height="2.72" fill="#ff9e9e"/>
<rect x="175.78" y="590.56" width="14.02" height="2.72" fill="#ff5d5d"/>
<rect x="189.5" y="590.56" width="14.02" height="2.72" fill="#ff9494"/>
<rect x="203.22" y="590.56" width="14.02" height="2.72" fill="#ff7878"/>
<rect x="52.3" y="592.98" width="14.02" height="2.72" fill="#5d5dff"/>
<rect x="66.02" y="592.98" width="14.02" height="2.72" fill="#6464ff"/>
<rect x="79.74" y="592.98" width="14.02" height="2.72" fill="#8080ff"/>
<rect x="93.46" y="592.98" width="14.02" height="2.72" fill="#9c9cff"/>
<rect x="107.18" y="592.98" width="14.02" height="2.72" fill="#7070ff"/>
<rect x="120.9" y="592.98" width="14.02" height="2.72" fill="#9b9bff"/>
<rect x="134.62" y="592.98" width="14.02" height="2.72" fill="#ffaaaa"/>
<rect x="148.34" y="592.98" width="14.02" height="2.72" fill="#ff8383"/>
<rect x="162.06" y="592.98" width="14.02" height="2.72" fill="#ffa0a0"/>
<rect x="175.78" y="592.98" width="14.02" height="2.72" fill="#ff6c6c"/>
<rect x="189.5" y="592.98" width="14.02" height="2.72" fill="#ff8a8a"/>
<rect x="203.22" y="592.98" width="14.02" height="2.72" fill="#ff9090"/>
<rect x="52.3" y="595.4" width="14.02" height="2.72" fill="#7373ff"/>
<rect x="66.02" y="595.4" width="14.02" height="2.72" fill="#f3f3ff"/>
<rect x="79.74" y="595.4" width="14.02" height="2.72" fill="#7676ff"/>
<rect x="93.46" y="595.4" width="14.02" height="2.72" fill="#8e8eff"/>
<rect x="107.18" y="595.4" width="14.02" height="2.72" fill="#7474ff"/>
<rect x="120.9" y="595.4" width="14.02" height="2.72" fill="#7878ff"/>
<rect x="134.62" y="595.4" width="14.02" height="2.72" fill="#ff9494"/>
<rect x="148.34" y="595.4" width="14.02" height="2.72" fill="#ff6464"/>
<rect x="162.06" y="595.4" width="14.02" height="2.72" fill="#ffa2a2"/>
<rect x="175.78" y="595.4" width="14.02" height="2.72" fill="#ff7878"/>
<rect x="189.5" y="595.4" width="14.02" height="2.72" fill="#ffa9a9"/>
<rect x="203.22" y="595.4" width="14.02" height="2.72" fill="#ff7b7b"/>
<rect x="52.3" y="597.82" width="14.02" height="2.72" fill="#8d8dff"/>
<rect x="66.02" y="597.82" width="14.02" height="2.72" fill="#7e7eff"/>
<rect x="79.74" y="597.82" width="14.02" height="2.72" fill="#8888ff"/>
<rect x="93.46" y="597.82" width="14.02" height="2.72" fill="#7474ff"/>
<rect x="107.18" y="597.82" width="14.02" height="2.72" fill="#6060ff"/>
<rect x="120.9" y="597.82" width="14.02" height="2.72" fill="#afafff"/>
<rect x="134.62" y="597.82" width="14.02" height="2.72" fill="#ff8888"/>
<rect x="148.34" y="597.82" width="14.02" height="2.72" fill="#ff9090"/>
<rect x="162.06" y="597.82" width="14.02" height="2.72" fill="#ffb4b4"/>
<rect x="175.78" y="597.82" width="14.02" height="2.72" fill="#ff7c7c"/>
<rect x="189.5" y="597.82" width="14.02" height="2.72" fill="#ff6f6f"/>
<rect x="203.22" y="597.82" width="14.02" height="2.72" fill="#ff6d6d"/>
<rect x="52.3" y="600.24" width="14.02" height="2.72" fill="#6a6aff"/>
<rect x="66.02" y="600.24" width="14.02" height="2.72" fill="#5454ff"/>
<rect x="79.74" y="600.24" width="14.02" height="2.72" fill="#8181ff"/>
<rect x="93.46" y="600.24" width="14.02" height="2.72" fill="#8181ff"/>
<rect x="107.18" y="600.24" width="14.02" height="2.72" fill="#5d5dff"/>
<rect x="120.9" y="600.24" width="14.02" height="2.72" fill="#9696ff"/>
<rect x="134.62" y="600.24" width="14.02" height="2.72" fill="#ffafaf"/>
<rect x="148.34" y="600.24" width="14.02" height="2.72" fill="#ff7a7a"/>
<rect x="162.06" y="600.24" width="14.02" height="2.72" fill="#ff6767"/>
<rect x="175.78" y="600.24" width="14.02" height="2.72" fill="#ff7474"/>
<rect x="189.5" y="600.24" width="14.02" height="2.72" fill="#ff8b8b"/>
<rect x="203.22" y="600.24" width="14.02" height="2.72" fill="#ff9f9f"/>
<rect x="52.3" y="602.66" width="14.02" height="2.72" fill="#5050ff"/>
<rect x="66.02" y="602.66" width="14.02" height="2.72" fill="#9c9cff"/>
<rect x="79.74" y="602.66" width="14.02" height="2.72" fill="#a5a5ff"/>
<rect x="93.46" y="602.66" width="14.02" height="2.72" fill="#7d7dff"/>
<rect x="107.18" y="602.66" width="14.02" height="2.72" fill="#6767ff"/>
<rect x="120.9" y="602.66" width="14.02" height="2.72" fill="#8080ff"/>
<rect x="134.62" y="602.66" width="14.02" height="2.72" fill="#ffd1d1"/>
<rect x="148.34" y="602.66" width="14.02" height="2.72" fill="#ff9191"/>
<rect x="162.06" y="602.66" width="14.02" height="2.72" fill="#ff8f8f"/>
<rect x="175.78" y="602.66" width="14.02" height="2.72" fill="#ffa4a4"/>
<rect x="189.5" y="602.66" width="14.02" height="2.72" fill="#ff8383"/>
<rect x="203.22" y="602.66" width="14.02" height="2.72" fill="#fffbfb"/>
<rect x="52.3" y="605.08" width="14.02" height="2.72" fill="#7373ff"/>
<rect x="66.02" y="605.08" width="14.02" height="2.72" fill="#7a7aff"/>
<rect x="79.74" y="605.08" width="14.02" height="2.72" fill="#adadff"/>
<rect x="93.46" y="605.08" width="14.02" height="2.72" fill="#6262ff"/>
<rect x="107.18" y="605.08" width="14.02" height="2.72" fill="#6a6aff"/>
<rect x="120.9" y="605.08" width="14.02" height="2.72" fill="#9898ff"/>
<rect x="134.62" y="605.08" width="14.02" height="2.72" fill="#ff7676"/>
<rect x="148.34" y="605.08" width="14.02" height="2.72" fill="#ffadad"/>
<rect x="162.06" y="605.08" width="14.02" height="2.72" fill="#ff9191"/>
<rect x="175.78" y="605.08" width="14.02" height="2.72" fill="#ff6e6e"/>
<rect x="189.5" y="605.08" width="14.02" height="2.72" fill="#ff9696"/>
<rect x="203.22" y="605.08" width="14.02" height="2.72" fill="#ff5757"/>
<rect x="52.3" y="324.38" width="13.72" height="0.9" fill="#ffffff" fill-opacity="0.75"/>
<rect x="120.9" y="326.38" width="13.72" height="0.9" fill="#ffffff" fill-opacity="0.75"/>
<rect x="175.78" y="328.9" width="13.72" height="0.9" fill="#ffffff" fill-opacity="0.75"/>
<rect x="162.06" y="333.83" width="13.72" height="0.9" fill="#ffffff" fill-opacity="0.75"/>
<rect x="175.78" y="334.25" width="13.72" height="0.9" fill="#ffffff" fill-opacity="0.75"/>
<rect x="120.9" y="338.7" width="13.72" height="0.9" fill="#ffffff" fill-opacity="0.75"/>
<rect x="175.78" y="338.96" width="13.72" height="0.9" fill="#ffffff" fill-opacity="0.75"/>
<rect x="203.22" y="341.28" width="13.72" height="0.9" fill="#ffffff" fill-opacity="0.75"/>
<rect x="66.02" y="345.6" width="13.72" height="0.9" fill="#ffffff" fill-opacity="0.75"/>
<rect x="79.74" y="349.96" width="13.72" height="0.9" fill="#ffffff" fill-opacity="0.75"/>
<rect x="148.34" y="350.43" width="13.72" height="0.9" fill="#ffffff" fill-opacity="0.75"/>
<rect x="107.18" y="353.14" width="13.72" height="0.9" fill="#ffffff" fill-opacity="0.75"/>
<rect x="120.9" y="360.28" width="13.72" height="0.9" fill="#ffffff" fill-opacity="0.75"/>
<rect x="189.5" y="359.72" width="13.72" height="0.9" fill="#ffffff" fill-opacity="0.75"/>
<rect x="107.18" y="362.13" width="13.72" height="0.9" fill="#ffffff" fill-opacity="0.75"/>
<rect x="120.9" y="364.88" width="13.72" height="0.9" fill="#ffffff" fill-opacity="0.75"/>
<rect x="134.62" y="367.36" width="13.72" height="0.9" fill="#ffffff" fill-opacity="0.75"/>
<rect x="107.18" y="379.3" width="13.72" height="0.9" fill="#ffffff" fill-opacity="0.75"/>
<rect x="162.06" y="379.04" width="13.72" height="0.9" fill="#ffffff" fill-opacity="0.75"/>
<rect x="189.5" y="386.18" width="13.72" height="0.9" fill="#ffffff" fill-opacity="0.75"/>
<rect x="93.46" y="388.44" width="13.72" height="0.9" fill="#ffffff" fill-opacity="0.75"/>
<rect x="79.74" y="392.58" width="13.72" height="0.9" fill="#ffffff" fill-opacity="0.75"/>
<rect x="162.06" y="393.52" width="13.72" height="0.9" fill="#ffffff" fill-opacity="0.75"/>
<rect x="93.46" y="395.4" width="13.72" height="0.9" fill="#ffffff" fill-opacity="0.75"/>
<rect x="107.18" y="397.57" width="13.72" height="0.9" fill="#ffffff" fill-opacity="0.75"/>
<rect x="79.74" y="409.43" width="13.72" height="0.9" fill="#ffffff" fill-opacity="0.75"/>
<rect x="134.62" y="412.58" width="13.72" height="0.9" fill="#ffffff" fill-opacity="0.75"/>
<rect x="175.78" y="412.71" width="13.72" height="0.9" fill="#ffffff" fill-opacity="0.75"/>
<rect x="93.46" y="419.97" width="13.72" height="0.9" fill="#ffffff" fill-opacity="0.75"/>
<rect x="203.22" y="421.83" width="13.72" height="0.9" fill="#ffffff" fill-opacity="0.75"/>
<rect x="134.62" y="426.39" width="13.72" height="0.9" fill="#ffffff" fill-opacity="0.75"/>
<rect x="148.34" y="429.08" width="13.72" height="0.9" fill="#ffffff" fill-opacity="0.75"/>
<rect x="134.62" y="444.07" width="13.72" height="0.9" fill="#ffffff" fill-opacity="0.75"/>
<rect x="120.9" y="455.75" width="13.72" height="0.9" fill="#ffffff" fill-opacity="0.75"/>
<rect x="107.18" y="465.89" width="13.72" height="0.9" fill="#ffffff" fill-opacity="0.75"/>
<rect x="120.9" y="467.87" width="13.72" height="0.9" fill="#ffffff" fill-opacity="0.75"/>
<rect x="66.02" y="475.22" width="13.72" height="0.9" fill="#ffffff" fill-opacity="0.75"/>
<rect x="66.02" y="488.05" width="13.72" height="0.9" fill="#ffffff" fill-opacity="0.75"/>
<rect x="148.34" y="494.69" width="13.72" height="0.9" fill="#ffffff" fill-opacity="0.75"/>
<rect x="107.18" y="499.88" width="13.72" height="0.9" fill="#ffffff" fill-opacity="0.75"/>
<rect x="52.3" y="504.88" width="13.72" height="0.9" fill="#ffffff" fill-opacity="0.75"/>
<rect x="107.18" y="504.06" width="13.72" height="0.9" fill="#ffffff" fill-opacity="0.75"/>
<rect x="148.34" y="504.98" width="13.72" height="0.9" fill="#ffffff" fill-opacity="0.75"/>
<rect x="189.5" y="506.93" width="13.72" height="0.9" fill="#ffffff" fill-opacity="0.75"/>
<rect x="203.22" y="523.59" width="13.72" height="0.9" fill="#ffffff" fill-opacity="0.75"/>
<rect x="107.18" y="528.59" width="13.72" height="0.9" fill="#ffffff" fill-opacity="0.75"/>
<rect x="148.34" y="530.86" width="13.72" height="0.9" fill="#ffffff" fill-opacity="0.75"/>
<rect x="93.46" y="537.77" width="13.72" height="0.9" fill="#ffffff" fill-opacity="0.75"/>
<rect x="52.3" y="555.52" width="13.72" height="0.9" fill="#ffffff" fill-opacity="0.75"/>
<rect x="189.5" y="561.95" width="13.72" height="0.9" fill="#ffffff" fill-opacity="0.75"/>
<rect x="79.74" y="565.18" width="13.72" height="0.9" fill="#ffffff" fill-opacity="0.75"/>
<rect x="134.62" y="565.29" width="13.72" height="0.9" fill="#ffffff" fill-opacity="0.75"/>
<rect x="189.5" y="565.16" width="13.72" height="0.9" fill="#ffffff" fill-opacity="0.75"/>
<rect x="203.22" y="567.5" width="13.72" height="0.9" fill="#ffffff" fill-opacity="0.75"/>
<rect x="52.3" y="594.26" width="13.72" height="0.9" fill="#ffffff" fill-opacity="0.75"/>
<rect x="120.9" y="596.84" width="13.72" height="0.9" fill="#ffffff" fill-opacity="0.75"/>
<rect x="162.06" y="596.33" width="13.72" height="0.9" fill="#ffffff" fill-opacity="0.75"/>
<rect x="107.18" y="601.34" width="13.72" height="0.9" fill="#ffffff" fill-opacity="0.75"/>
</g>
<line x1="63.2" y1="287.3" x2="63.2" y2="298.9" stroke="#6a6a6a" stroke-width="0.9"/>
<line x1="76.8" y1="287.3" x2="76.8" y2="298.9" stroke="#6a6a6a" stroke-width="0.9"/>
<line x1="92.1" y1="285.4" x2="92.1" y2="298.9" stroke="#6a6a6a" stroke-width="0.9"/>
<line x1="105.8" y1="285.4" x2="105.8" y2="298.9" stroke="#6a6a6a" stroke-width="0.9"/>
<line x1="118.9" y1="283.5" x2="118.9" y2="298.9" stroke="#6a6a6a" stroke-width="0.9"/>
<line x1="132.6" y1="283.5" x2="132.6" y2="298.9" stroke="#6a6a6a" stroke-width="0.9"/>
<line x1="146.3" y1="282.2" x2="146.3" y2="298.9" stroke="#6a6a6a" stroke-width="0.9"/>
<line x1="161.3" y1="290.2" x2="161.3" y2="298.9" stroke="#6a6a6a" stroke-width="0.9"/>
<line x1="175.3" y1="290.2" x2="175.3" y2="298.9" stroke="#6a6a6a" stroke-width="0.9"/>
<line x1="190.4" y1="284.5" x2="190.4" y2="298.9" stroke="#6a6a6a" stroke-width="0.9"/>
<line x1="202.8" y1="287.7" x2="202.8" y2="298.9" stroke="#6a6a6a" stroke-width="0.9"/>
<line x1="216.6" y1="287.7" x2="216.6" y2="298.9" stroke="#6a6a6a" stroke-width="0.9"/>
<line x1="104.5" y1="255.1" x2="176.4" y2="255.1" stroke="#6a6a6a" stroke-width="0.9"/>
<line x1="83.4" y1="279.1" x2="124.5" y2="279.1" stroke="#6a6a6a" stroke-width="0.9"/>
<line x1="104.5" y1="255.1" x2="104.5" y2="279.1" stroke="#6a6a6a" stroke-width="0.9"/>
<line x1="69.6" y1="283" x2="97.2" y2="283" stroke="#6a6a6a" stroke-width="0.9"/>
<line x1="83.4" y1="279.1" x2="83.4" y2="283" stroke="#6a6a6a" stroke-width="0.9"/>
<line x1="63.2" y1="287.3" x2="76.8" y2="287.3" stroke="#6a6a6a" stroke-width="0.9"/>
<line x1="69.6" y1="283" x2="69.6" y2="287.3" stroke="#6a6a6a" stroke-width="0.9"/>
<line x1="92.1" y1="285.4" x2="105.8" y2="285.4" stroke="#6a6a6a" stroke-width="0.9"/>
<line x1="97.2" y1="283" x2="97.2" y2="285.4" stroke="#6a6a6a" stroke-width="0.9"/>
<line x1="118.9" y1="283.5" x2="132.6" y2="283.5" stroke="#6a6a6a" stroke-width="0.9"/>
<line x1="124.5" y1="279.1" x2="124.5" y2="283.5" stroke="#6a6a6a" stroke-width="0.9"/>
<line x1="155.5" y1="276.8" x2="196.4" y2="276.8" stroke="#6a6a6a" stroke-width="0.9"/>
<line x1="176.4" y1="255.1" x2="176.4" y2="276.8" stroke="#6a6a6a" stroke-width="0.9"/>
<line x1="146.3" y1="282.2" x2="166.7" y2="282.2" stroke="#6a6a6a" stroke-width="0.9"/>
<line x1="155.5" y1="276.8" x2="155.5" y2="282.2" stroke="#6a6a6a" stroke-width="0.9"/>
<line x1="161.3" y1="290.2" x2="175.3" y2="290.2" stroke="#6a6a6a" stroke-width="0.9"/>
<line x1="166.7" y1="282.2" x2="166.7" y2="290.2" stroke="#6a6a6a" stroke-width="0.9"/>
<line x1="190.4" y1="284.5" x2="211.4" y2="284.5" stroke="#6a6a6a" stroke-width="0.9"/>
<line x1="196.4" y1="276.8" x2="196.4" y2="284.5" stroke="#6a6a6a" stroke-width="0.9"/>
<line x1="202.8" y1="287.7" x2="216.6" y2="287.7" stroke="#6a6a6a" stroke-width="0.9"/>
<line x1="211.4" y1="284.5" x2="211.4" y2="287.7" stroke="#6a6a6a" stroke-width="0.9"/>
<text x="54.9" y="317" font-size="6.2" fill="#333" stroke="#333" stroke-width="0.05" stroke-linejoin="round" transform="rotate(-29 54.9 317)">parent3</text>
<text x="68.62" y="317" font-size="6.2" fill="#333" stroke="#333" stroke-width="0.05" stroke-linejoin="round" transform="rotate(-29 68.62 317)">parent2</text>
<text x="82.34" y="317" font-size="6.2" fill="#333" stroke="#333" stroke-width="0.05" stroke-linejoin="round" transform="rotate(-29 82.34 317)">parent4</text>
<text x="96.06" y="317" font-size="6.2" fill="#333" stroke="#333" stroke-width="0.05" stroke-linejoin="round" transform="rotate(-29 96.06 317)">parent1</text>
<text x="109.78" y="317" font-size="6.2" fill="#333" stroke="#333" stroke-width="0.05" stroke-linejoin="round" transform="rotate(-29 109.78 317)">parent5</text>
<text x="123.5" y="317" font-size="6.2" fill="#333" stroke="#333" stroke-width="0.05" stroke-linejoin="round" transform="rotate(-29 123.5 317)">parent6</text>
<text x="137.22" y="317" font-size="6.2" fill="#333" stroke="#333" stroke-width="0.05" stroke-linejoin="round" transform="rotate(-29 137.22 317)">spheroid1</text>
<text x="150.94" y="317" font-size="6.2" fill="#333" stroke="#333" stroke-width="0.05" stroke-linejoin="round" transform="rotate(-29 150.94 317)">spheroid3</text>
<text x="164.66" y="317" font-size="6.2" fill="#333" stroke="#333" stroke-width="0.05" stroke-linejoin="round" transform="rotate(-29 164.66 317)">spheroid2</text>
<text x="178.38" y="317" font-size="6.2" fill="#333" stroke="#333" stroke-width="0.05" stroke-linejoin="round" transform="rotate(-29 178.38 317)">spheroid4</text>
<text x="192.1" y="317" font-size="6.2" fill="#333" stroke="#333" stroke-width="0.05" stroke-linejoin="round" transform="rotate(-29 192.1 317)">spheroid6</text>
<text x="205.82" y="317" font-size="6.2" fill="#333" stroke="#333" stroke-width="0.05" stroke-linejoin="round" transform="rotate(-29 205.82 317)">spheroid5</text>
<text x="242.1" y="299.7" font-size="7.4" fill="#111">log2 quant</text>
<rect x="249.4" y="311.4" width="17" height="102.5" fill="url(#gq)"/>
<line x1="266.4" y1="311.6" x2="268.3" y2="311.6" stroke="#333" stroke-width="0.6"/>
<text x="271.8" y="313.8" font-size="6.2" fill="#111">1</text>
<line x1="266.4" y1="337.4" x2="268.3" y2="337.4" stroke="#333" stroke-width="0.6"/>
<text x="271.8" y="339.6" font-size="6.2" fill="#111">0.5</text>
<line x1="266.4" y1="363.2" x2="268.3" y2="363.2" stroke="#333" stroke-width="0.6"/>
<text x="271.8" y="365.4" font-size="6.2" fill="#111">0</text>
<line x1="266.4" y1="388.6" x2="268.3" y2="388.6" stroke="#333" stroke-width="0.6"/>
<text x="271.8" y="390.8" font-size="6.2" fill="#111">−0.5</text>
<line x1="266.4" y1="413.8" x2="268.3" y2="413.8" stroke="#333" stroke-width="0.6"/>
<text x="271.8" y="416" font-size="6.2" fill="#111">−1</text>
<text x="303.5" y="276.8" font-size="22" font-weight="bold" fill="#000">E</text>
<rect x="340.6" y="269.6" width="409.2" height="158.3" fill="#fff" stroke="#cfcfcf" stroke-width="0.8"/>
<text x="626.2" y="286.0" font-size="7.3" font-family="Liberation Serif, serif" font-weight="bold" text-anchor="middle" fill="#111">-log10(Fisher&#8217; exact test p value)</text>
<text x="511.6" y="296.2" font-size="7.6" font-family="Liberation Serif, serif" font-weight="bold" text-anchor="middle" fill="#000">0</text>
<line x1="511.6" y1="300.8" x2="511.6" y2="303.1" stroke="#111" stroke-width="0.7"/>
<text x="544.2" y="296.2" font-size="7.6" font-family="Liberation Serif, serif" font-weight="bold" text-anchor="middle" fill="#000">1</text>
<line x1="544.2" y1="300.8" x2="544.2" y2="303.1" stroke="#111" stroke-width="0.7"/>
<text x="576.8" y="296.2" font-size="7.6" font-family="Liberation Serif, serif" font-weight="bold" text-anchor="middle" fill="#000">2</text>
<line x1="576.8" y1="300.8" x2="576.8" y2="303.1" stroke="#111" stroke-width="0.7"/>
<text x="609.4" y="296.2" font-size="7.6" font-family="Liberation Serif, serif" font-weight="bold" text-anchor="middle" fill="#000">3</text>
<line x1="609.4" y1="300.8" x2="609.4" y2="303.1" stroke="#111" stroke-width="0.7"/>
<text x="642" y="296.2" font-size="7.6" font-family="Liberation Serif, serif" font-weight="bold" text-anchor="middle" fill="#000">4</text>
<line x1="642" y1="300.8" x2="642" y2="303.1" stroke="#111" stroke-width="0.7"/>
<text x="674.6" y="296.2" font-size="7.6" font-family="Liberation Serif, serif" font-weight="bold" text-anchor="middle" fill="#000">5</text>
<line x1="674.6" y1="300.8" x2="674.6" y2="303.1" stroke="#111" stroke-width="0.7"/>
<text x="707.2" y="296.2" font-size="7.6" font-family="Liberation Serif, serif" font-weight="bold" text-anchor="middle" fill="#000">6</text>
<line x1="707.2" y1="300.8" x2="707.2" y2="303.1" stroke="#111" stroke-width="0.7"/>
<text x="739.8" y="296.2" font-size="7.6" font-family="Liberation Serif, serif" font-weight="bold" text-anchor="middle" fill="#000">7</text>
<line x1="739.8" y1="300.8" x2="739.8" y2="303.1" stroke="#111" stroke-width="0.7"/>
<line x1="511.6" y1="303.1" x2="739.8" y2="303.1" stroke="#000" stroke-width="1.1"/>
<line x1="511.6" y1="303.1" x2="511.6" y2="420.4" stroke="#000" stroke-width="1.1"/>
<rect x="512.5" y="307.7" width="200" height="8" fill="#bcc4c4"/>
<rect x="512.0" y="305.7" width="199.9" height="8.1" fill="#ff0000"/>
<text x="505.4" y="312.2" font-size="7.35" font-family="Liberation Serif, serif" font-weight="bold" text-anchor="end" fill="#111">ECM-receptor interaction</text>
<rect x="512.5" y="320.75" width="101" height="8" fill="#bcc4c4"/>
<rect x="512.0" y="318.75" width="100.9" height="8.1" fill="#ff0000"/>
<text x="505.4" y="325.25" font-size="7.35" font-family="Liberation Serif, serif" font-weight="bold" text-anchor="end" fill="#111">Ribosome</text>
<rect x="512.5" y="333.8" width="85.1" height="8" fill="#bcc4c4"/>
<rect x="512.0" y="331.8" width="85" height="8.1" fill="#ff0000"/>
<text x="505.4" y="338.3" font-size="7.35" font-family="Liberation Serif, serif" font-weight="bold" text-anchor="end" fill="#111">HIF-1 signaling pathway</text>
<rect x="512.5" y="346.85" width="82.8" height="8" fill="#bcc4c4"/>
<rect x="512.0" y="344.85" width="82.7" height="8.1" fill="#ff0000"/>
<text x="505.4" y="351.35" font-size="7.35" font-family="Liberation Serif, serif" font-weight="bold" text-anchor="end" fill="#111">Cell adhesion molecules (CAMs)</text>
<rect x="512.5" y="359.9" width="65.5" height="8" fill="#bcc4c4"/>
<rect x="512.0" y="357.9" width="65.4" height="8.1" fill="#ff0000"/>
<text x="505.4" y="364.4" font-size="7.35" font-family="Liberation Serif, serif" font-weight="bold" text-anchor="end" fill="#111">Arrhythmogenic right ventricular cardiomyopathy</text>
<rect x="512.5" y="372.95" width="63.8" height="8" fill="#bcc4c4"/>
<rect x="512.0" y="370.95" width="63.7" height="8.1" fill="#ff0000"/>
<text x="505.4" y="377.45" font-size="7.35" font-family="Liberation Serif, serif" font-weight="bold" text-anchor="end" fill="#111">Hypertrophic cardiomyopathy</text>
<rect x="512.5" y="386" width="61.8" height="8" fill="#bcc4c4"/>
<rect x="512.0" y="384" width="61.7" height="8.1" fill="#ff0000"/>
<text x="505.4" y="390.5" font-size="7.35" font-family="Liberation Serif, serif" font-weight="bold" text-anchor="end" fill="#111">Proteoglycans in cancer</text>
<rect x="512.5" y="399.05" width="60.5" height="8" fill="#bcc4c4"/>
<rect x="512.0" y="397.05" width="60.4" height="8.1" fill="#ff0000"/>
<text x="505.4" y="403.55" font-size="7.35" font-family="Liberation Serif, serif" font-weight="bold" text-anchor="end" fill="#111">Dilated cardiomyopathy</text>
<rect x="512.5" y="412.1" width="43.9" height="8" fill="#bcc4c4"/>
<rect x="512.0" y="410.1" width="43.8" height="8.1" fill="#ff0000"/>
<text x="505.4" y="416.6" font-size="7.35" font-family="Liberation Serif, serif" font-weight="bold" text-anchor="end" fill="#111">PI3K-Akt signaling pathway</text>
<line x1="509.6" y1="303.1" x2="511.6" y2="303.1" stroke="#111" stroke-width="0.7"/>
<line x1="509.6" y1="316.15" x2="511.6" y2="316.15" stroke="#111" stroke-width="0.7"/>
<line x1="509.6" y1="329.2" x2="511.6" y2="329.2" stroke="#111" stroke-width="0.7"/>
<line x1="509.6" y1="342.25" x2="511.6" y2="342.25" stroke="#111" stroke-width="0.7"/>
<line x1="509.6" y1="355.3" x2="511.6" y2="355.3" stroke="#111" stroke-width="0.7"/>
<line x1="509.6" y1="368.35" x2="511.6" y2="368.35" stroke="#111" stroke-width="0.7"/>
<line x1="509.6" y1="381.4" x2="511.6" y2="381.4" stroke="#111" stroke-width="0.7"/>
<line x1="509.6" y1="394.45" x2="511.6" y2="394.45" stroke="#111" stroke-width="0.7"/>
<line x1="509.6" y1="407.5" x2="511.6" y2="407.5" stroke="#111" stroke-width="0.7"/>
<line x1="509.6" y1="420.55" x2="511.6" y2="420.55" stroke="#111" stroke-width="0.7"/>
<text x="303.5" y="476.8" font-size="22" font-weight="bold" fill="#000">F</text>
<g stroke="#7c7c7c" stroke-width="0.8" fill="none">
<line x1="445" y1="470.7" x2="463.4" y2="466.3"/>
<line x1="445" y1="470.7" x2="459.8" y2="482"/>
<line x1="445" y1="470.7" x2="472.5" y2="479"/>
<line x1="445" y1="470.7" x2="445.8" y2="486.8"/>
<line x1="445" y1="470.7" x2="462.9" y2="495.5"/>
<line x1="445" y1="470.7" x2="478.4" y2="491.1"/>
<line x1="445" y1="470.7" x2="447.7" y2="500.1"/>
<line x1="463.4" y1="466.3" x2="459.8" y2="482"/>
<line x1="463.4" y1="466.3" x2="472.5" y2="479"/>
<line x1="463.4" y1="466.3" x2="445.8" y2="486.8"/>
<line x1="463.4" y1="466.3" x2="462.9" y2="495.5"/>
<line x1="463.4" y1="466.3" x2="478.4" y2="491.1"/>
<line x1="463.4" y1="466.3" x2="477" y2="504.3"/>
<line x1="463.4" y1="466.3" x2="464.4" y2="510.5"/>
<line x1="459.8" y1="482" x2="472.5" y2="479"/>
<line x1="459.8" y1="482" x2="445.8" y2="486.8"/>
<line x1="459.8" y1="482" x2="462.9" y2="495.5"/>
<line x1="459.8" y1="482" x2="478.4" y2="491.1"/>
<line x1="459.8" y1="482" x2="447.7" y2="500.1"/>
<line x1="459.8" y1="482" x2="477" y2="504.3"/>
<line x1="459.8" y1="482" x2="464.4" y2="510.5"/>
<line x1="472.5" y1="479" x2="445.8" y2="486.8"/>
<line x1="472.5" y1="479" x2="462.9" y2="495.5"/>
<line x1="472.5" y1="479" x2="478.4" y2="491.1"/>
<line x1="472.5" y1="479" x2="447.7" y2="500.1"/>
<line x1="472.5" y1="479" x2="477" y2="504.3"/>
<line x1="472.5" y1="479" x2="464.4" y2="510.5"/>
<line x1="445.8" y1="486.8" x2="462.9" y2="495.5"/>
<line x1="445.8" y1="486.8" x2="447.7" y2="500.1"/>
<line x1="445.8" y1="486.8" x2="464.4" y2="510.5"/>
<line x1="462.9" y1="495.5" x2="478.4" y2="491.1"/>
<line x1="462.9" y1="495.5" x2="447.7" y2="500.1"/>
<line x1="462.9" y1="495.5" x2="477" y2="504.3"/>
<line x1="462.9" y1="495.5" x2="464.4" y2="510.5"/>
<line x1="478.4" y1="491.1" x2="447.7" y2="500.1"/>
<line x1="478.4" y1="491.1" x2="477" y2="504.3"/>
<line x1="478.4" y1="491.1" x2="464.4" y2="510.5"/>
<line x1="447.7" y1="500.1" x2="464.4" y2="510.5"/>
<line x1="477" y1="504.3" x2="464.4" y2="510.5"/>
<line x1="396.4" y1="514.9" x2="445" y2="470.7"/>
<line x1="396.4" y1="514.9" x2="416" y2="510"/>
<line x1="396.4" y1="514.9" x2="409.7" y2="525.5"/>
<line x1="396.4" y1="514.9" x2="406.4" y2="540.6"/>
<line x1="396.4" y1="514.9" x2="394.9" y2="530"/>
<line x1="416" y1="510" x2="445" y2="470.7"/>
<line x1="416" y1="510" x2="427.2" y2="518.5"/>
<line x1="416" y1="510" x2="409.7" y2="525.5"/>
<line x1="416" y1="510" x2="422.5" y2="532.6"/>
<line x1="416" y1="510" x2="447.7" y2="500.1"/>
<line x1="427.2" y1="518.5" x2="464.4" y2="510.5"/>
<line x1="427.2" y1="518.5" x2="447.7" y2="500.1"/>
<line x1="427.2" y1="518.5" x2="409.7" y2="525.5"/>
<line x1="427.2" y1="518.5" x2="422.5" y2="532.6"/>
<line x1="409.7" y1="525.5" x2="422.5" y2="532.6"/>
<line x1="409.7" y1="525.5" x2="406.4" y2="540.6"/>
<line x1="394.9" y1="530" x2="406.4" y2="540.6"/>
<line x1="394.9" y1="530" x2="409.7" y2="525.5"/>
<line x1="422.5" y1="532.6" x2="450" y2="533.4"/>
<line x1="422.5" y1="532.6" x2="446.8" y2="544.3"/>
<line x1="422.5" y1="532.6" x2="439.8" y2="549.2"/>
<line x1="422.5" y1="532.6" x2="432.1" y2="585.3"/>
<line x1="422.5" y1="532.6" x2="406.4" y2="540.6"/>
<line x1="406.4" y1="540.6" x2="446.8" y2="544.3"/>
<line x1="406.4" y1="540.6" x2="432.1" y2="585.3"/>
<line x1="447.7" y1="500.1" x2="422.5" y2="532.6"/>
<line x1="464.4" y1="510.5" x2="450" y2="533.4"/>
<line x1="464.4" y1="510.5" x2="467" y2="537.9"/>
<line x1="464.4" y1="510.5" x2="461.9" y2="550.5"/>
<line x1="464.4" y1="510.5" x2="466.4" y2="564.8"/>
<line x1="462.9" y1="495.5" x2="466.4" y2="564.8"/>
<line x1="477" y1="504.3" x2="485.1" y2="537.3"/>
<line x1="477" y1="504.3" x2="503.8" y2="536.9"/>
<line x1="477" y1="504.3" x2="507.3" y2="551"/>
<line x1="477" y1="504.3" x2="491.7" y2="530.1"/>
<line x1="478.4" y1="491.1" x2="507.3" y2="551"/>
<line x1="450" y1="533.4" x2="467" y2="537.9"/>
<line x1="450" y1="533.4" x2="446.8" y2="544.3"/>
<line x1="446.8" y1="544.3" x2="461.9" y2="550.5"/>
<line x1="446.8" y1="544.3" x2="451.2" y2="557.1"/>
<line x1="422.5" y1="532.6" x2="467" y2="537.9"/>
<line x1="461.9" y1="550.5" x2="466.4" y2="564.8"/>
<line x1="466.4" y1="564.8" x2="448.5" y2="586.4"/>
<line x1="466.4" y1="564.8" x2="483.2" y2="570"/>
<line x1="466.4" y1="564.8" x2="435.9" y2="597.5"/>
<line x1="467" y1="537.9" x2="466.4" y2="564.8"/>
<line x1="476.3" y1="546.7" x2="494" y2="549.5"/>
<line x1="476.3" y1="546.7" x2="483.2" y2="570"/>
<line x1="494" y1="549.5" x2="483.2" y2="570"/>
<line x1="494" y1="549.5" x2="501.5" y2="562.7"/>
<line x1="483.2" y1="570" x2="501.5" y2="562.7"/>
<line x1="475.2" y1="557.3" x2="483.2" y2="570"/>
<line x1="494" y1="549.5" x2="507.3" y2="551"/>
<line x1="485.1" y1="537.3" x2="503.8" y2="536.9"/>
<line x1="485.1" y1="537.3" x2="507.3" y2="551"/>
<line x1="503.8" y1="536.9" x2="507.3" y2="551"/>
<line x1="491.7" y1="530.1" x2="507.3" y2="551"/>
<line x1="485.1" y1="537.3" x2="494" y2="549.5"/>
<line x1="439.8" y1="549.2" x2="432.1" y2="585.3"/>
<line x1="439.8" y1="549.2" x2="435.9" y2="597.5"/>
<line x1="451.2" y1="557.1" x2="435.9" y2="597.5"/>
<line x1="449.3" y1="564.5" x2="448.5" y2="586.4"/>
<line x1="449.3" y1="564.5" x2="435.9" y2="597.5"/>
<line x1="467.7" y1="575.5" x2="448.5" y2="586.4"/>
<line x1="467.7" y1="575.5" x2="483.2" y2="570"/>
<line x1="451.2" y1="557.1" x2="449.3" y2="564.5"/>
<line x1="461.9" y1="550.5" x2="476.3" y2="546.7"/>
<line x1="432.1" y1="585.3" x2="435.9" y2="597.5"/>
<line x1="448.5" y1="586.4" x2="435.9" y2="597.5"/>
<line x1="448.5" y1="586.4" x2="454.6" y2="596"/>
<line x1="419.5" y1="591.4" x2="435.9" y2="597.5"/>
<line x1="419.5" y1="591.4" x2="415" y2="607"/>
<line x1="415" y1="607" x2="429.8" y2="608"/>
<line x1="429.8" y1="608" x2="435.9" y2="597.5"/>
<line x1="429.8" y1="608" x2="442.8" y2="609.8"/>
<line x1="442.8" y1="609.8" x2="454.6" y2="596"/>
<line x1="432.1" y1="585.3" x2="448.5" y2="586.4"/>
<line x1="435.9" y1="597.5" x2="454.6" y2="596"/>
<line x1="435.9" y1="597.5" x2="442.8" y2="609.8"/>
<line x1="522.5" y1="582" x2="506.5" y2="598.4"/>
<line x1="522.5" y1="582" x2="538.9" y2="597.5"/>
<line x1="522.5" y1="582" x2="522.9" y2="613.3"/>
<line x1="506.5" y1="598.4" x2="538.9" y2="597.5"/>
<line x1="506.5" y1="598.4" x2="522.9" y2="613.3"/>
<line x1="538.9" y1="597.5" x2="522.9" y2="613.3"/>
<line x1="564.9" y1="552.8" x2="588" y2="548.9"/>
<line x1="564.9" y1="552.8" x2="547.1" y2="563.3"/>
<line x1="564.9" y1="552.8" x2="578.5" y2="567.7"/>
<line x1="564.9" y1="552.8" x2="573.8" y2="583.5"/>
<line x1="564.9" y1="552.8" x2="554.2" y2="581.9"/>
<line x1="547.1" y1="563.3" x2="578.5" y2="567.7"/>
<line x1="547.1" y1="563.3" x2="573.8" y2="583.5"/>
<line x1="547.1" y1="563.3" x2="554.2" y2="581.9"/>
<line x1="547.1" y1="563.3" x2="600.6" y2="567.7"/>
<line x1="588" y1="548.9" x2="578.5" y2="567.7"/>
<line x1="588" y1="548.9" x2="600.6" y2="567.7"/>
<line x1="578.5" y1="567.7" x2="600.6" y2="567.7"/>
<line x1="578.5" y1="567.7" x2="573.8" y2="583.5"/>
<line x1="578.5" y1="567.7" x2="605" y2="587.4"/>
<line x1="578.5" y1="567.7" x2="587.2" y2="595.3"/>
<line x1="600.6" y1="567.7" x2="573.8" y2="583.5"/>
<line x1="600.6" y1="567.7" x2="605" y2="587.4"/>
<line x1="600.6" y1="567.7" x2="587.2" y2="595.3"/>
<line x1="573.8" y1="583.5" x2="605" y2="587.4"/>
<line x1="573.8" y1="583.5" x2="587.2" y2="595.3"/>
<line x1="573.8" y1="583.5" x2="564.4" y2="596.8"/>
<line x1="573.8" y1="583.5" x2="554.2" y2="581.9"/>
<line x1="554.2" y1="581.9" x2="578.5" y2="567.7"/>
<line x1="554.2" y1="581.9" x2="605" y2="587.4"/>
<line x1="564.4" y1="596.8" x2="554.5" y2="611.8"/>
<line x1="567.71" y1="478.5" x2="616.8" y2="512.5"/>
<line x1="567.71" y1="478.5" x2="612.1" y2="528.5"/>
<line x1="572" y1="494.5" x2="616.8" y2="512.5"/>
<line x1="572" y1="494.5" x2="612.1" y2="528.5"/>
<line x1="567.71" y1="510.5" x2="616.8" y2="512.5"/>
<line x1="567.71" y1="510.5" x2="612.1" y2="528.5"/>
<line x1="556" y1="522.21" x2="612.1" y2="528.5"/>
<line x1="572" y1="494.5" x2="616.8" y2="544.2"/>
<line x1="540" y1="462.5" x2="556" y2="466.79"/>
<line x1="540" y1="462.5" x2="567.71" y2="478.5"/>
<line x1="540" y1="462.5" x2="572" y2="494.5"/>
<line x1="540" y1="462.5" x2="567.71" y2="510.5"/>
<line x1="540" y1="462.5" x2="556" y2="522.21"/>
<line x1="540" y1="462.5" x2="540" y2="526.5"/>
<line x1="540" y1="462.5" x2="524" y2="522.21"/>
<line x1="540" y1="462.5" x2="512.29" y2="510.5"/>
<line x1="540" y1="462.5" x2="508" y2="494.5"/>
<line x1="540" y1="462.5" x2="512.29" y2="478.5"/>
<line x1="540" y1="462.5" x2="524" y2="466.79"/>
<line x1="556" y1="466.79" x2="567.71" y2="478.5"/>
<line x1="556" y1="466.79" x2="572" y2="494.5"/>
<line x1="556" y1="466.79" x2="567.71" y2="510.5"/>
<line x1="556" y1="466.79" x2="556" y2="522.21"/>
<line x1="556" y1="466.79" x2="540" y2="526.5"/>
<line x1="556" y1="466.79" x2="524" y2="522.21"/>
<line x1="556" y1="466.79" x2="512.29" y2="510.5"/>
<line x1="556" y1="466.79" x2="508" y2="494.5"/>
<line x1="556" y1="466.79" x2="512.29" y2="478.5"/>
<line x1="556" y1="466.79" x2="524" y2="466.79"/>
<line x1="567.71" y1="478.5" x2="572" y2="494.5"/>
<line x1="567.71" y1="478.5" x2="567.71" y2="510.5"/>
<line x1="567.71" y1="478.5" x2="556" y2="522.21"/>
<line x1="567.71" y1="478.5" x2="540" y2="526.5"/>
<line x1="567.71" y1="478.5" x2="524" y2="522.21"/>
<line x1="567.71" y1="478.5" x2="512.29" y2="510.5"/>
<line x1="567.71" y1="478.5" x2="508" y2="494.5"/>
<line x1="567.71" y1="478.5" x2="512.29" y2="478.5"/>
<line x1="567.71" y1="478.5" x2="524" y2="466.79"/>
<line x1="572" y1="494.5" x2="567.71" y2="510.5"/>
<line x1="572" y1="494.5" x2="556" y2="522.21"/>
<line x1="572" y1="494.5" x2="540" y2="526.5"/>
<line x1="572" y1="494.5" x2="524" y2="522.21"/>
<line x1="572" y1="494.5" x2="512.29" y2="510.5"/>
<line x1="572" y1="494.5" x2="508" y2="494.5"/>
<line x1="572" y1="494.5" x2="512.29" y2="478.5"/>
<line x1="572" y1="494.5" x2="524" y2="466.79"/>
<line x1="567.71" y1="510.5" x2="556" y2="522.21"/>
<line x1="567.71" y1="510.5" x2="540" y2="526.5"/>
<line x1="567.71" y1="510.5" x2="524" y2="522.21"/>
<line x1="567.71" y1="510.5" x2="512.29" y2="510.5"/>
<line x1="567.71" y1="510.5" x2="508" y2="494.5"/>
<line x1="567.71" y1="510.5" x2="512.29" y2="478.5"/>
<line x1="567.71" y1="510.5" x2="524" y2="466.79"/>
<line x1="556" y1="522.21" x2="540" y2="526.5"/>
<line x1="556" y1="522.21" x2="524" y2="522.21"/>
<line x1="556" y1="522.21" x2="512.29" y2="510.5"/>
<line x1="556" y1="522.21" x2="508" y2="494.5"/>
<line x1="556" y1="522.21" x2="512.29" y2="478.5"/>
<line x1="556" y1="522.21" x2="524" y2="466.79"/>
<line x1="540" y1="526.5" x2="524" y2="522.21"/>
<line x1="540" y1="526.5" x2="512.29" y2="510.5"/>
<line x1="540" y1="526.5" x2="508" y2="494.5"/>
<line x1="540" y1="526.5" x2="512.29" y2="478.5"/>
<line x1="540" y1="526.5" x2="524" y2="466.79"/>
<line x1="524" y1="522.21" x2="512.29" y2="510.5"/>
<line x1="524" y1="522.21" x2="508" y2="494.5"/>
<line x1="524" y1="522.21" x2="512.29" y2="478.5"/>
<line x1="524" y1="522.21" x2="524" y2="466.79"/>
<line x1="512.29" y1="510.5" x2="508" y2="494.5"/>
<line x1="512.29" y1="510.5" x2="512.29" y2="478.5"/>
<line x1="512.29" y1="510.5" x2="524" y2="466.79"/>
<line x1="508" y1="494.5" x2="512.29" y2="478.5"/>
<line x1="508" y1="494.5" x2="524" y2="466.79"/>
<line x1="512.29" y1="478.5" x2="524" y2="466.79"/>
<line x1="630.6" y1="503" x2="647" y2="503"/>
<line x1="630.6" y1="503" x2="660.8" y2="512.5"/>
<line x1="630.6" y1="503" x2="665.8" y2="528.5"/>
<line x1="630.6" y1="503" x2="660.2" y2="544.2"/>
<line x1="630.6" y1="503" x2="647" y2="553.6"/>
<line x1="630.6" y1="503" x2="630.6" y2="553.6"/>
<line x1="630.6" y1="503" x2="616.8" y2="544.2"/>
<line x1="630.6" y1="503" x2="612.1" y2="528.5"/>
<line x1="630.6" y1="503" x2="616.8" y2="512.5"/>
<line x1="647" y1="503" x2="660.8" y2="512.5"/>
<line x1="647" y1="503" x2="665.8" y2="528.5"/>
<line x1="647" y1="503" x2="660.2" y2="544.2"/>
<line x1="647" y1="503" x2="647" y2="553.6"/>
<line x1="647" y1="503" x2="630.6" y2="553.6"/>
<line x1="647" y1="503" x2="616.8" y2="544.2"/>
<line x1="647" y1="503" x2="612.1" y2="528.5"/>
<line x1="647" y1="503" x2="616.8" y2="512.5"/>
<line x1="660.8" y1="512.5" x2="665.8" y2="528.5"/>
<line x1="660.8" y1="512.5" x2="660.2" y2="544.2"/>
<line x1="660.8" y1="512.5" x2="647" y2="553.6"/>
<line x1="660.8" y1="512.5" x2="630.6" y2="553.6"/>
<line x1="660.8" y1="512.5" x2="616.8" y2="544.2"/>
<line x1="660.8" y1="512.5" x2="612.1" y2="528.5"/>
<line x1="660.8" y1="512.5" x2="616.8" y2="512.5"/>
<line x1="665.8" y1="528.5" x2="660.2" y2="544.2"/>
<line x1="665.8" y1="528.5" x2="647" y2="553.6"/>
<line x1="665.8" y1="528.5" x2="630.6" y2="553.6"/>
<line x1="665.8" y1="528.5" x2="616.8" y2="544.2"/>
<line x1="665.8" y1="528.5" x2="612.1" y2="528.5"/>
<line x1="665.8" y1="528.5" x2="616.8" y2="512.5"/>
<line x1="660.2" y1="544.2" x2="647" y2="553.6"/>
<line x1="660.2" y1="544.2" x2="630.6" y2="553.6"/>
<line x1="660.2" y1="544.2" x2="616.8" y2="544.2"/>
<line x1="660.2" y1="544.2" x2="612.1" y2="528.5"/>
<line x1="660.2" y1="544.2" x2="616.8" y2="512.5"/>
<line x1="647" y1="553.6" x2="630.6" y2="553.6"/>
<line x1="647" y1="553.6" x2="616.8" y2="544.2"/>
<line x1="647" y1="553.6" x2="612.1" y2="528.5"/>
<line x1="647" y1="553.6" x2="616.8" y2="512.5"/>
<line x1="630.6" y1="553.6" x2="616.8" y2="544.2"/>
<line x1="630.6" y1="553.6" x2="612.1" y2="528.5"/>
<line x1="630.6" y1="553.6" x2="616.8" y2="512.5"/>
<line x1="616.8" y1="544.2" x2="612.1" y2="528.5"/>
<line x1="616.8" y1="544.2" x2="616.8" y2="512.5"/>
<line x1="612.1" y1="528.5" x2="616.8" y2="512.5"/>
</g>
<g fill="none" stroke="#b0278f" stroke-width="1.25" stroke-dasharray="2.4 1.2">
<ellipse cx="462.7" cy="486.0" rx="27.6" ry="33.2"/>
<ellipse cx="432.9" cy="598.9" rx="29.9" ry="23.9"/>
<circle cx="541.0" cy="495.0" r="42.6"/>
<circle cx="637.1" cy="527.7" r="36.5"/>
</g>
<circle cx="445" cy="470.7" r="6.7" fill="#ff0000"/>
<circle cx="463.4" cy="466.3" r="6.3" fill="#ff0000"/>
<circle cx="459.8" cy="482" r="5" fill="#ff0000"/>
<circle cx="472.5" cy="479" r="5.5" fill="#ff0000"/>
<circle cx="445.8" cy="486.8" r="5.8" fill="#ff0000"/>
<circle cx="462.9" cy="495.5" r="7.4" fill="#ff0000"/>
<circle cx="478.4" cy="491.1" r="4.4" fill="#ff0000"/>
<circle cx="447.7" cy="500.1" r="5" fill="#ff0000"/>
<circle cx="477" cy="504.3" r="5.5" fill="#ff0000"/>
<circle cx="464.4" cy="510.5" r="5.8" fill="#ff0000"/>
<circle cx="396.4" cy="514.9" r="5.4" fill="#ff0000"/>
<circle cx="416" cy="510" r="4" fill="#ff0000"/>
<circle cx="427.2" cy="518.5" r="3.7" fill="#6495ed"/>
<circle cx="409.7" cy="525.5" r="6.8" fill="#ff0000"/>
<circle cx="394.9" cy="530" r="4" fill="#ff0000"/>
<circle cx="422.5" cy="532.6" r="5.3" fill="#ff0000"/>
<circle cx="406.4" cy="540.6" r="4.7" fill="#ff0000"/>
<circle cx="450" cy="533.4" r="4.4" fill="#ff0000"/>
<circle cx="467" cy="537.9" r="4.8" fill="#ff0000"/>
<circle cx="446.8" cy="544.3" r="3.6" fill="#6495ed"/>
<circle cx="439.8" cy="549.2" r="3.5" fill="#ff0000"/>
<circle cx="461.9" cy="550.5" r="4.5" fill="#ff0000"/>
<circle cx="451.2" cy="557.1" r="3.6" fill="#ff0000"/>
<circle cx="449.3" cy="564.5" r="3.5" fill="#ff0000"/>
<circle cx="466.4" cy="564.8" r="5.6" fill="#ff0000"/>
<circle cx="476.3" cy="546.7" r="3.8" fill="#ff0000"/>
<circle cx="475.2" cy="557.3" r="3.6" fill="#ff0000"/>
<circle cx="491.7" cy="530.1" r="3.5" fill="#ff0000"/>
<circle cx="485.1" cy="537.3" r="4.3" fill="#ff0000"/>
<circle cx="503.8" cy="536.9" r="4.3" fill="#ff0000"/>
<circle cx="494" cy="549.5" r="4.3" fill="#ff0000"/>
<circle cx="507.3" cy="551" r="4.3" fill="#ff0000"/>
<circle cx="501.5" cy="562.7" r="3.9" fill="#ff0000"/>
<circle cx="483.2" cy="570" r="5.2" fill="#ff0000"/>
<circle cx="467.7" cy="575.5" r="3.6" fill="#ff0000"/>
<circle cx="432.1" cy="585.3" r="4.3" fill="#ff0000"/>
<circle cx="448.5" cy="586.4" r="4.6" fill="#ff0000"/>
<circle cx="435.9" cy="597.5" r="5.2" fill="#ff0000"/>
<circle cx="419.5" cy="591.4" r="3.6" fill="#ff0000"/>
<circle cx="454.6" cy="596" r="4" fill="#ff0000"/>
<circle cx="415" cy="607" r="4" fill="#ff0000"/>
<circle cx="429.8" cy="608" r="5" fill="#ff0000"/>
<circle cx="442.8" cy="609.8" r="4.3" fill="#ff0000"/>
<circle cx="522.5" cy="582" r="6" fill="#ff0000"/>
<circle cx="506.5" cy="598.4" r="6" fill="#ff0000"/>
<circle cx="538.9" cy="597.5" r="6" fill="#ff0000"/>
<circle cx="522.9" cy="613.3" r="6" fill="#ff0000"/>
<circle cx="564.9" cy="552.8" r="5.2" fill="#ff0000"/>
<circle cx="547.1" cy="563.3" r="4.8" fill="#ff0000"/>
<circle cx="554.2" cy="581.9" r="4.8" fill="#ff0000"/>
<circle cx="588" cy="548.9" r="5" fill="#6495ed"/>
<circle cx="578.5" cy="567.7" r="6.5" fill="#6495ed"/>
<circle cx="600.6" cy="567.7" r="5" fill="#6495ed"/>
<circle cx="573.8" cy="583.5" r="6.7" fill="#6495ed"/>
<circle cx="605" cy="587.4" r="4.7" fill="#ff0000"/>
<circle cx="587.2" cy="595.3" r="4.8" fill="#6495ed"/>
<circle cx="564.4" cy="596.8" r="3.8" fill="#6495ed"/>
<circle cx="554.5" cy="611.8" r="3.3" fill="#6495ed"/>
<circle cx="540" cy="462.5" r="7.7" fill="#6495ed"/>
<circle cx="556" cy="466.79" r="7.7" fill="#6495ed"/>
<circle cx="567.71" cy="478.5" r="7.7" fill="#6495ed"/>
<circle cx="572" cy="494.5" r="7.7" fill="#6495ed"/>
<circle cx="567.71" cy="510.5" r="7.7" fill="#6495ed"/>
<circle cx="556" cy="522.21" r="7.7" fill="#6495ed"/>
<circle cx="540" cy="526.5" r="7.7" fill="#6495ed"/>
<circle cx="524" cy="522.21" r="7.7" fill="#6495ed"/>
<circle cx="512.29" cy="510.5" r="7.7" fill="#6495ed"/>
<circle cx="508" cy="494.5" r="7.7" fill="#6495ed"/>
<circle cx="512.29" cy="478.5" r="7.7" fill="#6495ed"/>
<circle cx="524" cy="466.79" r="7.7" fill="#6495ed"/>
<circle cx="630.6" cy="503" r="6.5" fill="#6495ed"/>
<circle cx="647" cy="503" r="6.5" fill="#6495ed"/>
<circle cx="660.8" cy="512.5" r="6.5" fill="#6495ed"/>
<circle cx="665.8" cy="528.5" r="6" fill="#6495ed"/>
<circle cx="660.2" cy="544.2" r="6.5" fill="#6495ed"/>
<circle cx="647" cy="553.6" r="6.5" fill="#6495ed"/>
<circle cx="630.6" cy="553.6" r="6" fill="#6495ed"/>
<circle cx="616.8" cy="544.2" r="7" fill="#6495ed"/>
<circle cx="612.1" cy="528.5" r="8.5" fill="#6495ed"/>
<circle cx="616.8" cy="512.5" r="7" fill="#6495ed"/>
<g text-rendering="geometricPrecision">
<text x="445" y="472" font-size="4.0" text-anchor="middle" fill="#111" stroke="#111" stroke-width="0.07" stroke-linejoin="round" text-rendering="geometricPrecision">AGRN</text>
<text x="463.4" y="467.6" font-size="4.0" text-anchor="middle" fill="#111" stroke="#111" stroke-width="0.07" stroke-linejoin="round" text-rendering="geometricPrecision">ITGA5</text>
<text x="459.8" y="483.3" font-size="4.0" text-anchor="middle" fill="#111" stroke="#111" stroke-width="0.07" stroke-linejoin="round" text-rendering="geometricPrecision">LAMB2</text>
<text x="472.5" y="480.3" font-size="4.0" text-anchor="middle" fill="#111" stroke="#111" stroke-width="0.07" stroke-linejoin="round" text-rendering="geometricPrecision">LAMA5</text>
<text x="445.8" y="488.1" font-size="4.0" text-anchor="middle" fill="#111" stroke="#111" stroke-width="0.07" stroke-linejoin="round" text-rendering="geometricPrecision">ITGA2</text>
<text x="462.9" y="496.8" font-size="4.0" text-anchor="middle" fill="#111" stroke="#111" stroke-width="0.07" stroke-linejoin="round" text-rendering="geometricPrecision">ITGB3</text>
<text x="478.4" y="492.4" font-size="4.0" text-anchor="middle" fill="#111" stroke="#111" stroke-width="0.07" stroke-linejoin="round" text-rendering="geometricPrecision">DAG1</text>
<text x="447.7" y="501.4" font-size="4.0" text-anchor="middle" fill="#111" stroke="#111" stroke-width="0.07" stroke-linejoin="round" text-rendering="geometricPrecision">SDC4</text>
<text x="477" y="505.6" font-size="4.0" text-anchor="middle" fill="#111" stroke="#111" stroke-width="0.07" stroke-linejoin="round" text-rendering="geometricPrecision">COL6A1</text>
<text x="464.4" y="511.8" font-size="4.0" text-anchor="middle" fill="#111" stroke="#111" stroke-width="0.07" stroke-linejoin="round" text-rendering="geometricPrecision">TNC</text>
<text x="396.4" y="516.2" font-size="4.0" text-anchor="middle" fill="#111" stroke="#111" stroke-width="0.07" stroke-linejoin="round" text-rendering="geometricPrecision">LRP1</text>
<text x="416" y="511.3" font-size="4.0" text-anchor="middle" fill="#111" stroke="#111" stroke-width="0.07" stroke-linejoin="round" text-rendering="geometricPrecision">EFNA1</text>
<text x="427.2" y="519.8" font-size="4.0" text-anchor="middle" fill="#111" stroke="#111" stroke-width="0.07" stroke-linejoin="round" text-rendering="geometricPrecision">EPHA2</text>
<text x="409.7" y="526.8" font-size="4.0" text-anchor="middle" fill="#111" stroke="#111" stroke-width="0.07" stroke-linejoin="round" text-rendering="geometricPrecision">APOE</text>
<text x="394.9" y="531.3" font-size="4.0" text-anchor="middle" fill="#111" stroke="#111" stroke-width="0.07" stroke-linejoin="round" text-rendering="geometricPrecision">MIF</text>
<text x="422.5" y="533.9" font-size="4.0" text-anchor="middle" fill="#111" stroke="#111" stroke-width="0.07" stroke-linejoin="round" text-rendering="geometricPrecision">CDH1</text>
<text x="406.4" y="541.9" font-size="4.0" text-anchor="middle" fill="#111" stroke="#111" stroke-width="0.07" stroke-linejoin="round" text-rendering="geometricPrecision">WNT5A</text>
<text x="450" y="534.7" font-size="4.0" text-anchor="middle" fill="#111" stroke="#111" stroke-width="0.07" stroke-linejoin="round" text-rendering="geometricPrecision">IGFBP3</text>
<text x="467" y="539.2" font-size="4.0" text-anchor="middle" fill="#111" stroke="#111" stroke-width="0.07" stroke-linejoin="round" text-rendering="geometricPrecision">TGFBI</text>
<text x="446.8" y="545.6" font-size="4.0" text-anchor="middle" fill="#111" stroke="#111" stroke-width="0.07" stroke-linejoin="round" text-rendering="geometricPrecision">KIT</text>
<text x="439.8" y="550.5" font-size="4.0" text-anchor="middle" fill="#111" stroke="#111" stroke-width="0.07" stroke-linejoin="round" text-rendering="geometricPrecision">CD9</text>
<text x="461.9" y="551.8" font-size="4.0" text-anchor="middle" fill="#111" stroke="#111" stroke-width="0.07" stroke-linejoin="round" text-rendering="geometricPrecision">VLDLR</text>
<text x="451.2" y="558.4" font-size="4.0" text-anchor="middle" fill="#111" stroke="#111" stroke-width="0.07" stroke-linejoin="round" text-rendering="geometricPrecision">PCOLCE</text>
<text x="449.3" y="565.8" font-size="4.0" text-anchor="middle" fill="#111" stroke="#111" stroke-width="0.07" stroke-linejoin="round" text-rendering="geometricPrecision">SLC16A3</text>
<text x="466.4" y="566.1" font-size="4.0" text-anchor="middle" fill="#111" stroke="#111" stroke-width="0.07" stroke-linejoin="round" text-rendering="geometricPrecision">PLAU</text>
<text x="476.3" y="548" font-size="4.0" text-anchor="middle" fill="#111" stroke="#111" stroke-width="0.07" stroke-linejoin="round" text-rendering="geometricPrecision">SPARC</text>
<text x="475.2" y="558.6" font-size="4.0" text-anchor="middle" fill="#111" stroke="#111" stroke-width="0.07" stroke-linejoin="round" text-rendering="geometricPrecision">SPP1</text>
<text x="491.7" y="531.4" font-size="4.0" text-anchor="middle" fill="#111" stroke="#111" stroke-width="0.07" stroke-linejoin="round" text-rendering="geometricPrecision">PTPRS</text>
<text x="485.1" y="538.6" font-size="4.0" text-anchor="middle" fill="#111" stroke="#111" stroke-width="0.07" stroke-linejoin="round" text-rendering="geometricPrecision">PLOD2</text>
<text x="503.8" y="538.2" font-size="4.0" text-anchor="middle" fill="#111" stroke="#111" stroke-width="0.07" stroke-linejoin="round" text-rendering="geometricPrecision">P4HA2</text>
<text x="494" y="550.8" font-size="4.0" text-anchor="middle" fill="#111" stroke="#111" stroke-width="0.07" stroke-linejoin="round" text-rendering="geometricPrecision">GAA</text>
<text x="507.3" y="552.3" font-size="4.0" text-anchor="middle" fill="#111" stroke="#111" stroke-width="0.07" stroke-linejoin="round" text-rendering="geometricPrecision">P4HA1</text>
<text x="501.5" y="564" font-size="4.0" text-anchor="middle" fill="#111" stroke="#111" stroke-width="0.07" stroke-linejoin="round" text-rendering="geometricPrecision">SDS</text>
<text x="483.2" y="571.3" font-size="4.0" text-anchor="middle" fill="#111" stroke="#111" stroke-width="0.07" stroke-linejoin="round" text-rendering="geometricPrecision">ITGB5</text>
<text x="467.7" y="576.8" font-size="4.0" text-anchor="middle" fill="#111" stroke="#111" stroke-width="0.07" stroke-linejoin="round" text-rendering="geometricPrecision">GBE1</text>
<text x="432.1" y="586.6" font-size="4.0" text-anchor="middle" fill="#111" stroke="#111" stroke-width="0.07" stroke-linejoin="round" text-rendering="geometricPrecision">PFKP</text>
<text x="448.5" y="587.7" font-size="4.0" text-anchor="middle" fill="#111" stroke="#111" stroke-width="0.07" stroke-linejoin="round" text-rendering="geometricPrecision">SLC2A1</text>
<text x="435.9" y="598.8" font-size="4.0" text-anchor="middle" fill="#111" stroke="#111" stroke-width="0.07" stroke-linejoin="round" text-rendering="geometricPrecision">SERPINE1</text>
<text x="419.5" y="592.7" font-size="4.0" text-anchor="middle" fill="#111" stroke="#111" stroke-width="0.07" stroke-linejoin="round" text-rendering="geometricPrecision">NPPC</text>
<text x="454.6" y="597.3" font-size="4.0" text-anchor="middle" fill="#111" stroke="#111" stroke-width="0.07" stroke-linejoin="round" text-rendering="geometricPrecision">PGK1</text>
<text x="415" y="608.3" font-size="4.0" text-anchor="middle" fill="#111" stroke="#111" stroke-width="0.07" stroke-linejoin="round" text-rendering="geometricPrecision">PFKFB4</text>
<text x="429.8" y="609.3" font-size="4.0" text-anchor="middle" fill="#111" stroke="#111" stroke-width="0.07" stroke-linejoin="round" text-rendering="geometricPrecision">HK2</text>
<text x="442.8" y="611.1" font-size="4.0" text-anchor="middle" fill="#111" stroke="#111" stroke-width="0.07" stroke-linejoin="round" text-rendering="geometricPrecision">EGLN3</text>
<text x="522.5" y="583.3" font-size="4.0" text-anchor="middle" fill="#111" stroke="#111" stroke-width="0.07" stroke-linejoin="round" text-rendering="geometricPrecision">HLA-B</text>
<text x="506.5" y="599.7" font-size="4.0" text-anchor="middle" fill="#111" stroke="#111" stroke-width="0.07" stroke-linejoin="round" text-rendering="geometricPrecision">IFIT2</text>
<text x="538.9" y="598.8" font-size="4.0" text-anchor="middle" fill="#111" stroke="#111" stroke-width="0.07" stroke-linejoin="round" text-rendering="geometricPrecision">HLA-C</text>
<text x="522.9" y="614.6" font-size="4.0" text-anchor="middle" fill="#111" stroke="#111" stroke-width="0.07" stroke-linejoin="round" text-rendering="geometricPrecision">IFIT3</text>
<text x="564.9" y="554.1" font-size="4.0" text-anchor="middle" fill="#111" stroke="#111" stroke-width="0.07" stroke-linejoin="round" text-rendering="geometricPrecision">CDC6</text>
<text x="547.1" y="564.6" font-size="4.0" text-anchor="middle" fill="#111" stroke="#111" stroke-width="0.07" stroke-linejoin="round" text-rendering="geometricPrecision">HECTD2</text>
<text x="554.2" y="583.2" font-size="4.0" text-anchor="middle" fill="#111" stroke="#111" stroke-width="0.07" stroke-linejoin="round" text-rendering="geometricPrecision">UBE2S</text>
<text x="588" y="550.2" font-size="4.0" text-anchor="middle" fill="#111" stroke="#111" stroke-width="0.07" stroke-linejoin="round" text-rendering="geometricPrecision">UBE2T</text>
<text x="578.5" y="569" font-size="4.0" text-anchor="middle" fill="#111" stroke="#111" stroke-width="0.07" stroke-linejoin="round" text-rendering="geometricPrecision">UBE2C</text>
<text x="600.6" y="569" font-size="4.0" text-anchor="middle" fill="#111" stroke="#111" stroke-width="0.07" stroke-linejoin="round" text-rendering="geometricPrecision">AURKA</text>
<text x="573.8" y="584.8" font-size="4.0" text-anchor="middle" fill="#111" stroke="#111" stroke-width="0.07" stroke-linejoin="round" text-rendering="geometricPrecision">CDC20</text>
<text x="605" y="588.7" font-size="4.0" text-anchor="middle" fill="#111" stroke="#111" stroke-width="0.07" stroke-linejoin="round" text-rendering="geometricPrecision">CDT1</text>
<text x="587.2" y="596.6" font-size="4.0" text-anchor="middle" fill="#111" stroke="#111" stroke-width="0.07" stroke-linejoin="round" text-rendering="geometricPrecision">NUSAP1</text>
<text x="564.4" y="598.1" font-size="4.0" text-anchor="middle" fill="#111" stroke="#111" stroke-width="0.07" stroke-linejoin="round" text-rendering="geometricPrecision">CENPH</text>
<text x="554.5" y="613.1" font-size="4.0" text-anchor="middle" fill="#111" stroke="#111" stroke-width="0.07" stroke-linejoin="round" text-rendering="geometricPrecision">MIS18A</text>
<text x="540" y="463.8" font-size="4.0" text-anchor="middle" fill="#111" stroke="#111" stroke-width="0.07" stroke-linejoin="round" text-rendering="geometricPrecision">RPL13</text>
<text x="556" y="468.09" font-size="4.0" text-anchor="middle" fill="#111" stroke="#111" stroke-width="0.07" stroke-linejoin="round" text-rendering="geometricPrecision">RPL35</text>
<text x="567.71" y="479.8" font-size="4.0" text-anchor="middle" fill="#111" stroke="#111" stroke-width="0.07" stroke-linejoin="round" text-rendering="geometricPrecision">RPL19</text>
<text x="572" y="495.8" font-size="4.0" text-anchor="middle" fill="#111" stroke="#111" stroke-width="0.07" stroke-linejoin="round" text-rendering="geometricPrecision">RPL18A</text>
<text x="567.71" y="511.8" font-size="4.0" text-anchor="middle" fill="#111" stroke="#111" stroke-width="0.07" stroke-linejoin="round" text-rendering="geometricPrecision">RPL26</text>
<text x="556" y="523.51" font-size="4.0" text-anchor="middle" fill="#111" stroke="#111" stroke-width="0.07" stroke-linejoin="round" text-rendering="geometricPrecision">RPL18</text>
<text x="540" y="527.8" font-size="4.0" text-anchor="middle" fill="#111" stroke="#111" stroke-width="0.07" stroke-linejoin="round" text-rendering="geometricPrecision">RPL29</text>
<text x="524" y="523.51" font-size="4.0" text-anchor="middle" fill="#111" stroke="#111" stroke-width="0.07" stroke-linejoin="round" text-rendering="geometricPrecision">RPL36A</text>
<text x="512.29" y="511.8" font-size="4.0" text-anchor="middle" fill="#111" stroke="#111" stroke-width="0.07" stroke-linejoin="round" text-rendering="geometricPrecision">RPL6</text>
<text x="508" y="495.8" font-size="4.0" text-anchor="middle" fill="#111" stroke="#111" stroke-width="0.07" stroke-linejoin="round" text-rendering="geometricPrecision">RPL34</text>
<text x="512.29" y="479.8" font-size="4.0" text-anchor="middle" fill="#111" stroke="#111" stroke-width="0.07" stroke-linejoin="round" text-rendering="geometricPrecision">RPL24</text>
<text x="524" y="468.09" font-size="4.0" text-anchor="middle" fill="#111" stroke="#111" stroke-width="0.07" stroke-linejoin="round" text-rendering="geometricPrecision">RPL7A</text>
<text x="630.6" y="504.3" font-size="4.0" text-anchor="middle" fill="#111" stroke="#111" stroke-width="0.07" stroke-linejoin="round" text-rendering="geometricPrecision">SDAD1</text>
<text x="647" y="504.3" font-size="4.0" text-anchor="middle" fill="#111" stroke="#111" stroke-width="0.07" stroke-linejoin="round" text-rendering="geometricPrecision">DDX54</text>
<text x="660.8" y="513.8" font-size="4.0" text-anchor="middle" fill="#111" stroke="#111" stroke-width="0.07" stroke-linejoin="round" text-rendering="geometricPrecision">RBM28</text>
<text x="665.8" y="529.8" font-size="4.0" text-anchor="middle" fill="#111" stroke="#111" stroke-width="0.07" stroke-linejoin="round" text-rendering="geometricPrecision">DIMT1</text>
<text x="660.2" y="545.5" font-size="4.0" text-anchor="middle" fill="#111" stroke="#111" stroke-width="0.07" stroke-linejoin="round" text-rendering="geometricPrecision">GNL2</text>
<text x="647" y="554.9" font-size="4.0" text-anchor="middle" fill="#111" stroke="#111" stroke-width="0.07" stroke-linejoin="round" text-rendering="geometricPrecision">DDX52</text>
<text x="630.6" y="554.9" font-size="4.0" text-anchor="middle" fill="#111" stroke="#111" stroke-width="0.07" stroke-linejoin="round" text-rendering="geometricPrecision">NOB1</text>
<text x="616.8" y="545.5" font-size="4.0" text-anchor="middle" fill="#111" stroke="#111" stroke-width="0.07" stroke-linejoin="round" text-rendering="geometricPrecision">RSL1D1</text>
<text x="612.1" y="529.8" font-size="4.0" text-anchor="middle" fill="#111" stroke="#111" stroke-width="0.07" stroke-linejoin="round" text-rendering="geometricPrecision">RRP9</text>
<text x="616.8" y="513.8" font-size="4.0" text-anchor="middle" fill="#111" stroke="#111" stroke-width="0.07" stroke-linejoin="round" text-rendering="geometricPrecision">NOP2</text>
</g>
<text x="420" y="448.6" font-size="7.45" font-family="Liberation Serif, serif" font-weight="bold" fill="#111">ECM-receptor interaction</text>
<text x="565.5" y="453.8" font-size="7.4" font-family="Liberation Serif, serif" font-weight="bold" fill="#111">Ribosome</text>
<text x="605.5" y="489.1" font-size="7.45" font-family="Liberation Serif, serif" font-weight="bold" fill="#111">Ribosome biogenesis</text>
<text x="393.5" y="634.5" font-size="7.4" font-family="Liberation Serif, serif" font-weight="bold" fill="#111">HIF-1 signaling pathway</text>
</svg></body></html>
